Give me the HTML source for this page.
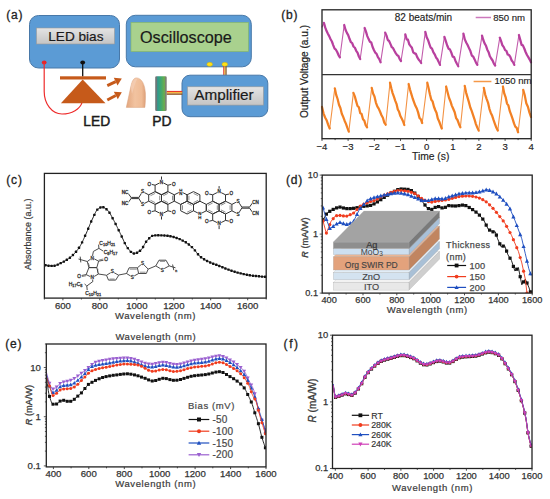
<!DOCTYPE html>
<html><head><meta charset="utf-8"><style>
html,body{margin:0;padding:0;background:#fff;}
svg{display:block;font-family:"Liberation Sans", sans-serif;}
</style></head><body>
<svg width="550" height="499" viewBox="0 0 550 499">
<defs>
<linearGradient id="gray" x1="0" y1="0" x2="0" y2="1"><stop offset="0" stop-color="#e4e4e4"/><stop offset="1" stop-color="#c4c4c4"/></linearGradient>
<linearGradient id="pdg" x1="0" y1="0" x2="1" y2="0"><stop offset="0" stop-color="#6c7676"/><stop offset="0.13" stop-color="#6c7878"/><stop offset="0.22" stop-color="#2f9a8e"/><stop offset="0.5" stop-color="#40a770"/><stop offset="0.8" stop-color="#6cae4c"/><stop offset="0.88" stop-color="#7a8474"/><stop offset="1" stop-color="#7a8070"/></linearGradient>
<linearGradient id="skin" x1="0" y1="0" x2="1" y2="0"><stop offset="0" stop-color="#e2a67e"/><stop offset="0.45" stop-color="#f2c3a0"/><stop offset="0.8" stop-color="#efbb95"/><stop offset="1" stop-color="#dc9f78"/></linearGradient>
</defs>
<rect width="550" height="499" fill="#fff"/>
<text x="6.3" y="19.2" font-size="12" fill="#222" font-weight="normal" text-anchor="start" letter-spacing="0.8" stroke="#222" stroke-width="0.3" >(a)</text>
<rect x="29.5" y="15.5" width="90" height="52.5" rx="9" fill="#5b9bd5" stroke="#4878a8" stroke-width="1"/>
<rect x="36.5" y="28" width="78" height="16" fill="url(#gray)" stroke="#9a9a9a" stroke-width="0.6"/>
<text x="48.3" y="40.8" font-size="13.6" fill="#1a1a1a" font-weight="normal" text-anchor="start" stroke="#1a1a1a" stroke-width="0.2" >LED bias</text>
<rect x="126.3" y="15.3" width="125" height="51.5" rx="9" fill="#5b9bd5" stroke="#4878a8" stroke-width="1"/>
<rect x="131" y="22.5" width="117.4" height="29" fill="#a9d18e" stroke="#86b86a" stroke-width="0.7"/>
<text x="140" y="42.8" font-size="16.2" fill="#1a1a1a" font-weight="normal" text-anchor="start" stroke="#1a1a1a" stroke-width="0.2" >Oscilloscope</text>
<ellipse cx="209.7" cy="64.3" rx="2.8" ry="2" fill="#ffe01a" stroke="#c8a800" stroke-width="0.4"/>
<ellipse cx="224.8" cy="64.3" rx="2.8" ry="2" fill="#ffe01a" stroke="#c8a800" stroke-width="0.4"/>
<rect x="223.3" y="66.3" width="1.1" height="9" fill="#e02a1a"/>
<rect x="224.4" y="66.3" width="1.1" height="9" fill="#f0b020"/>
<rect x="225.5" y="66.3" width="1.1" height="9" fill="#7a4a1a"/>
<rect x="182" y="75.2" width="85.8" height="41.5" rx="8" fill="#5b9bd5" stroke="#4878a8" stroke-width="1"/>
<rect x="187.5" y="86.8" width="75.9" height="18.3" fill="url(#gray)" stroke="#9a9a9a" stroke-width="0.6"/>
<text x="194.2" y="100" font-size="15.3" fill="#1a1a1a" font-weight="normal" text-anchor="start" stroke="#1a1a1a" stroke-width="0.2" >Amplifier</text>
<rect x="166.5" y="90.9" width="15.8" height="1.3" fill="#e83a2a"/>
<rect x="166.5" y="92.2" width="15.8" height="1.3" fill="#f5b020"/>
<rect x="166.5" y="93.5" width="15.8" height="1.3" fill="#8a5020"/>
<rect x="155.2" y="76.3" width="11.5" height="34.8" rx="1.3" fill="url(#pdg)"/>
<text x="152.2" y="126" font-size="13.8" fill="#1a1a1a" font-weight="normal" text-anchor="start" stroke="#1a1a1a" stroke-width="0.45" >PD</text>
<path d="M126.3,107.4 C128,100 130,90 131.4,84.2 C132.6,79.6 134.4,77.7 136.8,77.9 C141.6,78.4 144.8,84 145.4,93 C145.7,98 145.3,103 144.9,107.4 Z" fill="url(#skin)" stroke="#dba37e" stroke-width="0.5"/>
<path d="M130.9,86.3 C132.3,80.8 134.7,78.1 137.6,78.3 C136.6,80 135.5,82.6 134.6,85.6 C133.6,89 132.6,92 132.1,94 C131.4,91.5 130.9,88.8 130.9,86.3Z" fill="#f3cdb3" opacity="0.85"/>
<ellipse cx="44.2" cy="62.6" rx="2.4" ry="2" fill="#e8262a"/>
<ellipse cx="82.7" cy="62.6" rx="2.4" ry="2" fill="#111"/>
<line x1="82.7" y1="62.6" x2="82.7" y2="76.5" stroke="#111" stroke-width="1.3"/>
<path d="M44.2,63 L44.2,91.5 C44.2,104 52,114 62,114 C72,114 80,109 82,102.6" fill="none" stroke="#ee2c2c" stroke-width="1.2"/>
<rect x="60" y="76.3" width="46" height="3.2" fill="#c65a1a"/>
<path d="M82.7,79.5 L105.5,103.2 L60.9,103.2 Z" fill="#c65a1a"/>
<line x1="107.3" y1="85.6" x2="115.7" y2="81.6" stroke="#c65a1a" stroke-width="2.9"/>
<path d="M121.8,78.6 L117.5,85.4 L113.8,77.7Z" fill="#c65a1a"/>
<line x1="107.3" y1="100.0" x2="115.8" y2="95.5" stroke="#c65a1a" stroke-width="2.9"/>
<path d="M121.8,92.3 L117.8,99.3 L113.8,91.7Z" fill="#c65a1a"/>
<text x="83.3" y="126" font-size="13.8" fill="#1a1a1a" font-weight="normal" text-anchor="start" stroke="#1a1a1a" stroke-width="0.45" >LED</text>
<text x="281.2" y="19.2" font-size="12" fill="#222" font-weight="normal" text-anchor="start" letter-spacing="0.8" stroke="#222" stroke-width="0.3" >(b)</text>
<line x1="322.0" y1="27.0" x2="323.9" y2="22.9" stroke="#b8409e" stroke-width="1.1" stroke-linecap="round" opacity="0.85"/>
<path d="M323.9,22.9 L325.2,27.4 L326.6,31.1 L327.9,33.7 L329.2,36.1 L330.6,39.3 L331.9,41.5 L333.2,45.1 L334.6,48.7 L335.9,49.7 L337.2,52.0 L338.6,55.3 L339.9,57.3" fill="none" stroke="#b8409e" stroke-width="2.25" stroke-linejoin="round" stroke-linecap="round"/>
<line x1="339.9" y1="57.3" x2="344.2" y2="25.0" stroke="#b8409e" stroke-width="1.1" stroke-linecap="round" opacity="0.85"/>
<path d="M344.2,25.0 L345.5,29.7 L346.9,32.9 L348.2,35.1 L349.5,38.8 L350.9,42.2 L352.2,43.1 L353.5,46.5 L354.9,47.8 L356.2,50.8 L357.5,52.7 L358.9,56.5 L360.2,59.0" fill="none" stroke="#b8409e" stroke-width="2.25" stroke-linejoin="round" stroke-linecap="round"/>
<line x1="360.2" y1="59.0" x2="364.6" y2="28.0" stroke="#b8409e" stroke-width="1.1" stroke-linecap="round" opacity="0.85"/>
<path d="M364.6,28.0 L365.9,31.4 L367.3,36.1 L368.6,39.1 L369.9,41.8 L371.3,42.6 L372.6,47.0 L373.9,50.0 L375.3,52.7 L376.6,53.8 L377.9,57.1 L379.3,59.1 L380.6,62.3" fill="none" stroke="#b8409e" stroke-width="2.25" stroke-linejoin="round" stroke-linecap="round"/>
<line x1="380.6" y1="62.3" x2="385.2" y2="32.6" stroke="#b8409e" stroke-width="1.1" stroke-linecap="round" opacity="0.85"/>
<path d="M385.2,32.6 L386.5,35.6 L387.8,40.0 L389.1,41.0 L390.5,44.1 L391.8,47.2 L393.1,48.2 L394.4,50.8 L395.7,53.1 L397.1,55.1 L398.4,56.0 L399.7,59.1 L401.0,61.0" fill="none" stroke="#b8409e" stroke-width="2.25" stroke-linejoin="round" stroke-linecap="round"/>
<line x1="401.0" y1="61.0" x2="405.3" y2="34.4" stroke="#b8409e" stroke-width="1.1" stroke-linecap="round" opacity="0.85"/>
<path d="M405.3,34.4 L406.6,39.3 L407.9,39.7 L409.3,44.3 L410.6,46.1 L411.9,47.8 L413.2,52.3 L414.6,53.4 L415.9,53.9 L417.2,57.1 L418.6,59.5 L419.9,60.9 L421.2,63.0" fill="none" stroke="#b8409e" stroke-width="2.25" stroke-linejoin="round" stroke-linecap="round"/>
<line x1="421.2" y1="63.0" x2="425.3" y2="31.8" stroke="#b8409e" stroke-width="1.1" stroke-linecap="round" opacity="0.85"/>
<path d="M425.3,31.8 L426.6,37.0 L428.0,39.9 L429.3,43.8 L430.6,47.5 L432.0,48.6 L433.3,52.1 L434.7,54.3 L436.0,57.4 L437.3,58.9 L438.7,61.9 L440.0,64.9" fill="none" stroke="#b8409e" stroke-width="2.25" stroke-linejoin="round" stroke-linecap="round"/>
<line x1="440.0" y1="64.9" x2="444.4" y2="36.9" stroke="#b8409e" stroke-width="1.1" stroke-linecap="round" opacity="0.85"/>
<path d="M444.4,36.9 L445.8,41.2 L447.2,45.5 L448.6,48.8 L450.0,49.6 L451.4,52.8 L452.7,56.7 L454.1,57.1 L455.5,60.9 L456.9,63.7 L458.3,66.2" fill="none" stroke="#b8409e" stroke-width="2.25" stroke-linejoin="round" stroke-linecap="round"/>
<line x1="458.3" y1="66.2" x2="463.4" y2="33.6" stroke="#b8409e" stroke-width="1.1" stroke-linecap="round" opacity="0.85"/>
<path d="M463.4,33.6 L464.8,39.4 L466.2,42.5 L467.6,45.0 L469.0,48.1 L470.4,51.1 L471.8,55.5 L473.2,56.6 L474.6,59.4 L476.0,62.6 L477.4,64.9" fill="none" stroke="#b8409e" stroke-width="2.25" stroke-linejoin="round" stroke-linecap="round"/>
<line x1="477.4" y1="64.9" x2="482.0" y2="35.6" stroke="#b8409e" stroke-width="1.1" stroke-linecap="round" opacity="0.85"/>
<path d="M482.0,35.6 L483.3,40.0 L484.6,43.4 L486.0,45.8 L487.3,49.7 L488.6,52.2 L489.9,56.3 L491.2,58.5 L492.6,60.5 L493.9,63.6 L495.2,65.5" fill="none" stroke="#b8409e" stroke-width="2.25" stroke-linejoin="round" stroke-linecap="round"/>
<line x1="495.2" y1="65.5" x2="499.8" y2="37.7" stroke="#b8409e" stroke-width="1.1" stroke-linecap="round" opacity="0.85"/>
<path d="M499.8,37.7 L501.1,41.2 L502.4,45.3 L503.8,47.1 L505.1,50.1 L506.4,50.9 L507.7,54.5 L509.0,55.0 L510.3,56.9 L511.7,60.5 L513.0,62.1 L514.3,64.9" fill="none" stroke="#b8409e" stroke-width="2.25" stroke-linejoin="round" stroke-linecap="round"/>
<line x1="514.3" y1="64.9" x2="518.9" y2="35.0" stroke="#b8409e" stroke-width="1.1" stroke-linecap="round" opacity="0.85"/>
<path d="M518.9,35.0 L520.2,39.6 L521.6,44.9 L522.9,45.4 L524.3,48.5 L525.6,52.0 L527.0,55.0 L528.3,57.1 L529.7,59.6 L531.0,62.3" fill="none" stroke="#b8409e" stroke-width="2.25" stroke-linejoin="round" stroke-linecap="round"/>
<path d="M322.0,106.9 L323.5,113.3 L325.1,117.5 L326.6,120.2 L328.2,124.8 L329.7,128.5" fill="none" stroke="#f28024" stroke-width="2.25" stroke-linejoin="round" stroke-linecap="round"/>
<line x1="329.7" y1="128.5" x2="334.8" y2="88.3" stroke="#f28024" stroke-width="1.1" stroke-linecap="round" opacity="0.85"/>
<path d="M334.8,88.3 L336.2,94.9 L337.6,99.0 L339.0,104.7 L340.4,108.0 L341.8,113.7 L343.2,116.9 L344.6,120.7 L346.0,123.9 L347.4,127.9 L348.8,131.6" fill="none" stroke="#f28024" stroke-width="2.25" stroke-linejoin="round" stroke-linecap="round"/>
<line x1="348.8" y1="131.6" x2="353.4" y2="92.9" stroke="#f28024" stroke-width="1.1" stroke-linecap="round" opacity="0.85"/>
<path d="M353.4,92.9 L354.8,96.4 L356.1,101.1 L357.5,106.0 L358.9,107.3 L360.2,113.1 L361.6,114.0 L363.0,119.2 L364.4,120.8 L365.7,125.1 L367.1,127.3" fill="none" stroke="#f28024" stroke-width="2.25" stroke-linejoin="round" stroke-linecap="round"/>
<line x1="367.1" y1="127.3" x2="371.7" y2="87.8" stroke="#f28024" stroke-width="1.1" stroke-linecap="round" opacity="0.85"/>
<path d="M371.7,87.8 L373.1,93.5 L374.5,96.4 L375.9,102.6 L377.3,106.4 L378.7,108.6 L380.1,111.8 L381.5,115.2 L382.9,117.7 L384.3,122.6 L385.7,124.7" fill="none" stroke="#f28024" stroke-width="2.25" stroke-linejoin="round" stroke-linecap="round"/>
<line x1="385.7" y1="124.7" x2="390.0" y2="82.7" stroke="#f28024" stroke-width="1.1" stroke-linecap="round" opacity="0.85"/>
<path d="M390.0,82.7 L391.3,88.2 L392.6,93.1 L393.9,96.6 L395.2,100.6 L396.5,103.8 L397.8,109.5 L399.1,111.8 L400.4,116.1 L401.7,118.6 L403.0,121.2 L404.3,125.0" fill="none" stroke="#f28024" stroke-width="2.25" stroke-linejoin="round" stroke-linecap="round"/>
<line x1="404.3" y1="125.0" x2="408.6" y2="84.0" stroke="#f28024" stroke-width="1.1" stroke-linecap="round" opacity="0.85"/>
<path d="M408.6,84.0 L410.0,89.6 L411.3,93.9 L412.7,98.5 L414.0,102.1 L415.4,105.8 L416.8,108.5 L418.1,112.4 L419.5,117.9 L420.8,119.2 L422.2,123.0" fill="none" stroke="#f28024" stroke-width="2.25" stroke-linejoin="round" stroke-linecap="round"/>
<line x1="422.2" y1="123.0" x2="427.3" y2="82.7" stroke="#f28024" stroke-width="1.1" stroke-linecap="round" opacity="0.85"/>
<path d="M427.3,82.7 L428.6,88.2 L429.9,94.3 L431.3,99.7 L432.6,101.4 L433.9,106.5 L435.2,110.0 L436.5,112.8 L437.8,118.6 L439.2,121.5 L440.5,125.1 L441.8,128.5" fill="none" stroke="#f28024" stroke-width="2.25" stroke-linejoin="round" stroke-linecap="round"/>
<line x1="441.8" y1="128.5" x2="446.1" y2="86.5" stroke="#f28024" stroke-width="1.1" stroke-linecap="round" opacity="0.85"/>
<path d="M446.1,86.5 L447.5,92.0 L449.0,97.8 L450.4,101.2 L451.8,105.6 L453.2,108.7 L454.7,112.3 L456.1,118.1 L457.5,120.0 L459.0,124.2 L460.4,127.3" fill="none" stroke="#f28024" stroke-width="2.25" stroke-linejoin="round" stroke-linecap="round"/>
<line x1="460.4" y1="127.3" x2="464.7" y2="85.8" stroke="#f28024" stroke-width="1.1" stroke-linecap="round" opacity="0.85"/>
<path d="M464.7,85.8 L466.1,92.6 L467.5,97.4 L468.9,102.1 L470.3,107.5 L471.7,110.9 L473.1,115.1 L474.5,119.3 L475.9,124.1 L477.3,127.5 L478.7,130.6" fill="none" stroke="#f28024" stroke-width="2.25" stroke-linejoin="round" stroke-linecap="round"/>
<line x1="478.7" y1="130.6" x2="483.8" y2="87.8" stroke="#f28024" stroke-width="1.1" stroke-linecap="round" opacity="0.85"/>
<path d="M483.8,87.8 L485.2,94.6 L486.6,98.8 L488.0,102.6 L489.4,108.8 L490.8,112.9 L492.2,115.8 L493.6,120.2 L495.0,124.1 L496.4,127.8 L497.8,130.6" fill="none" stroke="#f28024" stroke-width="2.25" stroke-linejoin="round" stroke-linecap="round"/>
<line x1="497.8" y1="130.6" x2="502.9" y2="86.5" stroke="#f28024" stroke-width="1.1" stroke-linecap="round" opacity="0.85"/>
<path d="M502.9,86.5 L504.3,93.7 L505.7,97.4 L507.0,103.6 L508.4,105.4 L509.8,111.2 L511.2,114.8 L512.6,118.9 L514.0,123.4 L515.3,126.6 L516.7,127.9 L518.1,132.3" fill="none" stroke="#f28024" stroke-width="2.25" stroke-linejoin="round" stroke-linecap="round"/>
<line x1="518.1" y1="132.3" x2="523.2" y2="89.8" stroke="#f28024" stroke-width="1.1" stroke-linecap="round" opacity="0.85"/>
<path d="M523.2,89.8 L524.8,95.6 L526.3,103.3 L527.9,106.8 L529.4,112.4 L531.0,117.0" fill="none" stroke="#f28024" stroke-width="2.25" stroke-linejoin="round" stroke-linecap="round"/>
<rect x="322" y="9.8" width="209.2" height="128.9" fill="none" stroke="#222" stroke-width="1.3"/>
<line x1="322" y1="74.6" x2="531.2" y2="74.6" stroke="#333" stroke-width="1.2"/>
<line x1="322.0" y1="138.7" x2="322.0" y2="140.89999999999998" stroke="#333" stroke-width="0.9"/>
<line x1="335.1" y1="138.7" x2="335.1" y2="140.1" stroke="#333" stroke-width="0.9"/>
<line x1="348.1" y1="138.7" x2="348.1" y2="140.89999999999998" stroke="#333" stroke-width="0.9"/>
<line x1="361.2" y1="138.7" x2="361.2" y2="140.1" stroke="#333" stroke-width="0.9"/>
<line x1="374.3" y1="138.7" x2="374.3" y2="140.89999999999998" stroke="#333" stroke-width="0.9"/>
<line x1="387.4" y1="138.7" x2="387.4" y2="140.1" stroke="#333" stroke-width="0.9"/>
<line x1="400.5" y1="138.7" x2="400.5" y2="140.89999999999998" stroke="#333" stroke-width="0.9"/>
<line x1="413.5" y1="138.7" x2="413.5" y2="140.1" stroke="#333" stroke-width="0.9"/>
<line x1="426.6" y1="138.7" x2="426.6" y2="140.89999999999998" stroke="#333" stroke-width="0.9"/>
<line x1="439.7" y1="138.7" x2="439.7" y2="140.1" stroke="#333" stroke-width="0.9"/>
<line x1="452.8" y1="138.7" x2="452.8" y2="140.89999999999998" stroke="#333" stroke-width="0.9"/>
<line x1="465.8" y1="138.7" x2="465.8" y2="140.1" stroke="#333" stroke-width="0.9"/>
<line x1="478.9" y1="138.7" x2="478.9" y2="140.89999999999998" stroke="#333" stroke-width="0.9"/>
<line x1="492.0" y1="138.7" x2="492.0" y2="140.1" stroke="#333" stroke-width="0.9"/>
<line x1="505.1" y1="138.7" x2="505.1" y2="140.89999999999998" stroke="#333" stroke-width="0.9"/>
<line x1="518.1" y1="138.7" x2="518.1" y2="140.1" stroke="#333" stroke-width="0.9"/>
<line x1="531.2" y1="138.7" x2="531.2" y2="140.89999999999998" stroke="#333" stroke-width="0.9"/>
<text x="322" y="149.5" font-size="9.6" fill="#222" font-weight="normal" text-anchor="middle" stroke="#222" stroke-width="0.15" >−4</text>
<text x="348.1" y="149.5" font-size="9.6" fill="#222" font-weight="normal" text-anchor="middle" stroke="#222" stroke-width="0.15" >−3</text>
<text x="374.3" y="149.5" font-size="9.6" fill="#222" font-weight="normal" text-anchor="middle" stroke="#222" stroke-width="0.15" >−2</text>
<text x="400.5" y="149.5" font-size="9.6" fill="#222" font-weight="normal" text-anchor="middle" stroke="#222" stroke-width="0.15" >−1</text>
<text x="426.6" y="149.5" font-size="9.6" fill="#222" font-weight="normal" text-anchor="middle" stroke="#222" stroke-width="0.15" >0</text>
<text x="452.8" y="149.5" font-size="9.6" fill="#222" font-weight="normal" text-anchor="middle" stroke="#222" stroke-width="0.15" >1</text>
<text x="478.9" y="149.5" font-size="9.6" fill="#222" font-weight="normal" text-anchor="middle" stroke="#222" stroke-width="0.15" >2</text>
<text x="505.1" y="149.5" font-size="9.6" fill="#222" font-weight="normal" text-anchor="middle" stroke="#222" stroke-width="0.15" >3</text>
<text x="531.2" y="149.5" font-size="9.6" fill="#222" font-weight="normal" text-anchor="middle" stroke="#222" stroke-width="0.15" >4</text>
<text x="412" y="160.3" font-size="10.3" fill="#222" font-weight="normal" text-anchor="start" stroke="#222" stroke-width="0.15" >Time (s)</text>
<text x="394.8" y="21.2" font-size="10" fill="#222" font-weight="normal" text-anchor="start" stroke="#222" stroke-width="0.15" >82 beats/min</text>
<line x1="475.7" y1="17.5" x2="491" y2="17.5" stroke="#cc78bc" stroke-width="1.5"/>
<text x="493.3" y="20.6" font-size="9.6" fill="#222" font-weight="normal" text-anchor="start" letter-spacing="-0.05" stroke="#222" stroke-width="0.15" >850 nm</text>
<line x1="473.6" y1="81.5" x2="491.4" y2="81.5" stroke="#f59848" stroke-width="1.5"/>
<text x="494.5" y="84" font-size="9.6" fill="#222" font-weight="normal" text-anchor="start" letter-spacing="-0.05" stroke="#222" stroke-width="0.15" >1050 nm</text>
<text x="0" y="0" font-size="10.1" fill="#222" stroke="#222" stroke-width="0.2" text-anchor="middle" transform="translate(308,71.5) rotate(-90)">Output Voltage (a.u.)</text>
<text x="6.3" y="184.3" font-size="12" fill="#222" font-weight="normal" text-anchor="start" letter-spacing="0.8" stroke="#222" stroke-width="0.3" >(c)</text>
<path d="M44.4,264.8 L44.9,265.0 L45.4,265.1 L45.9,265.3 L46.4,265.4 L46.9,265.5 L47.4,265.6 L47.9,265.7 L48.4,265.7 L48.9,265.8 L49.4,265.8 L49.9,265.8 L50.4,265.9 L50.9,265.9 L51.4,265.9 L51.9,265.9 L52.4,265.9 L52.9,265.9 L53.4,265.9 L53.9,265.9 L54.4,265.8 L54.9,265.7 L55.4,265.5 L55.9,265.4 L56.4,265.2 L56.9,265.0 L57.4,264.8 L57.9,264.6 L58.4,264.3 L58.9,264.1 L59.4,263.8 L59.9,263.5 L60.4,263.3 L60.9,263.0 L61.4,262.8 L61.9,262.6 L62.4,262.3 L62.9,262.1 L63.4,261.8 L63.9,261.5 L64.4,261.3 L64.9,261.0 L65.4,260.7 L65.9,260.4 L66.4,260.1 L66.9,259.8 L67.4,259.5 L67.9,259.1 L68.4,258.8 L68.9,258.4 L69.4,258.0 L69.9,257.7 L70.4,257.3 L70.9,256.9 L71.4,256.5 L71.9,256.0 L72.4,255.6 L72.9,255.1 L73.4,254.6 L73.9,254.1 L74.4,253.6 L74.9,253.0 L75.4,252.5 L75.9,251.9 L76.4,251.3 L76.9,250.7 L77.4,250.0 L77.9,249.4 L78.4,248.7 L78.9,248.0 L79.4,247.3 L79.9,246.5 L80.4,245.6 L80.9,244.7 L81.4,243.8 L81.9,242.8 L82.4,241.7 L82.9,240.7 L83.4,239.6 L83.9,238.5 L84.4,237.4 L84.9,236.3 L85.4,235.2 L85.9,234.1 L86.4,233.0 L86.9,231.8 L87.4,230.7 L87.9,229.5 L88.4,228.2 L88.9,227.0 L89.4,225.8 L89.9,224.6 L90.4,223.4 L90.9,222.3 L91.4,221.1 L91.9,220.0 L92.4,219.0 L92.9,218.0 L93.4,216.9 L93.9,215.8 L94.4,214.7 L94.9,213.7 L95.4,212.7 L95.9,211.7 L96.4,210.9 L96.9,210.2 L97.4,209.6 L97.9,209.1 L98.4,208.7 L98.9,208.4 L99.4,208.0 L99.9,207.7 L100.4,207.5 L100.9,207.3 L101.4,207.1 L101.9,207.0 L102.4,207.0 L102.9,207.1 L103.4,207.2 L103.9,207.5 L104.4,207.7 L104.9,208.1 L105.4,208.4 L105.9,208.8 L106.4,209.2 L106.9,209.7 L107.4,210.1 L107.9,210.6 L108.4,211.1 L108.9,211.8 L109.4,212.5 L109.9,213.3 L110.4,214.1 L110.9,215.0 L111.4,215.9 L111.9,216.8 L112.4,217.8 L112.9,218.8 L113.4,219.7 L113.9,220.6 L114.4,221.6 L114.9,222.5 L115.4,223.5 L115.9,224.4 L116.4,225.4 L116.9,226.5 L117.4,227.5 L117.9,228.5 L118.4,229.6 L118.9,230.6 L119.4,231.7 L119.9,232.7 L120.4,233.7 L120.9,234.7 L121.4,235.7 L121.9,236.8 L122.4,237.9 L122.9,239.0 L123.4,240.1 L123.9,241.2 L124.4,242.3 L124.9,243.3 L125.4,244.3 L125.9,245.2 L126.4,246.1 L126.9,246.9 L127.4,247.5 L127.9,248.2 L128.4,248.8 L128.9,249.5 L129.4,250.1 L129.9,250.7 L130.4,251.3 L130.9,251.9 L131.4,252.3 L131.9,252.7 L132.4,253.1 L132.9,253.3 L133.4,253.5 L133.9,253.5 L134.4,253.5 L134.9,253.4 L135.4,253.3 L135.9,253.1 L136.4,252.9 L136.9,252.7 L137.4,252.5 L137.9,252.2 L138.4,251.9 L138.9,251.6 L139.4,251.3 L139.9,250.9 L140.4,250.6 L140.9,250.2 L141.4,249.6 L141.9,248.9 L142.4,248.2 L142.9,247.3 L143.4,246.5 L143.9,245.5 L144.4,244.6 L144.9,243.7 L145.4,242.9 L145.9,242.1 L146.4,241.4 L146.9,240.8 L147.4,240.3 L147.9,239.7 L148.4,239.2 L148.9,238.6 L149.4,238.1 L149.9,237.6 L150.4,237.2 L150.9,236.7 L151.4,236.4 L151.9,236.0 L152.4,235.8 L152.9,235.6 L153.4,235.5 L153.9,235.5 L154.4,235.4 L154.9,235.4 L155.4,235.4 L155.9,235.4 L156.4,235.3 L156.9,235.3 L157.4,235.3 L157.9,235.3 L158.4,235.3 L158.9,235.3 L159.4,235.3 L159.9,235.3 L160.4,235.3 L160.9,235.3 L161.4,235.4 L161.9,235.4 L162.4,235.4 L162.9,235.4 L163.4,235.5 L163.9,235.5 L164.4,235.5 L164.9,235.6 L165.4,235.6 L165.9,235.7 L166.4,235.7 L166.9,235.8 L167.4,235.8 L167.9,235.9 L168.4,235.9 L168.9,236.0 L169.4,236.1 L169.9,236.1 L170.4,236.2 L170.9,236.3 L171.4,236.4 L171.9,236.6 L172.4,236.7 L172.9,236.8 L173.4,237.0 L173.9,237.1 L174.4,237.3 L174.9,237.4 L175.4,237.6 L175.9,237.7 L176.4,237.9 L176.9,238.1 L177.4,238.2 L177.9,238.4 L178.4,238.6 L178.9,238.8 L179.4,239.0 L179.9,239.2 L180.4,239.4 L180.9,239.7 L181.4,239.9 L181.9,240.1 L182.4,240.4 L182.9,240.7 L183.4,240.9 L183.9,241.2 L184.4,241.5 L184.9,241.8 L185.4,242.1 L185.9,242.4 L186.4,242.7 L186.9,243.0 L187.4,243.4 L187.9,243.7 L188.4,244.1 L188.9,244.5 L189.4,244.9 L189.9,245.3 L190.4,245.8 L190.9,246.2 L191.4,246.7 L191.9,247.1 L192.4,247.6 L192.9,248.1 L193.4,248.6 L193.9,249.1 L194.4,249.7 L194.9,250.3 L195.4,251.0 L195.9,251.6 L196.4,252.3 L196.9,252.9 L197.4,253.6 L197.9,254.2 L198.4,254.8 L198.9,255.4 L199.4,255.9 L199.9,256.3 L200.4,256.7 L200.9,257.1 L201.4,257.5 L201.9,257.9 L202.4,258.2 L202.9,258.6 L203.4,258.9 L203.9,259.2 L204.4,259.5 L204.9,259.8 L205.4,260.1 L205.9,260.4 L206.4,260.6 L206.9,260.9 L207.4,261.2 L207.9,261.4 L208.4,261.7 L208.9,261.9 L209.4,262.1 L209.9,262.4 L210.4,262.6 L210.9,262.8 L211.4,263.0 L211.9,263.2 L212.4,263.4 L212.9,263.6 L213.4,263.8 L213.9,263.9 L214.4,264.1 L214.9,264.3 L215.4,264.5 L215.9,264.6 L216.4,264.8 L216.9,265.0 L217.4,265.2 L217.9,265.4 L218.4,265.6 L218.9,265.8 L219.4,266.0 L219.9,266.2 L220.4,266.4 L220.9,266.6 L221.4,266.8 L221.9,267.0 L222.4,267.2 L222.9,267.4 L223.4,267.6 L223.9,267.8 L224.4,268.0 L224.9,268.3 L225.4,268.5 L225.9,268.7 L226.4,268.9 L226.9,269.0 L227.4,269.2 L227.9,269.4 L228.4,269.6 L228.9,269.8 L229.4,270.0 L229.9,270.1 L230.4,270.3 L230.9,270.5 L231.4,270.6 L231.9,270.8 L232.4,271.0 L232.9,271.1 L233.4,271.3 L233.9,271.5 L234.4,271.6 L234.9,271.8 L235.4,271.9 L235.9,272.1 L236.4,272.2 L236.9,272.4 L237.4,272.5 L237.9,272.6 L238.4,272.8 L238.9,272.9 L239.4,273.0 L239.9,273.2 L240.4,273.3 L240.9,273.4 L241.4,273.5 L241.9,273.6 L242.4,273.7 L242.9,273.9 L243.4,274.0 L243.9,274.1 L244.4,274.2 L244.9,274.3 L245.4,274.4 L245.9,274.5 L246.4,274.6 L246.9,274.7 L247.4,274.8 L247.9,274.9 L248.4,275.0 L248.9,275.1 L249.4,275.2 L249.9,275.3 L250.4,275.3 L250.9,275.4 L251.4,275.5 L251.9,275.5 L252.4,275.6 L252.9,275.7 L253.4,275.7 L253.9,275.8 L254.4,275.9 L254.9,275.9 L255.4,276.0 L255.9,276.0 L256.4,276.1 L256.9,276.1 L257.4,276.2 L257.9,276.2 L258.4,276.3 L258.9,276.3 L259.4,276.4 L259.9,276.4 L260.4,276.5 L260.9,276.5 L261.4,276.5 L261.9,276.6 L262.4,276.6 L262.9,276.7 L263.4,276.7 L263.9,276.7 L264.4,276.7 L264.9,276.8 L265.4,276.8 L265.9,276.8 L266.0,276.8" fill="none" stroke="#222" stroke-width="1"/>
<rect x="44.3" y="264.0" width="2.4" height="2.4" rx="0.6" fill="#111"/>
<rect x="47.3" y="264.5" width="2.4" height="2.4" rx="0.6" fill="#111"/>
<rect x="50.4" y="264.7" width="2.4" height="2.4" rx="0.6" fill="#111"/>
<rect x="53.4" y="264.5" width="2.4" height="2.4" rx="0.6" fill="#111"/>
<rect x="56.5" y="263.4" width="2.4" height="2.4" rx="0.6" fill="#111"/>
<rect x="59.5" y="261.9" width="2.4" height="2.4" rx="0.6" fill="#111"/>
<rect x="62.6" y="260.4" width="2.4" height="2.4" rx="0.6" fill="#111"/>
<rect x="65.6" y="258.6" width="2.4" height="2.4" rx="0.6" fill="#111"/>
<rect x="68.7" y="256.5" width="2.4" height="2.4" rx="0.6" fill="#111"/>
<rect x="71.7" y="253.8" width="2.4" height="2.4" rx="0.6" fill="#111"/>
<rect x="74.8" y="250.6" width="2.4" height="2.4" rx="0.6" fill="#111"/>
<rect x="77.8" y="246.6" width="2.4" height="2.4" rx="0.6" fill="#111"/>
<rect x="80.9" y="241.2" width="2.4" height="2.4" rx="0.6" fill="#111"/>
<rect x="83.9" y="234.5" width="2.4" height="2.4" rx="0.6" fill="#111"/>
<rect x="87.0" y="227.5" width="2.4" height="2.4" rx="0.6" fill="#111"/>
<rect x="90.0" y="220.3" width="2.4" height="2.4" rx="0.6" fill="#111"/>
<rect x="93.1" y="213.7" width="2.4" height="2.4" rx="0.6" fill="#111"/>
<rect x="96.1" y="208.4" width="2.4" height="2.4" rx="0.6" fill="#111"/>
<rect x="99.2" y="206.3" width="2.4" height="2.4" rx="0.6" fill="#111"/>
<rect x="102.2" y="206.1" width="2.4" height="2.4" rx="0.6" fill="#111"/>
<rect x="105.3" y="208.1" width="2.4" height="2.4" rx="0.6" fill="#111"/>
<rect x="108.3" y="211.5" width="2.4" height="2.4" rx="0.6" fill="#111"/>
<rect x="111.4" y="217.0" width="2.4" height="2.4" rx="0.6" fill="#111"/>
<rect x="114.4" y="222.8" width="2.4" height="2.4" rx="0.6" fill="#111"/>
<rect x="117.5" y="229.0" width="2.4" height="2.4" rx="0.6" fill="#111"/>
<rect x="120.5" y="235.3" width="2.4" height="2.4" rx="0.6" fill="#111"/>
<rect x="123.6" y="241.9" width="2.4" height="2.4" rx="0.6" fill="#111"/>
<rect x="126.6" y="246.9" width="2.4" height="2.4" rx="0.6" fill="#111"/>
<rect x="129.7" y="250.7" width="2.4" height="2.4" rx="0.6" fill="#111"/>
<rect x="132.7" y="252.3" width="2.4" height="2.4" rx="0.6" fill="#111"/>
<rect x="135.8" y="251.5" width="2.4" height="2.4" rx="0.6" fill="#111"/>
<rect x="138.8" y="249.6" width="2.4" height="2.4" rx="0.6" fill="#111"/>
<rect x="141.9" y="245.8" width="2.4" height="2.4" rx="0.6" fill="#111"/>
<rect x="144.9" y="240.5" width="2.4" height="2.4" rx="0.6" fill="#111"/>
<rect x="148.0" y="237.1" width="2.4" height="2.4" rx="0.6" fill="#111"/>
<rect x="151.0" y="234.7" width="2.4" height="2.4" rx="0.6" fill="#111"/>
<rect x="154.1" y="234.2" width="2.4" height="2.4" rx="0.6" fill="#111"/>
<rect x="157.1" y="234.1" width="2.4" height="2.4" rx="0.6" fill="#111"/>
<rect x="160.2" y="234.2" width="2.4" height="2.4" rx="0.6" fill="#111"/>
<rect x="163.2" y="234.3" width="2.4" height="2.4" rx="0.6" fill="#111"/>
<rect x="166.3" y="234.6" width="2.4" height="2.4" rx="0.6" fill="#111"/>
<rect x="169.3" y="235.1" width="2.4" height="2.4" rx="0.6" fill="#111"/>
<rect x="172.4" y="235.8" width="2.4" height="2.4" rx="0.6" fill="#111"/>
<rect x="175.4" y="236.8" width="2.4" height="2.4" rx="0.6" fill="#111"/>
<rect x="178.5" y="237.9" width="2.4" height="2.4" rx="0.6" fill="#111"/>
<rect x="181.5" y="239.4" width="2.4" height="2.4" rx="0.6" fill="#111"/>
<rect x="184.6" y="241.1" width="2.4" height="2.4" rx="0.6" fill="#111"/>
<rect x="187.6" y="243.3" width="2.4" height="2.4" rx="0.6" fill="#111"/>
<rect x="190.7" y="245.9" width="2.4" height="2.4" rx="0.6" fill="#111"/>
<rect x="193.7" y="249.2" width="2.4" height="2.4" rx="0.6" fill="#111"/>
<rect x="196.8" y="253.1" width="2.4" height="2.4" rx="0.6" fill="#111"/>
<rect x="199.8" y="256.0" width="2.4" height="2.4" rx="0.6" fill="#111"/>
<rect x="202.9" y="258.1" width="2.4" height="2.4" rx="0.6" fill="#111"/>
<rect x="205.9" y="259.8" width="2.4" height="2.4" rx="0.6" fill="#111"/>
<rect x="209.0" y="261.3" width="2.4" height="2.4" rx="0.6" fill="#111"/>
<rect x="212.0" y="262.5" width="2.4" height="2.4" rx="0.6" fill="#111"/>
<rect x="215.1" y="263.6" width="2.4" height="2.4" rx="0.6" fill="#111"/>
<rect x="218.1" y="264.8" width="2.4" height="2.4" rx="0.6" fill="#111"/>
<rect x="221.2" y="266.0" width="2.4" height="2.4" rx="0.6" fill="#111"/>
<rect x="224.2" y="267.3" width="2.4" height="2.4" rx="0.6" fill="#111"/>
<rect x="227.3" y="268.4" width="2.4" height="2.4" rx="0.6" fill="#111"/>
<rect x="230.3" y="269.5" width="2.4" height="2.4" rx="0.6" fill="#111"/>
<rect x="233.4" y="270.5" width="2.4" height="2.4" rx="0.6" fill="#111"/>
<rect x="236.4" y="271.4" width="2.4" height="2.4" rx="0.6" fill="#111"/>
<rect x="239.5" y="272.2" width="2.4" height="2.4" rx="0.6" fill="#111"/>
<rect x="242.5" y="272.9" width="2.4" height="2.4" rx="0.6" fill="#111"/>
<rect x="245.6" y="273.5" width="2.4" height="2.4" rx="0.6" fill="#111"/>
<rect x="248.6" y="274.1" width="2.4" height="2.4" rx="0.6" fill="#111"/>
<rect x="251.7" y="274.5" width="2.4" height="2.4" rx="0.6" fill="#111"/>
<rect x="254.7" y="274.8" width="2.4" height="2.4" rx="0.6" fill="#111"/>
<rect x="257.8" y="275.1" width="2.4" height="2.4" rx="0.6" fill="#111"/>
<rect x="260.8" y="275.4" width="2.4" height="2.4" rx="0.6" fill="#111"/>
<rect x="263.9" y="275.6" width="2.4" height="2.4" rx="0.6" fill="#111"/>
<rect x="44.4" y="173.4" width="221.8" height="124.7" fill="none" stroke="#222" stroke-width="1.3"/>
<line x1="44.4" y1="298.1" x2="44.4" y2="299.5" stroke="#333" stroke-width="0.9"/>
<line x1="62.9" y1="298.1" x2="62.9" y2="300.3" stroke="#333" stroke-width="0.9"/>
<line x1="81.4" y1="298.1" x2="81.4" y2="299.5" stroke="#333" stroke-width="0.9"/>
<line x1="99.8" y1="298.1" x2="99.8" y2="300.3" stroke="#333" stroke-width="0.9"/>
<line x1="118.3" y1="298.1" x2="118.3" y2="299.5" stroke="#333" stroke-width="0.9"/>
<line x1="136.8" y1="298.1" x2="136.8" y2="300.3" stroke="#333" stroke-width="0.9"/>
<line x1="155.3" y1="298.1" x2="155.3" y2="299.5" stroke="#333" stroke-width="0.9"/>
<line x1="173.8" y1="298.1" x2="173.8" y2="300.3" stroke="#333" stroke-width="0.9"/>
<line x1="192.3" y1="298.1" x2="192.3" y2="299.5" stroke="#333" stroke-width="0.9"/>
<line x1="210.7" y1="298.1" x2="210.7" y2="300.3" stroke="#333" stroke-width="0.9"/>
<line x1="229.2" y1="298.1" x2="229.2" y2="299.5" stroke="#333" stroke-width="0.9"/>
<line x1="247.7" y1="298.1" x2="247.7" y2="300.3" stroke="#333" stroke-width="0.9"/>
<line x1="266.2" y1="298.1" x2="266.2" y2="299.5" stroke="#333" stroke-width="0.9"/>
<text x="62.9" y="309" font-size="9.6" fill="#333" font-weight="normal" text-anchor="middle" stroke="#333" stroke-width="0.25" >600</text>
<text x="99.8" y="309" font-size="9.6" fill="#333" font-weight="normal" text-anchor="middle" stroke="#333" stroke-width="0.25" >800</text>
<text x="136.8" y="309" font-size="9.6" fill="#333" font-weight="normal" text-anchor="middle" stroke="#333" stroke-width="0.25" >1000</text>
<text x="173.8" y="309" font-size="9.6" fill="#333" font-weight="normal" text-anchor="middle" stroke="#333" stroke-width="0.25" >1200</text>
<text x="210.7" y="309" font-size="9.6" fill="#333" font-weight="normal" text-anchor="middle" stroke="#333" stroke-width="0.25" >1400</text>
<text x="247.7" y="309" font-size="9.6" fill="#333" font-weight="normal" text-anchor="middle" stroke="#333" stroke-width="0.25" >1600</text>
<text x="155.5" y="319.3" font-size="9.5" fill="#3a3a3a" font-weight="normal" text-anchor="middle" letter-spacing="0.6" stroke="#3a3a3a" stroke-width="0.2" >Wavelength (nm)</text>
<text x="0" y="0" font-size="9" fill="#3a3a3a" stroke="#3a3a3a" stroke-width="0.2" text-anchor="middle" transform="translate(31.2,234.3) rotate(-90)">Absorbance (a.u.)</text>
<path d="M155.1,191.6 L161.5,194.8 L161.5,201.2 L155.1,204.4 L148.7,201.2 L148.7,194.8Z" fill="none" stroke="#333" stroke-width="1.0" stroke-linejoin="round"/>
<path d="M167.9,191.6 L174.3,194.8 L174.3,201.2 L167.9,204.4 L161.5,201.2 L161.5,194.8Z" fill="none" stroke="#333" stroke-width="1.0" stroke-linejoin="round"/>
<path d="M161.5,182.0 L167.9,185.2 L167.9,191.6 L161.5,194.8 L155.1,191.6 L155.1,185.2Z" fill="none" stroke="#333" stroke-width="1.0" stroke-linejoin="round"/>
<path d="M161.5,201.2 L167.9,204.4 L167.9,210.8 L161.5,214.0 L155.1,210.8 L155.1,204.4Z" fill="none" stroke="#333" stroke-width="1.0" stroke-linejoin="round"/>
<line x1="159.7" y1="195.7" x2="159.7" y2="200.3" stroke="#333" stroke-width="0.55"/>
<line x1="155.1" y1="202.6" x2="150.5" y2="200.3" stroke="#333" stroke-width="0.55"/>
<line x1="150.5" y1="195.7" x2="155.1" y2="193.4" stroke="#333" stroke-width="0.55"/>
<line x1="172.5" y1="195.7" x2="172.5" y2="200.3" stroke="#333" stroke-width="0.55"/>
<line x1="167.9" y1="202.6" x2="163.3" y2="200.3" stroke="#333" stroke-width="0.55"/>
<line x1="163.3" y1="195.7" x2="167.9" y2="193.4" stroke="#333" stroke-width="0.55"/>
<line x1="161.5" y1="182.0" x2="161.5" y2="176.5" stroke="#333" stroke-width="1.0"/>
<line x1="155.1" y1="185.2" x2="151.5" y2="184.4" stroke="#333" stroke-width="1.0"/>
<text x="149.3" y="185.7" font-size="4.6" fill="#fff" text-anchor="middle" stroke="#fff" stroke-width="1.2">O</text>
<text x="149.3" y="185.7" font-size="4.6" fill="#303030" text-anchor="middle" stroke="#303030" stroke-width="0.3">O</text>
<line x1="167.9" y1="185.2" x2="171.5" y2="184.4" stroke="#333" stroke-width="1.0"/>
<text x="173.7" y="185.7" font-size="4.6" fill="#fff" text-anchor="middle" stroke="#fff" stroke-width="1.2">O</text>
<text x="173.7" y="185.7" font-size="4.6" fill="#303030" text-anchor="middle" stroke="#303030" stroke-width="0.3">O</text>
<text x="161.5" y="183.7" font-size="4.6" fill="#fff" text-anchor="middle" stroke="#fff" stroke-width="1.2">N</text>
<text x="161.5" y="183.7" font-size="4.6" fill="#303030" text-anchor="middle" stroke="#303030" stroke-width="0.3">N</text>
<line x1="161.5" y1="214.0" x2="161.5" y2="219.5" stroke="#333" stroke-width="1.0"/>
<line x1="155.1" y1="210.8" x2="151.5" y2="211.6" stroke="#333" stroke-width="1.0"/>
<text x="149.3" y="213.7" font-size="4.6" fill="#fff" text-anchor="middle" stroke="#fff" stroke-width="1.2">O</text>
<text x="149.3" y="213.7" font-size="4.6" fill="#303030" text-anchor="middle" stroke="#303030" stroke-width="0.3">O</text>
<line x1="167.9" y1="210.8" x2="171.5" y2="211.6" stroke="#333" stroke-width="1.0"/>
<text x="173.7" y="213.7" font-size="4.6" fill="#fff" text-anchor="middle" stroke="#fff" stroke-width="1.2">O</text>
<text x="173.7" y="213.7" font-size="4.6" fill="#303030" text-anchor="middle" stroke="#303030" stroke-width="0.3">O</text>
<text x="161.5" y="215.7" font-size="4.6" fill="#fff" text-anchor="middle" stroke="#fff" stroke-width="1.2">N</text>
<text x="161.5" y="215.7" font-size="4.6" fill="#303030" text-anchor="middle" stroke="#303030" stroke-width="0.3">N</text>
<path d="M148.7,194.8 L142.5,191.6 L138.5,198.0 L142.5,204.4 L148.7,201.2" fill="none" stroke="#333" stroke-width="1.0" stroke-linejoin="round"/>
<text x="142.5" y="193.1" font-size="4.6" fill="#fff" text-anchor="middle" stroke="#fff" stroke-width="1.2">S</text>
<text x="142.5" y="193.1" font-size="4.6" fill="#303030" text-anchor="middle" stroke="#303030" stroke-width="0.3">S</text>
<text x="142.5" y="206.3" font-size="4.6" fill="#fff" text-anchor="middle" stroke="#fff" stroke-width="1.2">S</text>
<text x="142.5" y="206.3" font-size="4.6" fill="#303030" text-anchor="middle" stroke="#303030" stroke-width="0.3">S</text>
<line x1="138.5" y1="197.4" x2="131.5" y2="197.4" stroke="#333" stroke-width="1.0"/>
<line x1="138.5" y1="198.6" x2="131.5" y2="198.6" stroke="#333" stroke-width="1.0"/>
<line x1="131.5" y1="198.0" x2="128.0" y2="193.2" stroke="#333" stroke-width="1.0"/>
<line x1="131.5" y1="198.0" x2="128.0" y2="202.8" stroke="#333" stroke-width="1.0"/>
<text x="125.0" y="194.1" font-size="4.6" fill="#fff" text-anchor="middle" stroke="#fff" stroke-width="1.2">NC</text>
<text x="125.0" y="194.1" font-size="4.6" fill="#303030" text-anchor="middle" stroke="#303030" stroke-width="0.3">NC</text>
<text x="125.0" y="205.3" font-size="4.6" fill="#fff" text-anchor="middle" stroke="#fff" stroke-width="1.2">NC</text>
<text x="125.0" y="205.3" font-size="4.6" fill="#303030" text-anchor="middle" stroke="#303030" stroke-width="0.3">NC</text>
<path d="M212.7,201.2 L219.1,204.4 L219.1,210.8 L212.7,214.0 L206.3,210.8 L206.3,204.4Z" fill="none" stroke="#333" stroke-width="1.0" stroke-linejoin="round"/>
<path d="M225.5,201.2 L231.9,204.4 L231.9,210.8 L225.5,214.0 L219.1,210.8 L219.1,204.4Z" fill="none" stroke="#333" stroke-width="1.0" stroke-linejoin="round"/>
<path d="M219.1,191.6 L225.5,194.8 L225.5,201.2 L219.1,204.4 L212.7,201.2 L212.7,194.8Z" fill="none" stroke="#333" stroke-width="1.0" stroke-linejoin="round"/>
<path d="M219.1,210.8 L225.5,214.0 L225.5,220.4 L219.1,223.6 L212.7,220.4 L212.7,214.0Z" fill="none" stroke="#333" stroke-width="1.0" stroke-linejoin="round"/>
<line x1="217.3" y1="205.3" x2="217.3" y2="209.9" stroke="#333" stroke-width="0.55"/>
<line x1="212.7" y1="212.2" x2="208.1" y2="209.9" stroke="#333" stroke-width="0.55"/>
<line x1="208.1" y1="205.3" x2="212.7" y2="203.0" stroke="#333" stroke-width="0.55"/>
<line x1="230.1" y1="205.3" x2="230.1" y2="209.9" stroke="#333" stroke-width="0.55"/>
<line x1="225.5" y1="212.2" x2="220.9" y2="209.9" stroke="#333" stroke-width="0.55"/>
<line x1="220.9" y1="205.3" x2="225.5" y2="203.0" stroke="#333" stroke-width="0.55"/>
<line x1="219.1" y1="191.6" x2="219.1" y2="186.1" stroke="#333" stroke-width="1.0"/>
<line x1="212.7" y1="194.8" x2="209.1" y2="194.0" stroke="#333" stroke-width="1.0"/>
<text x="206.9" y="195.3" font-size="4.6" fill="#fff" text-anchor="middle" stroke="#fff" stroke-width="1.2">O</text>
<text x="206.9" y="195.3" font-size="4.6" fill="#303030" text-anchor="middle" stroke="#303030" stroke-width="0.3">O</text>
<line x1="225.5" y1="194.8" x2="229.1" y2="194.0" stroke="#333" stroke-width="1.0"/>
<text x="231.3" y="195.3" font-size="4.6" fill="#fff" text-anchor="middle" stroke="#fff" stroke-width="1.2">O</text>
<text x="231.3" y="195.3" font-size="4.6" fill="#303030" text-anchor="middle" stroke="#303030" stroke-width="0.3">O</text>
<text x="219.1" y="193.3" font-size="4.6" fill="#fff" text-anchor="middle" stroke="#fff" stroke-width="1.2">N</text>
<text x="219.1" y="193.3" font-size="4.6" fill="#303030" text-anchor="middle" stroke="#303030" stroke-width="0.3">N</text>
<line x1="219.1" y1="223.6" x2="219.1" y2="229.1" stroke="#333" stroke-width="1.0"/>
<line x1="212.7" y1="220.4" x2="209.1" y2="221.2" stroke="#333" stroke-width="1.0"/>
<text x="206.9" y="223.3" font-size="4.6" fill="#fff" text-anchor="middle" stroke="#fff" stroke-width="1.2">O</text>
<text x="206.9" y="223.3" font-size="4.6" fill="#303030" text-anchor="middle" stroke="#303030" stroke-width="0.3">O</text>
<line x1="225.5" y1="220.4" x2="229.1" y2="221.2" stroke="#333" stroke-width="1.0"/>
<text x="231.3" y="223.3" font-size="4.6" fill="#fff" text-anchor="middle" stroke="#fff" stroke-width="1.2">O</text>
<text x="231.3" y="223.3" font-size="4.6" fill="#303030" text-anchor="middle" stroke="#303030" stroke-width="0.3">O</text>
<text x="219.1" y="225.3" font-size="4.6" fill="#fff" text-anchor="middle" stroke="#fff" stroke-width="1.2">N</text>
<text x="219.1" y="225.3" font-size="4.6" fill="#303030" text-anchor="middle" stroke="#303030" stroke-width="0.3">N</text>
<path d="M231.9,204.4 L238.1,201.2 L242.1,207.6 L238.1,214.0 L231.9,210.8" fill="none" stroke="#333" stroke-width="1.0" stroke-linejoin="round"/>
<text x="238.1" y="202.7" font-size="4.6" fill="#fff" text-anchor="middle" stroke="#fff" stroke-width="1.2">S</text>
<text x="238.1" y="202.7" font-size="4.6" fill="#303030" text-anchor="middle" stroke="#303030" stroke-width="0.3">S</text>
<text x="238.1" y="215.9" font-size="4.6" fill="#fff" text-anchor="middle" stroke="#fff" stroke-width="1.2">S</text>
<text x="238.1" y="215.9" font-size="4.6" fill="#303030" text-anchor="middle" stroke="#303030" stroke-width="0.3">S</text>
<line x1="242.1" y1="207.0" x2="249.1" y2="207.0" stroke="#333" stroke-width="1.0"/>
<line x1="242.1" y1="208.2" x2="249.1" y2="208.2" stroke="#333" stroke-width="1.0"/>
<line x1="249.1" y1="207.6" x2="252.6" y2="202.8" stroke="#333" stroke-width="1.0"/>
<line x1="249.1" y1="207.6" x2="252.6" y2="212.4" stroke="#333" stroke-width="1.0"/>
<text x="255.6" y="203.7" font-size="4.6" fill="#fff" text-anchor="middle" stroke="#fff" stroke-width="1.2">CN</text>
<text x="255.6" y="203.7" font-size="4.6" fill="#303030" text-anchor="middle" stroke="#303030" stroke-width="0.3">CN</text>
<text x="255.6" y="214.9" font-size="4.6" fill="#fff" text-anchor="middle" stroke="#fff" stroke-width="1.2">CN</text>
<text x="255.6" y="214.9" font-size="4.6" fill="#303030" text-anchor="middle" stroke="#303030" stroke-width="0.3">CN</text>
<path d="M180.7,191.6 L187.1,194.8 L187.1,201.2 L180.7,204.4 L174.3,201.2 L174.3,194.8Z" fill="none" stroke="#333" stroke-width="1.0" stroke-linejoin="round"/>
<path d="M193.5,191.6 L199.9,194.8 L199.9,201.2 L193.5,204.4 L187.1,201.2 L187.1,194.8Z" fill="none" stroke="#333" stroke-width="1.0" stroke-linejoin="round"/>
<path d="M187.1,201.2 L193.5,204.4 L193.5,210.8 L187.1,214.0 L180.7,210.8 L180.7,204.4Z" fill="none" stroke="#333" stroke-width="1.0" stroke-linejoin="round"/>
<path d="M199.9,201.2 L206.3,204.4 L206.3,210.8 L199.9,214.0 L193.5,210.8 L193.5,204.4Z" fill="none" stroke="#333" stroke-width="1.0" stroke-linejoin="round"/>
<line x1="193.5" y1="193.4" x2="198.1" y2="195.7" stroke="#333" stroke-width="0.55"/>
<line x1="198.1" y1="200.3" x2="193.5" y2="202.6" stroke="#333" stroke-width="0.55"/>
<line x1="188.9" y1="200.3" x2="188.9" y2="195.7" stroke="#333" stroke-width="0.55"/>
<line x1="187.1" y1="203.0" x2="191.7" y2="205.3" stroke="#333" stroke-width="0.55"/>
<line x1="191.7" y1="209.9" x2="187.1" y2="212.2" stroke="#333" stroke-width="0.55"/>
<line x1="182.5" y1="209.9" x2="182.5" y2="205.3" stroke="#333" stroke-width="0.55"/>
<text x="180.7" y="191.7" font-size="4.3" fill="#fff" text-anchor="middle" stroke="#fff" stroke-width="1.2">H</text>
<text x="180.7" y="191.7" font-size="4.3" fill="#303030" text-anchor="middle" stroke="#303030" stroke-width="0.3">H</text>
<text x="180.7" y="194.5" font-size="4.3" fill="#fff" text-anchor="middle" stroke="#fff" stroke-width="1.2">N</text>
<text x="180.7" y="194.5" font-size="4.3" fill="#303030" text-anchor="middle" stroke="#303030" stroke-width="0.3">N</text>
<text x="199.9" y="215.1" font-size="4.3" fill="#fff" text-anchor="middle" stroke="#fff" stroke-width="1.2">N</text>
<text x="199.9" y="215.1" font-size="4.3" fill="#303030" text-anchor="middle" stroke="#303030" stroke-width="0.3">N</text>
<text x="199.9" y="219.1" font-size="4.3" fill="#fff" text-anchor="middle" stroke="#fff" stroke-width="1.2">H</text>
<text x="199.9" y="219.1" font-size="4.3" fill="#303030" text-anchor="middle" stroke="#303030" stroke-width="0.3">H</text>
<path d="M92.3,257.8 L98.6,261.2 L96.8,267.6 L88.9,267.6 L87.3,261.5Z" fill="none" stroke="#383838" stroke-width="0.9" stroke-linejoin="round"/>
<path d="M88.9,267.6 L86.2,274.6 L92.3,277.6 L98.4,274.0 L96.8,267.6" fill="none" stroke="#383838" stroke-width="0.9" stroke-linejoin="round"/>
<line x1="88.9" y1="267.6" x2="96.8" y2="267.6" stroke="#383838" stroke-width="0.9"/>
<line x1="88.2" y1="263.0" x2="89.6" y2="266.6" stroke="#383838" stroke-width="0.6"/>
<line x1="97.9" y1="268.8" x2="97.6" y2="272.7" stroke="#383838" stroke-width="0.6"/>
<line x1="98.6" y1="261.2" x2="103.5" y2="260.2" stroke="#383838" stroke-width="0.9"/>
<line x1="98.6" y1="260.1" x2="103.3" y2="259.0" stroke="#383838" stroke-width="0.6"/>
<text x="106.1" y="261.3" font-size="4.8" fill="#fff" text-anchor="middle" stroke="#fff" stroke-width="1.2">O</text>
<text x="106.1" y="261.3" font-size="4.8" fill="#383838" text-anchor="middle" stroke="#383838" stroke-width="0.3">O</text>
<line x1="86.2" y1="274.6" x2="81.5" y2="275.5" stroke="#383838" stroke-width="0.9"/>
<line x1="86.2" y1="275.7" x2="81.7" y2="276.7" stroke="#383838" stroke-width="0.6"/>
<text x="79.0" y="277.6" font-size="4.8" fill="#fff" text-anchor="middle" stroke="#fff" stroke-width="1.2">O</text>
<text x="79.0" y="277.6" font-size="4.8" fill="#383838" text-anchor="middle" stroke="#383838" stroke-width="0.3">O</text>
<text x="92.3" y="259.5" font-size="4.8" fill="#fff" text-anchor="middle" stroke="#fff" stroke-width="1.2">N</text>
<text x="92.3" y="259.5" font-size="4.8" fill="#383838" text-anchor="middle" stroke="#383838" stroke-width="0.3">N</text>
<text x="92.3" y="279.3" font-size="4.8" fill="#fff" text-anchor="middle" stroke="#fff" stroke-width="1.2">N</text>
<text x="92.3" y="279.3" font-size="4.8" fill="#383838" text-anchor="middle" stroke="#383838" stroke-width="0.3">N</text>
<line x1="87.3" y1="261.5" x2="78.5" y2="259.0" stroke="#383838" stroke-width="0.9"/>
<line x1="80.2" y1="256.6" x2="80.8" y2="262.4" stroke="#383838" stroke-width="0.9"/>
<path d="M92.5,255.8 L93.4,251.4 L98.9,248.4" fill="none" stroke="#383838" stroke-width="0.9" stroke-linejoin="round"/>
<line x1="98.9" y1="248.4" x2="98.6" y2="244.6" stroke="#383838" stroke-width="0.9"/>
<line x1="98.9" y1="248.4" x2="103.4" y2="251.2" stroke="#383838" stroke-width="0.9"/>
<text x="107.3" y="244.6" font-size="5.0" fill="#fff" text-anchor="middle" stroke="#fff" stroke-width="1.2">C<tspan font-size="3.9" dy="1">10</tspan><tspan dy="-1">H</tspan><tspan font-size="3.9" dy="1">21</tspan></text>
<text x="107.3" y="244.6" font-size="5.0" fill="#383838" text-anchor="middle" stroke="#383838" stroke-width="0.3">C<tspan font-size="3.9" dy="1">10</tspan><tspan dy="-1">H</tspan><tspan font-size="3.9" dy="1">21</tspan></text>
<text x="110.5" y="253.6" font-size="5.0" fill="#fff" text-anchor="middle" stroke="#fff" stroke-width="1.2">C<tspan font-size="3.9" dy="1">8</tspan><tspan dy="-1">H</tspan><tspan font-size="3.9" dy="1">17</tspan></text>
<text x="110.5" y="253.6" font-size="5.0" fill="#383838" text-anchor="middle" stroke="#383838" stroke-width="0.3">C<tspan font-size="3.9" dy="1">8</tspan><tspan dy="-1">H</tspan><tspan font-size="3.9" dy="1">17</tspan></text>
<path d="M92.5,279.6 L92.9,281.5 L86.8,286.0" fill="none" stroke="#383838" stroke-width="0.9" stroke-linejoin="round"/>
<line x1="86.8" y1="286.0" x2="84.6" y2="284.0" stroke="#383838" stroke-width="0.9"/>
<line x1="86.8" y1="286.0" x2="87.2" y2="290.0" stroke="#383838" stroke-width="0.9"/>
<text x="75.6" y="285.5" font-size="5.0" fill="#fff" text-anchor="middle" stroke="#fff" stroke-width="1.2">H<tspan font-size="3.9" dy="1">17</tspan><tspan dy="-1">C</tspan><tspan font-size="3.9" dy="1">8</tspan></text>
<text x="75.6" y="285.5" font-size="5.0" fill="#383838" text-anchor="middle" stroke="#383838" stroke-width="0.3">H<tspan font-size="3.9" dy="1">17</tspan><tspan dy="-1">C</tspan><tspan font-size="3.9" dy="1">8</tspan></text>
<text x="93.2" y="295.1" font-size="5.0" fill="#fff" text-anchor="middle" stroke="#fff" stroke-width="1.2">C<tspan font-size="3.9" dy="1">10</tspan><tspan dy="-1">H</tspan><tspan font-size="3.9" dy="1">21</tspan></text>
<text x="93.2" y="295.1" font-size="5.0" fill="#383838" text-anchor="middle" stroke="#383838" stroke-width="0.3">C<tspan font-size="3.9" dy="1">10</tspan><tspan dy="-1">H</tspan><tspan font-size="3.9" dy="1">21</tspan></text>
<line x1="98.4" y1="274.0" x2="106.3" y2="275.2" stroke="#383838" stroke-width="0.9"/>
<path d="M106.5,275.3 L108.5,280.1 L115.7,280.1 L118.7,275.3 L112.3,271.6Z" fill="none" stroke="#383838" stroke-width="0.9" stroke-linejoin="round"/>
<line x1="109.6" y1="279.0" x2="114.6" y2="279.0" stroke="#383838" stroke-width="0.55"/>
<text x="112.4" y="273.3" font-size="4.6" fill="#fff" text-anchor="middle" stroke="#fff" stroke-width="1.2">S</text>
<text x="112.4" y="273.3" font-size="4.6" fill="#383838" text-anchor="middle" stroke="#383838" stroke-width="0.3">S</text>
<line x1="118.7" y1="275.0" x2="126.5" y2="273.5" stroke="#383838" stroke-width="0.9"/>
<path d="M126.5,273.5 L129.1,267.8 L137.4,267.8 L138.6,273.5 L132.3,277.0Z" fill="none" stroke="#383838" stroke-width="0.9" stroke-linejoin="round"/>
<path d="M137.4,267.8 L142.5,263.4 L148.2,269.1 L146.3,273.5 L138.6,273.5" fill="none" stroke="#383838" stroke-width="0.9" stroke-linejoin="round"/>
<line x1="129.8" y1="269.2" x2="136.8" y2="269.2" stroke="#383838" stroke-width="0.55"/>
<line x1="139.8" y1="272.2" x2="145.6" y2="272.2" stroke="#383838" stroke-width="0.55"/>
<text x="132.3" y="279.1" font-size="4.6" fill="#fff" text-anchor="middle" stroke="#fff" stroke-width="1.2">S</text>
<text x="132.3" y="279.1" font-size="4.6" fill="#383838" text-anchor="middle" stroke="#383838" stroke-width="0.3">S</text>
<text x="142.5" y="265.1" font-size="4.6" fill="#fff" text-anchor="middle" stroke="#fff" stroke-width="1.2">S</text>
<text x="142.5" y="265.1" font-size="4.6" fill="#383838" text-anchor="middle" stroke="#383838" stroke-width="0.3">S</text>
<line x1="148.2" y1="269.1" x2="155.8" y2="265.9" stroke="#383838" stroke-width="0.9"/>
<path d="M155.8,265.9 L159.0,260.2 L166.0,260.2 L169.2,265.9 L162.2,269.7Z" fill="none" stroke="#383838" stroke-width="0.9" stroke-linejoin="round"/>
<line x1="159.9" y1="261.4" x2="165.1" y2="261.4" stroke="#383838" stroke-width="0.55"/>
<text x="162.2" y="271.6" font-size="4.6" fill="#fff" text-anchor="middle" stroke="#fff" stroke-width="1.2">S</text>
<text x="162.2" y="271.6" font-size="4.6" fill="#383838" text-anchor="middle" stroke="#383838" stroke-width="0.3">S</text>
<line x1="169.2" y1="265.9" x2="175.5" y2="267.8" stroke="#383838" stroke-width="0.9"/>
<line x1="172.6" y1="264.5" x2="173.8" y2="270.2" stroke="#383838" stroke-width="0.9"/>
<text x="176.3" y="271.8" font-size="3.4" fill="#fff" text-anchor="middle" stroke="#fff" stroke-width="1.2">n</text>
<text x="176.3" y="271.8" font-size="3.4" fill="#383838" text-anchor="middle" stroke="#383838" stroke-width="0.3">n</text>
<text x="286" y="184.1" font-size="12" fill="#222" font-weight="normal" text-anchor="start" letter-spacing="0.8" stroke="#222" stroke-width="0.3" >(d)</text>
<clipPath id="clipd"><rect x="322.2" y="175.1" width="210.00000000000006" height="118.00000000000003"/></clipPath>
<g clip-path="url(#clipd)">
<path d="M322.8,220.2 L326.7,213.6 L331.1,210.4 L335.5,208.2 L339.8,207.1 L344.2,208.2 L348.5,208.8 L355.1,208.2 L361.6,206.5 L370.4,205.5 L375.0,203.5 L382.6,198.5 L390.3,193.4 L399.2,188.9 L409.4,189.5 L413.2,191.5 L419.5,197.8 L423.4,202.9 L427.2,208.0 L431.0,209.9 L437.4,206.1 L443.8,208.6 L447.6,205.5 L454.0,206.1 L460.4,205.5 L464.2,204.8 L468.0,206.7 L473.1,209.9 L478.2,213.7 L483.8,220.3 L488.4,229.5 L493.0,231.8 L495.3,231.8 L497.6,238.8 L501.1,246.8 L504.6,245.7 L508.0,254.9 L511.5,260.6 L514.9,271.0 L518.4,267.6 L521.8,284.8 L525.3,279.1 L528.8,287.1 L531.1,294.0" fill="none" stroke="#111" stroke-width="0.9" stroke-linejoin="round"/>
<rect x="321.4" y="218.3" width="3.2" height="3.2" fill="#111"/>
<rect x="324.8" y="212.5" width="3.2" height="3.2" fill="#111"/>
<rect x="328.2" y="209.7" width="3.2" height="3.2" fill="#111"/>
<rect x="331.6" y="207.8" width="3.2" height="3.2" fill="#111"/>
<rect x="335.0" y="206.3" width="3.2" height="3.2" fill="#111"/>
<rect x="338.4" y="205.5" width="3.2" height="3.2" fill="#111"/>
<rect x="341.8" y="206.4" width="3.2" height="3.2" fill="#111"/>
<rect x="345.2" y="207.0" width="3.2" height="3.2" fill="#111"/>
<rect x="348.6" y="207.0" width="3.2" height="3.2" fill="#111"/>
<rect x="352.0" y="206.7" width="3.2" height="3.2" fill="#111"/>
<rect x="355.4" y="206.1" width="3.2" height="3.2" fill="#111"/>
<rect x="358.8" y="205.2" width="3.2" height="3.2" fill="#111"/>
<rect x="362.2" y="204.7" width="3.2" height="3.2" fill="#111"/>
<rect x="365.6" y="204.3" width="3.2" height="3.2" fill="#111"/>
<rect x="369.0" y="203.8" width="3.2" height="3.2" fill="#111"/>
<rect x="372.4" y="202.3" width="3.2" height="3.2" fill="#111"/>
<rect x="375.8" y="200.3" width="3.2" height="3.2" fill="#111"/>
<rect x="379.2" y="198.1" width="3.2" height="3.2" fill="#111"/>
<rect x="382.6" y="195.8" width="3.2" height="3.2" fill="#111"/>
<rect x="386.0" y="193.6" width="3.2" height="3.2" fill="#111"/>
<rect x="389.4" y="191.4" width="3.2" height="3.2" fill="#111"/>
<rect x="392.8" y="189.7" width="3.2" height="3.2" fill="#111"/>
<rect x="396.2" y="188.0" width="3.2" height="3.2" fill="#111"/>
<rect x="399.6" y="187.4" width="3.2" height="3.2" fill="#111"/>
<rect x="403.0" y="187.6" width="3.2" height="3.2" fill="#111"/>
<rect x="406.4" y="187.8" width="3.2" height="3.2" fill="#111"/>
<rect x="409.8" y="189.0" width="3.2" height="3.2" fill="#111"/>
<rect x="413.2" y="191.5" width="3.2" height="3.2" fill="#111"/>
<rect x="416.6" y="194.9" width="3.2" height="3.2" fill="#111"/>
<rect x="420.0" y="198.9" width="3.2" height="3.2" fill="#111"/>
<rect x="423.4" y="203.4" width="3.2" height="3.2" fill="#111"/>
<rect x="426.8" y="207.0" width="3.2" height="3.2" fill="#111"/>
<rect x="430.2" y="207.8" width="3.2" height="3.2" fill="#111"/>
<rect x="433.6" y="205.8" width="3.2" height="3.2" fill="#111"/>
<rect x="437.0" y="205.0" width="3.2" height="3.2" fill="#111"/>
<rect x="440.4" y="206.3" width="3.2" height="3.2" fill="#111"/>
<rect x="443.8" y="205.7" width="3.2" height="3.2" fill="#111"/>
<rect x="447.2" y="204.0" width="3.2" height="3.2" fill="#111"/>
<rect x="450.6" y="204.3" width="3.2" height="3.2" fill="#111"/>
<rect x="454.0" y="204.4" width="3.2" height="3.2" fill="#111"/>
<rect x="457.4" y="204.0" width="3.2" height="3.2" fill="#111"/>
<rect x="460.8" y="203.5" width="3.2" height="3.2" fill="#111"/>
<rect x="464.2" y="204.0" width="3.2" height="3.2" fill="#111"/>
<rect x="467.6" y="205.9" width="3.2" height="3.2" fill="#111"/>
<rect x="471.0" y="208.0" width="3.2" height="3.2" fill="#111"/>
<rect x="474.4" y="210.5" width="3.2" height="3.2" fill="#111"/>
<rect x="477.8" y="213.5" width="3.2" height="3.2" fill="#111"/>
<rect x="481.2" y="217.5" width="3.2" height="3.2" fill="#111"/>
<rect x="484.6" y="223.5" width="3.2" height="3.2" fill="#111"/>
<rect x="488.0" y="228.5" width="3.2" height="3.2" fill="#111"/>
<rect x="491.4" y="230.2" width="3.2" height="3.2" fill="#111"/>
<rect x="494.8" y="233.5" width="3.2" height="3.2" fill="#111"/>
<rect x="498.2" y="242.2" width="3.2" height="3.2" fill="#111"/>
<rect x="501.6" y="244.5" width="3.2" height="3.2" fill="#111"/>
<rect x="505.0" y="249.5" width="3.2" height="3.2" fill="#111"/>
<rect x="508.4" y="256.6" width="3.2" height="3.2" fill="#111"/>
<rect x="511.8" y="264.8" width="3.2" height="3.2" fill="#111"/>
<rect x="515.2" y="267.6" width="3.2" height="3.2" fill="#111"/>
<rect x="518.6" y="275.1" width="3.2" height="3.2" fill="#111"/>
<rect x="522.0" y="280.3" width="3.2" height="3.2" fill="#111"/>
<rect x="525.4" y="281.4" width="3.2" height="3.2" fill="#111"/>
<rect x="528.8" y="290.3" width="3.2" height="3.2" fill="#111"/>
<path d="M322.8,220.2 L326.3,233.3 L331.1,221.3 L335.5,215.8 L339.8,215.4 L346.4,216.3 L353.0,213.6 L361.6,204.9 L370.4,201.5 L375.0,200.4 L382.6,195.9 L391.5,192.1 L399.2,190.2 L409.4,191.5 L415.7,194.0 L420.8,197.8 L425.9,201.0 L431.0,202.3 L437.4,201.0 L447.6,199.7 L454.0,197.8 L460.4,196.3 L468.0,195.9 L474.4,196.5 L480.7,198.5 L487.1,202.3 L492.2,207.4 L496.0,211.8 L498.5,215.0 L504.6,222.6 L511.5,235.3 L518.4,251.4 L521.8,262.9 L525.3,279.1 L527.1,294.0" fill="none" stroke="#f03c1e" stroke-width="0.9" stroke-linejoin="round"/>
<circle cx="323.0" cy="220.9" r="1.6" fill="#f03c1e"/>
<circle cx="326.4" cy="233.1" r="1.6" fill="#f03c1e"/>
<circle cx="329.8" cy="224.6" r="1.6" fill="#f03c1e"/>
<circle cx="333.2" cy="218.7" r="1.6" fill="#f03c1e"/>
<circle cx="336.6" cy="215.7" r="1.6" fill="#f03c1e"/>
<circle cx="340.0" cy="215.4" r="1.6" fill="#f03c1e"/>
<circle cx="343.4" cy="215.9" r="1.6" fill="#f03c1e"/>
<circle cx="346.8" cy="216.1" r="1.6" fill="#f03c1e"/>
<circle cx="350.2" cy="214.7" r="1.6" fill="#f03c1e"/>
<circle cx="353.6" cy="213.0" r="1.6" fill="#f03c1e"/>
<circle cx="357.0" cy="209.6" r="1.6" fill="#f03c1e"/>
<circle cx="360.4" cy="206.1" r="1.6" fill="#f03c1e"/>
<circle cx="363.8" cy="204.1" r="1.6" fill="#f03c1e"/>
<circle cx="367.2" cy="202.7" r="1.6" fill="#f03c1e"/>
<circle cx="370.6" cy="201.5" r="1.6" fill="#f03c1e"/>
<circle cx="374.0" cy="200.6" r="1.6" fill="#f03c1e"/>
<circle cx="377.4" cy="199.0" r="1.6" fill="#f03c1e"/>
<circle cx="380.8" cy="197.0" r="1.6" fill="#f03c1e"/>
<circle cx="384.2" cy="195.2" r="1.6" fill="#f03c1e"/>
<circle cx="387.6" cy="193.8" r="1.6" fill="#f03c1e"/>
<circle cx="391.0" cy="192.3" r="1.6" fill="#f03c1e"/>
<circle cx="394.4" cy="191.4" r="1.6" fill="#f03c1e"/>
<circle cx="397.8" cy="190.5" r="1.6" fill="#f03c1e"/>
<circle cx="401.2" cy="190.5" r="1.6" fill="#f03c1e"/>
<circle cx="404.6" cy="190.9" r="1.6" fill="#f03c1e"/>
<circle cx="408.0" cy="191.3" r="1.6" fill="#f03c1e"/>
<circle cx="411.4" cy="192.3" r="1.6" fill="#f03c1e"/>
<circle cx="414.8" cy="193.6" r="1.6" fill="#f03c1e"/>
<circle cx="418.2" cy="195.9" r="1.6" fill="#f03c1e"/>
<circle cx="421.6" cy="198.3" r="1.6" fill="#f03c1e"/>
<circle cx="425.0" cy="200.4" r="1.6" fill="#f03c1e"/>
<circle cx="428.4" cy="201.6" r="1.6" fill="#f03c1e"/>
<circle cx="431.8" cy="202.1" r="1.6" fill="#f03c1e"/>
<circle cx="435.2" cy="201.4" r="1.6" fill="#f03c1e"/>
<circle cx="438.6" cy="200.8" r="1.6" fill="#f03c1e"/>
<circle cx="442.0" cy="200.4" r="1.6" fill="#f03c1e"/>
<circle cx="445.4" cy="200.0" r="1.6" fill="#f03c1e"/>
<circle cx="448.8" cy="199.3" r="1.6" fill="#f03c1e"/>
<circle cx="452.2" cy="198.3" r="1.6" fill="#f03c1e"/>
<circle cx="455.6" cy="197.4" r="1.6" fill="#f03c1e"/>
<circle cx="459.0" cy="196.6" r="1.6" fill="#f03c1e"/>
<circle cx="462.4" cy="196.2" r="1.6" fill="#f03c1e"/>
<circle cx="465.8" cy="196.0" r="1.6" fill="#f03c1e"/>
<circle cx="469.2" cy="196.0" r="1.6" fill="#f03c1e"/>
<circle cx="472.6" cy="196.3" r="1.6" fill="#f03c1e"/>
<circle cx="476.0" cy="197.0" r="1.6" fill="#f03c1e"/>
<circle cx="479.4" cy="198.1" r="1.6" fill="#f03c1e"/>
<circle cx="482.8" cy="199.7" r="1.6" fill="#f03c1e"/>
<circle cx="486.2" cy="201.8" r="1.6" fill="#f03c1e"/>
<circle cx="489.6" cy="204.8" r="1.6" fill="#f03c1e"/>
<circle cx="493.0" cy="208.3" r="1.6" fill="#f03c1e"/>
<circle cx="496.4" cy="212.3" r="1.6" fill="#f03c1e"/>
<circle cx="499.8" cy="216.6" r="1.6" fill="#f03c1e"/>
<circle cx="503.2" cy="220.9" r="1.6" fill="#f03c1e"/>
<circle cx="506.6" cy="226.3" r="1.6" fill="#f03c1e"/>
<circle cx="510.0" cy="232.5" r="1.6" fill="#f03c1e"/>
<circle cx="513.4" cy="239.7" r="1.6" fill="#f03c1e"/>
<circle cx="516.8" cy="247.7" r="1.6" fill="#f03c1e"/>
<circle cx="520.2" cy="257.5" r="1.6" fill="#f03c1e"/>
<circle cx="523.6" cy="271.2" r="1.6" fill="#f03c1e"/>
<circle cx="527.0" cy="293.2" r="1.6" fill="#f03c1e"/>
<circle cx="530.4" cy="294.0" r="1.6" fill="#f03c1e"/>
<path d="M322.8,207.1 L326.3,219.1 L330.0,228.9 L335.5,224.5 L339.8,222.4 L346.4,224.5 L353.0,222.4 L359.5,209.3 L368.2,199.5 L375.0,197.2 L382.6,195.3 L391.5,193.4 L399.2,192.7 L408.1,194.6 L415.7,197.8 L422.1,200.4 L428.5,200.4 L434.8,198.5 L440.0,198.5 L443.8,199.1 L447.6,197.2 L454.0,195.3 L460.4,193.4 L468.0,192.7 L474.4,192.7 L480.7,191.5 L487.1,189.5 L490.9,190.8 L496.0,193.4 L501.1,197.8 L506.2,203.5 L509.4,207.4 L514.9,220.3 L521.8,238.8 L525.3,253.7 L528.8,268.7 L531.1,275.6" fill="none" stroke="#1f4fc0" stroke-width="0.9" stroke-linejoin="round"/>
<path d="M323.0,205.5 L325.1,209.5 L320.9,209.5Z" fill="#1f4fc0"/>
<path d="M326.4,217.1 L328.5,221.0 L324.3,221.0Z" fill="#1f4fc0"/>
<path d="M329.8,226.1 L331.9,230.1 L327.7,230.1Z" fill="#1f4fc0"/>
<path d="M333.2,224.1 L335.3,228.0 L331.1,228.0Z" fill="#1f4fc0"/>
<path d="M336.6,221.7 L338.7,225.6 L334.5,225.6Z" fill="#1f4fc0"/>
<path d="M340.0,220.2 L342.1,224.1 L337.9,224.1Z" fill="#1f4fc0"/>
<path d="M343.4,221.3 L345.5,225.2 L341.3,225.2Z" fill="#1f4fc0"/>
<path d="M346.8,222.1 L348.9,226.1 L344.7,226.1Z" fill="#1f4fc0"/>
<path d="M350.2,221.0 L352.3,225.0 L348.1,225.0Z" fill="#1f4fc0"/>
<path d="M353.6,218.9 L355.7,222.9 L351.5,222.9Z" fill="#1f4fc0"/>
<path d="M357.0,212.1 L359.1,216.0 L354.9,216.0Z" fill="#1f4fc0"/>
<path d="M360.4,206.0 L362.5,210.0 L358.3,210.0Z" fill="#1f4fc0"/>
<path d="M363.8,202.2 L365.9,206.1 L361.7,206.1Z" fill="#1f4fc0"/>
<path d="M367.2,198.4 L369.3,202.3 L365.1,202.3Z" fill="#1f4fc0"/>
<path d="M370.6,196.4 L372.7,200.4 L368.5,200.4Z" fill="#1f4fc0"/>
<path d="M374.0,195.3 L376.1,199.2 L371.9,199.2Z" fill="#1f4fc0"/>
<path d="M377.4,194.4 L379.5,198.3 L375.3,198.3Z" fill="#1f4fc0"/>
<path d="M380.8,193.5 L382.9,197.4 L378.7,197.4Z" fill="#1f4fc0"/>
<path d="M384.2,192.7 L386.3,196.6 L382.1,196.6Z" fill="#1f4fc0"/>
<path d="M387.6,192.0 L389.7,195.9 L385.5,195.9Z" fill="#1f4fc0"/>
<path d="M391.0,191.3 L393.1,195.2 L388.9,195.2Z" fill="#1f4fc0"/>
<path d="M394.4,190.9 L396.5,194.8 L392.3,194.8Z" fill="#1f4fc0"/>
<path d="M397.8,190.6 L399.9,194.5 L395.7,194.5Z" fill="#1f4fc0"/>
<path d="M401.2,190.9 L403.3,194.8 L399.1,194.8Z" fill="#1f4fc0"/>
<path d="M404.6,191.6 L406.7,195.5 L402.5,195.5Z" fill="#1f4fc0"/>
<path d="M408.0,192.3 L410.1,196.3 L405.9,196.3Z" fill="#1f4fc0"/>
<path d="M411.4,193.7 L413.5,197.7 L409.3,197.7Z" fill="#1f4fc0"/>
<path d="M414.8,195.2 L416.9,199.1 L412.7,199.1Z" fill="#1f4fc0"/>
<path d="M418.2,196.6 L420.3,200.5 L416.1,200.5Z" fill="#1f4fc0"/>
<path d="M421.6,198.0 L423.7,201.9 L419.5,201.9Z" fill="#1f4fc0"/>
<path d="M425.0,198.2 L427.1,202.1 L422.9,202.1Z" fill="#1f4fc0"/>
<path d="M428.4,198.2 L430.5,202.1 L426.3,202.1Z" fill="#1f4fc0"/>
<path d="M431.8,197.2 L433.9,201.1 L429.7,201.1Z" fill="#1f4fc0"/>
<path d="M435.2,196.3 L437.3,200.2 L433.1,200.2Z" fill="#1f4fc0"/>
<path d="M438.6,196.3 L440.7,200.2 L436.5,200.2Z" fill="#1f4fc0"/>
<path d="M442.0,196.6 L444.1,200.5 L439.9,200.5Z" fill="#1f4fc0"/>
<path d="M445.4,196.1 L447.5,200.0 L443.3,200.0Z" fill="#1f4fc0"/>
<path d="M448.8,194.6 L450.9,198.5 L446.7,198.5Z" fill="#1f4fc0"/>
<path d="M452.2,193.6 L454.3,197.5 L450.1,197.5Z" fill="#1f4fc0"/>
<path d="M455.6,192.6 L457.7,196.5 L453.5,196.5Z" fill="#1f4fc0"/>
<path d="M459.0,191.6 L461.1,195.5 L456.9,195.5Z" fill="#1f4fc0"/>
<path d="M462.4,191.0 L464.5,194.9 L460.3,194.9Z" fill="#1f4fc0"/>
<path d="M465.8,190.7 L467.9,194.6 L463.7,194.6Z" fill="#1f4fc0"/>
<path d="M469.2,190.5 L471.3,194.4 L467.1,194.4Z" fill="#1f4fc0"/>
<path d="M472.6,190.5 L474.7,194.4 L470.5,194.4Z" fill="#1f4fc0"/>
<path d="M476.0,190.2 L478.1,194.1 L473.9,194.1Z" fill="#1f4fc0"/>
<path d="M479.4,189.5 L481.5,193.4 L477.3,193.4Z" fill="#1f4fc0"/>
<path d="M482.8,188.6 L484.9,192.5 L480.7,192.5Z" fill="#1f4fc0"/>
<path d="M486.2,187.5 L488.3,191.5 L484.1,191.5Z" fill="#1f4fc0"/>
<path d="M489.6,188.1 L491.7,192.0 L487.5,192.0Z" fill="#1f4fc0"/>
<path d="M493.0,189.6 L495.1,193.6 L490.9,193.6Z" fill="#1f4fc0"/>
<path d="M496.4,191.5 L498.5,195.4 L494.3,195.4Z" fill="#1f4fc0"/>
<path d="M499.8,194.4 L501.9,198.4 L497.7,198.4Z" fill="#1f4fc0"/>
<path d="M503.2,197.9 L505.3,201.8 L501.1,201.8Z" fill="#1f4fc0"/>
<path d="M506.6,201.7 L508.7,205.7 L504.5,205.7Z" fill="#1f4fc0"/>
<path d="M510.0,206.6 L512.1,210.5 L507.9,210.5Z" fill="#1f4fc0"/>
<path d="M513.4,214.5 L515.5,218.5 L511.3,218.5Z" fill="#1f4fc0"/>
<path d="M516.8,223.2 L518.9,227.1 L514.7,227.1Z" fill="#1f4fc0"/>
<path d="M520.2,232.3 L522.3,236.2 L518.1,236.2Z" fill="#1f4fc0"/>
<path d="M523.6,244.2 L525.7,248.1 L521.5,248.1Z" fill="#1f4fc0"/>
<path d="M527.0,258.7 L529.1,262.7 L524.9,262.7Z" fill="#1f4fc0"/>
<path d="M530.4,271.3 L532.5,275.2 L528.3,275.2Z" fill="#1f4fc0"/>
</g>
<path d="M333.3,282.5 L363.8,251.5 L439.5,251.5 L409.0,282.5Z" fill="#f2f2f2" stroke="#b8b8b8" stroke-width="0.3"/>
<path d="M409.0,282.5 L439.5,251.5 L439.5,259.1 L409.0,290.1Z" fill="#cfcfcf" stroke="#999" stroke-width="0.3"/>
<rect x="333.3" y="282.5" width="75.69999999999999" height="7.600000000000023" fill="#e8e8e8" stroke="#aaa" stroke-width="0.3"/>
<path d="M333.3,272.6 L363.8,241.60000000000002 L439.5,241.60000000000002 L409.0,272.6Z" fill="#e2edf6" stroke="#b8b8b8" stroke-width="0.3"/>
<path d="M409.0,272.6 L439.5,241.60000000000002 L439.5,248.8 L409.0,279.8Z" fill="#a9c0d6" stroke="#999" stroke-width="0.3"/>
<rect x="333.3" y="272.6" width="75.69999999999999" height="7.199999999999989" fill="#d4e3f0" stroke="#aaa" stroke-width="0.3"/>
<path d="M333.3,256.9 L363.8,225.89999999999998 L439.5,225.89999999999998 L409.0,256.9Z" fill="#ebb594" stroke="#b8b8b8" stroke-width="0.3"/>
<path d="M409.0,256.9 L439.5,225.89999999999998 L439.5,239.0 L409.0,270.0Z" fill="#c18560" stroke="#999" stroke-width="0.3"/>
<rect x="333.3" y="256.9" width="75.69999999999999" height="13.100000000000023" fill="#e3a27c" stroke="#aaa" stroke-width="0.3"/>
<path d="M333.3,248.6 L363.8,217.6 L439.5,217.6 L409.0,248.6Z" fill="#dde9f5" stroke="#b8b8b8" stroke-width="0.3"/>
<path d="M409.0,248.6 L439.5,217.6 L439.5,223.7 L409.0,254.7Z" fill="#a8c0d8" stroke="#999" stroke-width="0.3"/>
<rect x="333.3" y="248.6" width="75.69999999999999" height="6.099999999999994" fill="#cddff0" stroke="#aaa" stroke-width="0.3"/>
<path d="M333.3,242.1 L363.8,211.1 L439.5,211.1 L409.0,242.1Z" fill="#a3a3a3" stroke="#b8b8b8" stroke-width="0.3"/>
<path d="M409.0,242.1 L439.5,211.1 L439.5,217.4 L409.0,248.4Z" fill="#7a7a7a" stroke="#999" stroke-width="0.3"/>
<rect x="333.3" y="242.1" width="75.69999999999999" height="6.300000000000011" fill="#8e8e8e" stroke="#aaa" stroke-width="0.3"/>
<text x="371.5" y="289.8" font-size="9.2" fill="#444" font-weight="normal" text-anchor="middle" stroke="#444" stroke-width="0.15" >ITO</text>
<text x="371.2" y="279.8" font-size="9.2" fill="#444" font-weight="normal" text-anchor="middle" stroke="#444" stroke-width="0.15" >ZnO</text>
<text x="371.3" y="268.3" font-size="8.5" fill="#444" font-weight="normal" text-anchor="middle" stroke="#444" stroke-width="0.15" >Org SWIR PD</text>
<text x="371.8" y="254.6" font-size="8.5" fill="#444" text-anchor="middle">MoO<tspan font-size="6.5" dy="1">3</tspan></text>
<text x="371.8" y="248.2" font-size="9.2" fill="#333" font-weight="normal" text-anchor="middle" stroke="#333" stroke-width="0.15" >Ag</text>
<rect x="322.2" y="175.1" width="210" height="118" fill="none" stroke="#222" stroke-width="1.3"/>
<line x1="322.2" y1="293.1" x2="319.7" y2="293.1" stroke="#333" stroke-width="0.8"/>
<line x1="322.2" y1="275.3" x2="320.8" y2="275.3" stroke="#333" stroke-width="0.8"/>
<line x1="322.2" y1="264.9" x2="320.8" y2="264.9" stroke="#333" stroke-width="0.8"/>
<line x1="322.2" y1="257.6" x2="320.8" y2="257.6" stroke="#333" stroke-width="0.8"/>
<line x1="322.2" y1="251.9" x2="320.8" y2="251.9" stroke="#333" stroke-width="0.8"/>
<line x1="322.2" y1="247.2" x2="320.8" y2="247.2" stroke="#333" stroke-width="0.8"/>
<line x1="322.2" y1="243.2" x2="320.8" y2="243.2" stroke="#333" stroke-width="0.8"/>
<line x1="322.2" y1="239.8" x2="320.8" y2="239.8" stroke="#333" stroke-width="0.8"/>
<line x1="322.2" y1="236.8" x2="320.8" y2="236.8" stroke="#333" stroke-width="0.8"/>
<line x1="322.2" y1="234.1" x2="319.7" y2="234.1" stroke="#333" stroke-width="0.8"/>
<line x1="322.2" y1="216.3" x2="320.8" y2="216.3" stroke="#333" stroke-width="0.8"/>
<line x1="322.2" y1="205.9" x2="320.8" y2="205.9" stroke="#333" stroke-width="0.8"/>
<line x1="322.2" y1="198.6" x2="320.8" y2="198.6" stroke="#333" stroke-width="0.8"/>
<line x1="322.2" y1="192.9" x2="320.8" y2="192.9" stroke="#333" stroke-width="0.8"/>
<line x1="322.2" y1="188.2" x2="320.8" y2="188.2" stroke="#333" stroke-width="0.8"/>
<line x1="322.2" y1="184.2" x2="320.8" y2="184.2" stroke="#333" stroke-width="0.8"/>
<line x1="322.2" y1="180.8" x2="320.8" y2="180.8" stroke="#333" stroke-width="0.8"/>
<line x1="322.2" y1="177.8" x2="320.8" y2="177.8" stroke="#333" stroke-width="0.8"/>
<line x1="322.2" y1="175.1" x2="319.7" y2="175.1" stroke="#333" stroke-width="0.8"/>
<text x="318" y="178" font-size="9.2" fill="#333" font-weight="normal" text-anchor="end" stroke="#333" stroke-width="0.25" >10</text>
<text x="318" y="237" font-size="9.2" fill="#333" font-weight="normal" text-anchor="end" stroke="#333" stroke-width="0.25" >1</text>
<text x="318" y="296" font-size="9.2" fill="#333" font-weight="normal" text-anchor="end" stroke="#333" stroke-width="0.25" >0.1</text>
<line x1="329.1" y1="293.1" x2="329.1" y2="295.3" stroke="#333" stroke-width="0.9"/>
<line x1="346.1" y1="293.1" x2="346.1" y2="294.5" stroke="#333" stroke-width="0.9"/>
<line x1="363.0" y1="293.1" x2="363.0" y2="295.3" stroke="#333" stroke-width="0.9"/>
<line x1="379.9" y1="293.1" x2="379.9" y2="294.5" stroke="#333" stroke-width="0.9"/>
<line x1="396.8" y1="293.1" x2="396.8" y2="295.3" stroke="#333" stroke-width="0.9"/>
<line x1="413.7" y1="293.1" x2="413.7" y2="294.5" stroke="#333" stroke-width="0.9"/>
<line x1="430.7" y1="293.1" x2="430.7" y2="295.3" stroke="#333" stroke-width="0.9"/>
<line x1="447.6" y1="293.1" x2="447.6" y2="294.5" stroke="#333" stroke-width="0.9"/>
<line x1="464.5" y1="293.1" x2="464.5" y2="295.3" stroke="#333" stroke-width="0.9"/>
<line x1="481.4" y1="293.1" x2="481.4" y2="294.5" stroke="#333" stroke-width="0.9"/>
<line x1="498.4" y1="293.1" x2="498.4" y2="295.3" stroke="#333" stroke-width="0.9"/>
<line x1="515.3" y1="293.1" x2="515.3" y2="294.5" stroke="#333" stroke-width="0.9"/>
<line x1="532.2" y1="293.1" x2="532.2" y2="295.3" stroke="#333" stroke-width="0.9"/>
<text x="329.1" y="303.3" font-size="9.2" fill="#333" font-weight="normal" text-anchor="middle" stroke="#333" stroke-width="0.25" >400</text>
<text x="363" y="303.3" font-size="9.2" fill="#333" font-weight="normal" text-anchor="middle" stroke="#333" stroke-width="0.25" >600</text>
<text x="396.8" y="303.3" font-size="9.2" fill="#333" font-weight="normal" text-anchor="middle" stroke="#333" stroke-width="0.25" >800</text>
<text x="430.7" y="303.3" font-size="9.2" fill="#333" font-weight="normal" text-anchor="middle" stroke="#333" stroke-width="0.25" >1000</text>
<text x="464.5" y="303.3" font-size="9.2" fill="#333" font-weight="normal" text-anchor="middle" stroke="#333" stroke-width="0.25" >1200</text>
<text x="498.4" y="303.3" font-size="9.2" fill="#333" font-weight="normal" text-anchor="middle" stroke="#333" stroke-width="0.25" >1400</text>
<text x="532.2" y="303.3" font-size="9.2" fill="#333" font-weight="normal" text-anchor="middle" stroke="#333" stroke-width="0.25" >1600</text>
<text x="427.2" y="313.3" font-size="9.5" fill="#3a3a3a" font-weight="normal" text-anchor="middle" letter-spacing="0.6" stroke="#3a3a3a" stroke-width="0.2" >Wavelength (nm)</text>
<text x="0" y="0" font-size="9.2" fill="#3a3a3a" stroke="#3a3a3a" stroke-width="0.3" text-anchor="middle" transform="translate(308.4,237.6) rotate(-90)"><tspan font-style="italic">R</tspan> (mA/W)</text>
<text x="446" y="247.8" font-size="9" fill="#4a4a4a" font-weight="normal" text-anchor="start" letter-spacing="0.45" stroke="#4a4a4a" stroke-width="0.25" >Thickness</text>
<text x="446" y="259.6" font-size="9" fill="#4a4a4a" font-weight="normal" text-anchor="start" letter-spacing="0.45" stroke="#4a4a4a" stroke-width="0.25" >(nm)</text>
<line x1="447.2" y1="265.5" x2="466.1" y2="265.5" stroke="#111" stroke-width="1.2"/>
<rect x="454.7" y="263.6" width="3.8" height="3.8" fill="#111"/>
<text x="469.4" y="268.9" font-size="9.2" fill="#4a4a4a" font-weight="normal" text-anchor="start" letter-spacing="0.2" stroke="#4a4a4a" stroke-width="0.25" >100</text>
<line x1="447.2" y1="276.6" x2="466.1" y2="276.6" stroke="#f03c1e" stroke-width="1.2"/>
<circle cx="456.6" cy="276.6" r="1.9" fill="#f03c1e"/>
<text x="469.4" y="280" font-size="9.2" fill="#4a4a4a" font-weight="normal" text-anchor="start" letter-spacing="0.2" stroke="#4a4a4a" stroke-width="0.25" >150</text>
<line x1="447.2" y1="287.4" x2="466.1" y2="287.4" stroke="#1f4fc0" stroke-width="1.2"/>
<path d="M456.6,285.2 L458.7,289.0 L454.5,289.0Z" fill="#1f4fc0"/>
<text x="469.4" y="290.8" font-size="9.2" fill="#4a4a4a" font-weight="normal" text-anchor="start" letter-spacing="0.2" stroke="#4a4a4a" stroke-width="0.25" >200</text>
<text x="5.2" y="348.4" font-size="12" fill="#222" font-weight="normal" text-anchor="start" letter-spacing="0.8" stroke="#222" stroke-width="0.3" >(e)</text>
<text x="155.9" y="339.5" font-size="9.5" fill="#3a3a3a" font-weight="normal" text-anchor="middle" letter-spacing="0.6" stroke="#3a3a3a" stroke-width="0.2" >Wavelength (nm)</text>
<clipPath id="clipe"><rect x="46.3" y="344" width="219.7" height="122.89999999999998"/></clipPath>
<g clip-path="url(#clipe)">
<path d="M46.3,371.6 L46.8,373.6 L47.3,375.6 L47.8,377.5 L48.3,379.3 L48.8,381.0 L49.3,382.6 L49.8,384.1 L50.3,385.4 L50.8,386.5 L51.3,387.5 L51.8,388.2 L52.3,388.8 L52.8,389.1 L53.3,389.1 L53.8,389.0 L54.3,388.8 L54.8,388.5 L55.3,388.2 L55.8,387.8 L56.3,387.4 L56.8,386.9 L57.3,386.4 L57.8,385.8 L58.3,385.3 L58.8,384.8 L59.3,384.3 L59.8,383.8 L60.3,383.4 L60.8,383.0 L61.3,382.7 L61.8,382.5 L62.3,382.3 L62.8,382.2 L63.3,382.0 L63.8,381.9 L64.3,381.8 L64.8,381.7 L65.3,381.6 L65.8,381.5 L66.3,381.4 L66.8,381.3 L67.3,381.2 L67.8,381.1 L68.3,381.0 L68.8,380.9 L69.3,380.8 L69.8,380.6 L70.3,380.5 L70.8,380.3 L71.3,380.1 L71.8,379.9 L72.3,379.6 L72.8,379.4 L73.3,379.1 L73.8,378.8 L74.3,378.5 L74.8,378.2 L75.3,377.8 L75.8,377.5 L76.3,377.1 L76.8,376.8 L77.3,376.4 L77.8,376.0 L78.3,375.6 L78.8,375.3 L79.3,374.9 L79.8,374.5 L80.3,374.1 L80.8,373.7 L81.3,373.3 L81.8,372.9 L82.3,372.5 L82.8,372.2 L83.3,371.8 L83.8,371.5 L84.3,371.1 L84.8,370.7 L85.3,370.3 L85.8,369.9 L86.3,369.4 L86.8,369.0 L87.3,368.5 L87.8,368.1 L88.3,367.6 L88.8,367.1 L89.3,366.7 L89.8,366.2 L90.3,365.8 L90.8,365.4 L91.3,364.9 L91.8,364.5 L92.3,364.1 L92.8,363.8 L93.3,363.4 L93.8,363.1 L94.3,362.8 L94.8,362.5 L95.3,362.3 L95.8,362.1 L96.3,361.9 L96.8,361.8 L97.3,361.7 L97.8,361.5 L98.3,361.4 L98.8,361.3 L99.3,361.2 L99.8,361.1 L100.3,361.0 L100.8,360.9 L101.3,360.8 L101.8,360.7 L102.3,360.6 L102.8,360.5 L103.3,360.4 L103.8,360.3 L104.3,360.2 L104.8,360.1 L105.3,360.0 L105.8,359.9 L106.3,359.8 L106.8,359.8 L107.3,359.7 L107.8,359.6 L108.3,359.5 L108.8,359.4 L109.3,359.4 L109.8,359.3 L110.3,359.2 L110.8,359.2 L111.3,359.1 L111.8,359.0 L112.3,359.0 L112.8,358.9 L113.3,358.8 L113.8,358.8 L114.3,358.7 L114.8,358.7 L115.3,358.6 L115.8,358.6 L116.3,358.5 L116.8,358.5 L117.3,358.4 L117.8,358.4 L118.3,358.4 L118.8,358.3 L119.3,358.3 L119.8,358.2 L120.3,358.2 L120.8,358.2 L121.3,358.2 L121.8,358.1 L122.3,358.1 L122.8,358.1 L123.3,358.1 L123.8,358.1 L124.3,358.0 L124.8,358.0 L125.3,358.0 L125.8,358.0 L126.3,358.0 L126.8,358.0 L127.3,358.0 L127.8,358.0 L128.3,358.0 L128.8,358.1 L129.3,358.1 L129.8,358.2 L130.3,358.3 L130.8,358.4 L131.3,358.5 L131.8,358.6 L132.3,358.7 L132.8,358.8 L133.3,359.0 L133.8,359.1 L134.3,359.3 L134.8,359.4 L135.3,359.6 L135.8,359.8 L136.3,360.0 L136.8,360.1 L137.3,360.3 L137.8,360.5 L138.3,360.7 L138.8,360.9 L139.3,361.1 L139.8,361.3 L140.3,361.5 L140.8,361.7 L141.3,361.9 L141.8,362.1 L142.3,362.2 L142.8,362.4 L143.3,362.6 L143.8,362.8 L144.3,362.9 L144.8,363.1 L145.3,363.2 L145.8,363.4 L146.3,363.5 L146.8,363.6 L147.3,363.7 L147.8,363.8 L148.3,363.9 L148.8,364.0 L149.3,364.1 L149.8,364.1 L150.3,364.2 L150.8,364.2 L151.3,364.2 L151.8,364.2 L152.3,364.2 L152.8,364.1 L153.3,364.0 L153.8,364.0 L154.3,363.9 L154.8,363.8 L155.3,363.7 L155.8,363.5 L156.3,363.4 L156.8,363.3 L157.3,363.2 L157.8,363.0 L158.3,362.9 L158.8,362.8 L159.3,362.7 L159.8,362.6 L160.3,362.5 L160.8,362.4 L161.3,362.3 L161.8,362.3 L162.3,362.2 L162.8,362.2 L163.3,362.2 L163.8,362.2 L164.3,362.3 L164.8,362.3 L165.3,362.4 L165.8,362.5 L166.3,362.6 L166.8,362.7 L167.3,362.8 L167.8,362.9 L168.3,363.1 L168.8,363.2 L169.3,363.3 L169.8,363.5 L170.3,363.6 L170.8,363.7 L171.3,363.9 L171.8,364.0 L172.3,364.1 L172.8,364.2 L173.3,364.3 L173.8,364.4 L174.3,364.4 L174.8,364.5 L175.3,364.5 L175.8,364.5 L176.3,364.5 L176.8,364.5 L177.3,364.4 L177.8,364.4 L178.3,364.3 L178.8,364.3 L179.3,364.2 L179.8,364.1 L180.3,364.0 L180.8,363.9 L181.3,363.8 L181.8,363.7 L182.3,363.5 L182.8,363.4 L183.3,363.3 L183.8,363.1 L184.3,363.0 L184.8,362.8 L185.3,362.7 L185.8,362.6 L186.3,362.4 L186.8,362.3 L187.3,362.1 L187.8,362.0 L188.3,361.8 L188.8,361.7 L189.3,361.5 L189.8,361.4 L190.3,361.2 L190.8,361.1 L191.3,361.0 L191.8,360.9 L192.3,360.7 L192.8,360.6 L193.3,360.5 L193.8,360.4 L194.3,360.4 L194.8,360.3 L195.3,360.2 L195.8,360.1 L196.3,360.0 L196.8,359.9 L197.3,359.9 L197.8,359.8 L198.3,359.7 L198.8,359.6 L199.3,359.6 L199.8,359.5 L200.3,359.4 L200.8,359.3 L201.3,359.3 L201.8,359.2 L202.3,359.1 L202.8,359.1 L203.3,359.0 L203.8,358.9 L204.3,358.8 L204.8,358.7 L205.3,358.7 L205.8,358.6 L206.3,358.5 L206.8,358.4 L207.3,358.3 L207.8,358.2 L208.3,358.1 L208.8,357.9 L209.3,357.8 L209.8,357.7 L210.3,357.6 L210.8,357.4 L211.3,357.3 L211.8,357.2 L212.3,357.0 L212.8,356.9 L213.3,356.8 L213.8,356.6 L214.3,356.5 L214.8,356.4 L215.3,356.3 L215.8,356.2 L216.3,356.1 L216.8,356.0 L217.3,356.0 L217.8,355.9 L218.3,355.9 L218.8,355.8 L219.3,355.8 L219.8,355.8 L220.3,355.8 L220.8,355.9 L221.3,356.0 L221.8,356.1 L222.3,356.2 L222.8,356.4 L223.3,356.6 L223.8,356.8 L224.3,357.0 L224.8,357.2 L225.3,357.5 L225.8,357.7 L226.3,358.0 L226.8,358.2 L227.3,358.5 L227.8,358.8 L228.3,359.1 L228.8,359.4 L229.3,359.7 L229.8,359.9 L230.3,360.2 L230.8,360.5 L231.3,360.7 L231.8,361.0 L232.3,361.3 L232.8,361.6 L233.3,361.9 L233.8,362.2 L234.3,362.5 L234.8,362.9 L235.3,363.2 L235.8,363.6 L236.3,363.9 L236.8,364.3 L237.3,364.7 L237.8,365.1 L238.3,365.5 L238.8,365.9 L239.3,366.3 L239.8,366.7 L240.3,367.2 L240.8,367.6 L241.3,368.1 L241.8,368.6 L242.3,369.1 L242.8,369.6 L243.3,370.2 L243.8,370.8 L244.3,371.4 L244.8,372.1 L245.3,372.9 L245.8,373.8 L246.3,374.8 L246.8,375.9 L247.3,376.9 L247.8,378.1 L248.3,379.2 L248.8,380.2 L249.3,381.3 L249.8,382.3 L250.3,383.2 L250.8,384.1 L251.3,385.0 L251.8,385.9 L252.3,386.8 L252.8,387.8 L253.3,389.0 L253.8,390.3 L254.3,391.9 L254.8,393.7 L255.3,395.7 L255.8,397.7 L256.3,399.8 L256.8,402.2 L257.3,404.7 L257.8,407.2 L258.3,409.3 L258.8,411.1 L259.3,412.8 L259.8,414.4 L260.3,415.9 L260.8,417.3 L261.3,418.7 L261.8,420.1 L262.3,421.4 L262.8,422.8 L263.3,424.2 L263.8,425.5 L264.3,426.9 L264.8,428.2 L265.3,429.5 L265.5,430.0" fill="none" stroke="#9a5fd0" stroke-width="0.9" stroke-linejoin="round"/>
<path d="M49.5,385.2 L51.4,381.7 L47.6,381.7Z" fill="#9a5fd0"/>
<path d="M53.0,391.1 L55.0,387.6 L51.1,387.6Z" fill="#9a5fd0"/>
<path d="M56.6,389.1 L58.5,385.6 L54.7,385.6Z" fill="#9a5fd0"/>
<path d="M60.1,385.6 L62.0,382.0 L58.2,382.0Z" fill="#9a5fd0"/>
<path d="M63.7,384.0 L65.6,380.4 L61.7,380.4Z" fill="#9a5fd0"/>
<path d="M67.2,383.2 L69.1,379.7 L65.3,379.7Z" fill="#9a5fd0"/>
<path d="M70.7,382.3 L72.7,378.8 L68.8,378.8Z" fill="#9a5fd0"/>
<path d="M74.3,380.5 L76.2,377.0 L72.4,377.0Z" fill="#9a5fd0"/>
<path d="M77.8,378.0 L79.7,374.5 L75.9,374.5Z" fill="#9a5fd0"/>
<path d="M81.4,375.3 L83.3,371.8 L79.4,371.8Z" fill="#9a5fd0"/>
<path d="M84.9,372.6 L86.8,369.1 L83.0,369.1Z" fill="#9a5fd0"/>
<path d="M88.4,369.5 L90.4,366.0 L86.5,366.0Z" fill="#9a5fd0"/>
<path d="M92.0,366.4 L93.9,362.9 L90.1,362.9Z" fill="#9a5fd0"/>
<path d="M95.5,364.2 L97.4,360.7 L93.6,360.7Z" fill="#9a5fd0"/>
<path d="M99.1,363.3 L101.0,359.8 L97.1,359.8Z" fill="#9a5fd0"/>
<path d="M102.6,362.5 L104.5,359.0 L100.7,359.0Z" fill="#9a5fd0"/>
<path d="M106.1,361.9 L108.1,358.4 L104.2,358.4Z" fill="#9a5fd0"/>
<path d="M109.7,361.3 L111.6,357.8 L107.8,357.8Z" fill="#9a5fd0"/>
<path d="M113.2,360.9 L115.1,357.3 L111.3,357.3Z" fill="#9a5fd0"/>
<path d="M116.8,360.5 L118.7,357.0 L114.8,357.0Z" fill="#9a5fd0"/>
<path d="M120.3,360.2 L122.2,356.7 L118.4,356.7Z" fill="#9a5fd0"/>
<path d="M123.8,360.1 L125.8,356.5 L121.9,356.5Z" fill="#9a5fd0"/>
<path d="M127.4,360.0 L129.3,356.5 L125.5,356.5Z" fill="#9a5fd0"/>
<path d="M130.9,360.4 L132.8,356.9 L129.0,356.9Z" fill="#9a5fd0"/>
<path d="M134.5,361.3 L136.4,357.8 L132.5,357.8Z" fill="#9a5fd0"/>
<path d="M138.0,362.6 L139.9,359.1 L136.1,359.1Z" fill="#9a5fd0"/>
<path d="M141.5,364.0 L143.5,360.4 L139.6,360.4Z" fill="#9a5fd0"/>
<path d="M145.1,365.2 L147.0,361.7 L143.2,361.7Z" fill="#9a5fd0"/>
<path d="M148.6,366.0 L150.5,362.5 L146.7,362.5Z" fill="#9a5fd0"/>
<path d="M152.2,366.2 L154.1,362.7 L150.2,362.7Z" fill="#9a5fd0"/>
<path d="M155.7,365.6 L157.6,362.1 L153.8,362.1Z" fill="#9a5fd0"/>
<path d="M159.2,364.7 L161.2,361.2 L157.3,361.2Z" fill="#9a5fd0"/>
<path d="M162.8,364.2 L164.7,360.7 L160.9,360.7Z" fill="#9a5fd0"/>
<path d="M166.3,364.6 L168.2,361.1 L164.4,361.1Z" fill="#9a5fd0"/>
<path d="M169.9,365.5 L171.8,362.0 L167.9,362.0Z" fill="#9a5fd0"/>
<path d="M173.4,366.3 L175.3,362.8 L171.5,362.8Z" fill="#9a5fd0"/>
<path d="M176.9,366.5 L178.9,362.9 L175.0,362.9Z" fill="#9a5fd0"/>
<path d="M180.5,366.0 L182.4,362.5 L178.6,362.5Z" fill="#9a5fd0"/>
<path d="M184.0,365.1 L185.9,361.6 L182.1,361.6Z" fill="#9a5fd0"/>
<path d="M187.6,364.0 L189.5,360.5 L185.6,360.5Z" fill="#9a5fd0"/>
<path d="M191.1,363.0 L193.0,359.5 L189.2,359.5Z" fill="#9a5fd0"/>
<path d="M194.6,362.3 L196.6,358.8 L192.7,358.8Z" fill="#9a5fd0"/>
<path d="M198.2,361.7 L200.1,358.2 L196.3,358.2Z" fill="#9a5fd0"/>
<path d="M201.7,361.2 L203.6,357.7 L199.8,357.7Z" fill="#9a5fd0"/>
<path d="M205.3,360.7 L207.2,357.2 L203.3,357.2Z" fill="#9a5fd0"/>
<path d="M208.8,360.0 L210.7,356.4 L206.9,356.4Z" fill="#9a5fd0"/>
<path d="M212.3,359.0 L214.3,355.5 L210.4,355.5Z" fill="#9a5fd0"/>
<path d="M215.9,358.2 L217.8,354.7 L214.0,354.7Z" fill="#9a5fd0"/>
<path d="M219.4,357.8 L221.3,354.3 L217.5,354.3Z" fill="#9a5fd0"/>
<path d="M223.0,358.4 L224.9,354.9 L221.0,354.9Z" fill="#9a5fd0"/>
<path d="M226.5,360.1 L228.4,356.6 L224.6,356.6Z" fill="#9a5fd0"/>
<path d="M230.0,362.1 L232.0,358.5 L228.1,358.5Z" fill="#9a5fd0"/>
<path d="M233.6,364.1 L235.5,360.6 L231.7,360.6Z" fill="#9a5fd0"/>
<path d="M237.1,366.6 L239.0,363.0 L235.2,363.0Z" fill="#9a5fd0"/>
<path d="M240.7,369.5 L242.6,366.0 L238.7,366.0Z" fill="#9a5fd0"/>
<path d="M244.2,373.3 L246.1,369.8 L242.3,369.8Z" fill="#9a5fd0"/>
<path d="M247.7,379.9 L249.7,376.4 L245.8,376.4Z" fill="#9a5fd0"/>
<path d="M251.3,386.9 L253.2,383.4 L249.4,383.4Z" fill="#9a5fd0"/>
<path d="M254.8,395.8 L256.7,392.3 L252.9,392.3Z" fill="#9a5fd0"/>
<path d="M258.4,411.6 L260.3,408.0 L256.4,408.0Z" fill="#9a5fd0"/>
<path d="M261.9,422.3 L263.8,418.8 L260.0,418.8Z" fill="#9a5fd0"/>
<path d="M265.4,431.9 L267.4,428.3 L263.5,428.3Z" fill="#9a5fd0"/>
<path d="M46.3,373.8 L46.8,375.9 L47.3,378.0 L47.8,380.0 L48.3,381.9 L48.8,383.8 L49.3,385.5 L49.8,387.0 L50.3,388.4 L50.8,389.7 L51.3,390.7 L51.8,391.5 L52.3,392.0 L52.8,392.3 L53.3,392.4 L53.8,392.3 L54.3,392.1 L54.8,391.8 L55.3,391.4 L55.8,391.0 L56.3,390.5 L56.8,390.0 L57.3,389.5 L57.8,389.0 L58.3,388.4 L58.8,387.9 L59.3,387.4 L59.8,386.9 L60.3,386.5 L60.8,386.2 L61.3,386.0 L61.8,385.8 L62.3,385.7 L62.8,385.6 L63.3,385.5 L63.8,385.5 L64.3,385.4 L64.8,385.4 L65.3,385.3 L65.8,385.3 L66.3,385.2 L66.8,385.2 L67.3,385.1 L67.8,385.1 L68.3,385.0 L68.8,385.0 L69.3,384.9 L69.8,384.8 L70.3,384.7 L70.8,384.6 L71.3,384.5 L71.8,384.3 L72.3,384.1 L72.8,383.9 L73.3,383.6 L73.8,383.3 L74.3,383.0 L74.8,382.6 L75.3,382.3 L75.8,381.9 L76.3,381.5 L76.8,381.1 L77.3,380.7 L77.8,380.2 L78.3,379.8 L78.8,379.3 L79.3,378.8 L79.8,378.4 L80.3,377.9 L80.8,377.4 L81.3,377.0 L81.8,376.5 L82.3,376.1 L82.8,375.6 L83.3,375.2 L83.8,374.7 L84.3,374.3 L84.8,373.7 L85.3,373.2 L85.8,372.6 L86.3,372.0 L86.8,371.4 L87.3,370.8 L87.8,370.2 L88.3,369.6 L88.8,369.1 L89.3,368.5 L89.8,368.0 L90.3,367.5 L90.8,367.1 L91.3,366.8 L91.8,366.5 L92.3,366.2 L92.8,366.1 L93.3,365.9 L93.8,365.8 L94.3,365.6 L94.8,365.5 L95.3,365.3 L95.8,365.2 L96.3,365.1 L96.8,365.0 L97.3,364.9 L97.8,364.8 L98.3,364.7 L98.8,364.6 L99.3,364.5 L99.8,364.5 L100.3,364.4 L100.8,364.3 L101.3,364.2 L101.8,364.2 L102.3,364.1 L102.8,364.0 L103.3,363.9 L103.8,363.9 L104.3,363.8 L104.8,363.7 L105.3,363.6 L105.8,363.6 L106.3,363.5 L106.8,363.4 L107.3,363.3 L107.8,363.2 L108.3,363.1 L108.8,363.0 L109.3,362.9 L109.8,362.8 L110.3,362.7 L110.8,362.7 L111.3,362.6 L111.8,362.5 L112.3,362.4 L112.8,362.3 L113.3,362.2 L113.8,362.1 L114.3,362.0 L114.8,361.9 L115.3,361.8 L115.8,361.8 L116.3,361.7 L116.8,361.6 L117.3,361.5 L117.8,361.4 L118.3,361.4 L118.8,361.3 L119.3,361.2 L119.8,361.1 L120.3,361.1 L120.8,361.0 L121.3,361.0 L121.8,360.9 L122.3,360.9 L122.8,360.8 L123.3,360.8 L123.8,360.7 L124.3,360.7 L124.8,360.7 L125.3,360.6 L125.8,360.6 L126.3,360.6 L126.8,360.6 L127.3,360.6 L127.8,360.6 L128.3,360.6 L128.8,360.7 L129.3,360.7 L129.8,360.8 L130.3,360.9 L130.8,361.0 L131.3,361.1 L131.8,361.2 L132.3,361.3 L132.8,361.5 L133.3,361.6 L133.8,361.8 L134.3,361.9 L134.8,362.1 L135.3,362.3 L135.8,362.4 L136.3,362.6 L136.8,362.8 L137.3,363.0 L137.8,363.2 L138.3,363.4 L138.8,363.6 L139.3,363.8 L139.8,364.0 L140.3,364.2 L140.8,364.4 L141.3,364.6 L141.8,364.8 L142.3,365.0 L142.8,365.2 L143.3,365.3 L143.8,365.5 L144.3,365.7 L144.8,365.8 L145.3,366.0 L145.8,366.1 L146.3,366.3 L146.8,366.4 L147.3,366.5 L147.8,366.6 L148.3,366.7 L148.8,366.8 L149.3,366.9 L149.8,366.9 L150.3,367.0 L150.8,367.0 L151.3,367.0 L151.8,367.0 L152.3,367.0 L152.8,366.9 L153.3,366.8 L153.8,366.8 L154.3,366.7 L154.8,366.6 L155.3,366.5 L155.8,366.3 L156.3,366.2 L156.8,366.1 L157.3,366.0 L157.8,365.8 L158.3,365.7 L158.8,365.6 L159.3,365.5 L159.8,365.4 L160.3,365.3 L160.8,365.2 L161.3,365.1 L161.8,365.1 L162.3,365.0 L162.8,365.0 L163.3,365.0 L163.8,365.0 L164.3,365.1 L164.8,365.1 L165.3,365.2 L165.8,365.3 L166.3,365.4 L166.8,365.5 L167.3,365.6 L167.8,365.7 L168.3,365.9 L168.8,366.0 L169.3,366.1 L169.8,366.3 L170.3,366.4 L170.8,366.5 L171.3,366.7 L171.8,366.8 L172.3,366.9 L172.8,367.0 L173.3,367.1 L173.8,367.2 L174.3,367.2 L174.8,367.3 L175.3,367.3 L175.8,367.3 L176.3,367.3 L176.8,367.3 L177.3,367.2 L177.8,367.2 L178.3,367.1 L178.8,367.0 L179.3,367.0 L179.8,366.9 L180.3,366.8 L180.8,366.7 L181.3,366.5 L181.8,366.4 L182.3,366.3 L182.8,366.2 L183.3,366.0 L183.8,365.9 L184.3,365.7 L184.8,365.6 L185.3,365.4 L185.8,365.3 L186.3,365.1 L186.8,365.0 L187.3,364.8 L187.8,364.7 L188.3,364.5 L188.8,364.4 L189.3,364.2 L189.8,364.1 L190.3,364.0 L190.8,363.8 L191.3,363.7 L191.8,363.6 L192.3,363.5 L192.8,363.4 L193.3,363.3 L193.8,363.3 L194.3,363.2 L194.8,363.1 L195.3,363.1 L195.8,363.0 L196.3,362.9 L196.8,362.9 L197.3,362.8 L197.8,362.8 L198.3,362.7 L198.8,362.7 L199.3,362.6 L199.8,362.6 L200.3,362.5 L200.8,362.5 L201.3,362.4 L201.8,362.4 L202.3,362.3 L202.8,362.3 L203.3,362.2 L203.8,362.1 L204.3,362.1 L204.8,362.0 L205.3,361.9 L205.8,361.9 L206.3,361.8 L206.8,361.7 L207.3,361.6 L207.8,361.5 L208.3,361.3 L208.8,361.2 L209.3,361.0 L209.8,360.9 L210.3,360.7 L210.8,360.6 L211.3,360.4 L211.8,360.2 L212.3,360.1 L212.8,359.9 L213.3,359.7 L213.8,359.5 L214.3,359.4 L214.8,359.2 L215.3,359.1 L215.8,359.0 L216.3,358.8 L216.8,358.7 L217.3,358.6 L217.8,358.5 L218.3,358.5 L218.8,358.4 L219.3,358.4 L219.8,358.4 L220.3,358.4 L220.8,358.5 L221.3,358.6 L221.8,358.7 L222.3,358.8 L222.8,358.9 L223.3,359.1 L223.8,359.3 L224.3,359.5 L224.8,359.7 L225.3,360.0 L225.8,360.2 L226.3,360.5 L226.8,360.8 L227.3,361.0 L227.8,361.3 L228.3,361.6 L228.8,361.9 L229.3,362.1 L229.8,362.4 L230.3,362.7 L230.8,363.0 L231.3,363.3 L231.8,363.6 L232.3,363.9 L232.8,364.2 L233.3,364.6 L233.8,364.9 L234.3,365.3 L234.8,365.7 L235.3,366.1 L235.8,366.5 L236.3,366.9 L236.8,367.3 L237.3,367.7 L237.8,368.2 L238.3,368.6 L238.8,369.0 L239.3,369.5 L239.8,369.9 L240.3,370.3 L240.8,370.8 L241.3,371.3 L241.8,371.8 L242.3,372.3 L242.8,372.8 L243.3,373.4 L243.8,374.0 L244.3,374.6 L244.8,375.3 L245.3,376.1 L245.8,376.9 L246.3,377.8 L246.8,378.7 L247.3,379.7 L247.8,380.7 L248.3,381.8 L248.8,382.8 L249.3,383.9 L249.8,384.9 L250.3,386.0 L250.8,387.0 L251.3,388.2 L251.8,389.3 L252.3,390.5 L252.8,391.7 L253.3,392.9 L253.8,394.2 L254.3,395.5 L254.8,396.9 L255.3,398.4 L255.8,399.9 L256.3,401.4 L256.8,402.9 L257.3,404.6 L257.8,406.3 L258.3,408.0 L258.8,409.7 L259.3,411.3 L259.8,413.0 L260.3,414.5 L260.8,416.1 L261.3,417.6 L261.8,419.1 L262.3,420.7 L262.8,422.3 L263.3,424.0 L263.8,425.8 L264.3,427.5 L264.8,429.4 L265.3,431.2 L265.5,432.0" fill="none" stroke="#2050c0" stroke-width="0.9" stroke-linejoin="round"/>
<path d="M49.5,384.1 L51.4,387.6 L47.6,387.6Z" fill="#2050c0"/>
<path d="M53.0,390.4 L55.0,393.9 L51.1,393.9Z" fill="#2050c0"/>
<path d="M56.6,388.2 L58.5,391.8 L54.7,391.8Z" fill="#2050c0"/>
<path d="M60.1,384.7 L62.0,388.2 L58.2,388.2Z" fill="#2050c0"/>
<path d="M63.7,383.5 L65.6,387.0 L61.7,387.0Z" fill="#2050c0"/>
<path d="M67.2,383.1 L69.1,386.7 L65.3,386.7Z" fill="#2050c0"/>
<path d="M70.7,382.6 L72.7,386.2 L68.8,386.2Z" fill="#2050c0"/>
<path d="M74.3,381.0 L76.2,384.5 L72.4,384.5Z" fill="#2050c0"/>
<path d="M77.8,378.2 L79.7,381.7 L75.9,381.7Z" fill="#2050c0"/>
<path d="M81.4,374.9 L83.3,378.4 L79.4,378.4Z" fill="#2050c0"/>
<path d="M84.9,371.6 L86.8,375.1 L83.0,375.1Z" fill="#2050c0"/>
<path d="M88.4,367.5 L90.4,371.0 L86.5,371.0Z" fill="#2050c0"/>
<path d="M92.0,364.4 L93.9,367.9 L90.1,367.9Z" fill="#2050c0"/>
<path d="M95.5,363.3 L97.4,366.8 L93.6,366.8Z" fill="#2050c0"/>
<path d="M99.1,362.6 L101.0,366.1 L97.1,366.1Z" fill="#2050c0"/>
<path d="M102.6,362.0 L104.5,365.6 L100.7,365.6Z" fill="#2050c0"/>
<path d="M106.1,361.5 L108.1,365.0 L104.2,365.0Z" fill="#2050c0"/>
<path d="M109.7,360.8 L111.6,364.4 L107.8,364.4Z" fill="#2050c0"/>
<path d="M113.2,360.2 L115.1,363.7 L111.3,363.7Z" fill="#2050c0"/>
<path d="M116.8,359.6 L118.7,363.1 L114.8,363.1Z" fill="#2050c0"/>
<path d="M120.3,359.1 L122.2,362.6 L118.4,362.6Z" fill="#2050c0"/>
<path d="M123.8,358.7 L125.8,362.2 L121.9,362.2Z" fill="#2050c0"/>
<path d="M127.4,358.6 L129.3,362.1 L125.5,362.1Z" fill="#2050c0"/>
<path d="M130.9,359.0 L132.8,362.5 L129.0,362.5Z" fill="#2050c0"/>
<path d="M134.5,360.0 L136.4,363.5 L132.5,363.5Z" fill="#2050c0"/>
<path d="M138.0,361.3 L139.9,364.8 L136.1,364.8Z" fill="#2050c0"/>
<path d="M141.5,362.7 L143.5,366.2 L139.6,366.2Z" fill="#2050c0"/>
<path d="M145.1,363.9 L147.0,367.4 L143.2,367.4Z" fill="#2050c0"/>
<path d="M148.6,364.8 L150.5,368.3 L146.7,368.3Z" fill="#2050c0"/>
<path d="M152.2,365.0 L154.1,368.5 L150.2,368.5Z" fill="#2050c0"/>
<path d="M155.7,364.4 L157.6,367.9 L153.8,367.9Z" fill="#2050c0"/>
<path d="M159.2,363.5 L161.2,367.0 L157.3,367.0Z" fill="#2050c0"/>
<path d="M162.8,363.0 L164.7,366.5 L160.9,366.5Z" fill="#2050c0"/>
<path d="M166.3,363.4 L168.2,366.9 L164.4,366.9Z" fill="#2050c0"/>
<path d="M169.9,364.3 L171.8,367.8 L167.9,367.8Z" fill="#2050c0"/>
<path d="M173.4,365.1 L175.3,368.6 L171.5,368.6Z" fill="#2050c0"/>
<path d="M176.9,365.2 L178.9,368.8 L175.0,368.8Z" fill="#2050c0"/>
<path d="M180.5,364.7 L182.4,368.2 L178.6,368.2Z" fill="#2050c0"/>
<path d="M184.0,363.8 L185.9,367.3 L182.1,367.3Z" fill="#2050c0"/>
<path d="M187.6,362.7 L189.5,366.2 L185.6,366.2Z" fill="#2050c0"/>
<path d="M191.1,361.8 L193.0,365.3 L189.2,365.3Z" fill="#2050c0"/>
<path d="M194.6,361.1 L196.6,364.6 L192.7,364.6Z" fill="#2050c0"/>
<path d="M198.2,360.7 L200.1,364.2 L196.3,364.2Z" fill="#2050c0"/>
<path d="M201.7,360.4 L203.6,363.9 L199.8,363.9Z" fill="#2050c0"/>
<path d="M205.3,359.9 L207.2,363.5 L203.3,363.5Z" fill="#2050c0"/>
<path d="M208.8,359.2 L210.7,362.7 L206.9,362.7Z" fill="#2050c0"/>
<path d="M212.3,358.0 L214.3,361.5 L210.4,361.5Z" fill="#2050c0"/>
<path d="M215.9,356.9 L217.8,360.4 L214.0,360.4Z" fill="#2050c0"/>
<path d="M219.4,356.4 L221.3,359.9 L217.5,359.9Z" fill="#2050c0"/>
<path d="M223.0,357.0 L224.9,360.5 L221.0,360.5Z" fill="#2050c0"/>
<path d="M226.5,358.6 L228.4,362.1 L224.6,362.1Z" fill="#2050c0"/>
<path d="M230.0,360.5 L232.0,364.1 L228.1,364.1Z" fill="#2050c0"/>
<path d="M233.6,362.7 L235.5,366.3 L231.7,366.3Z" fill="#2050c0"/>
<path d="M237.1,365.6 L239.0,369.1 L235.2,369.1Z" fill="#2050c0"/>
<path d="M240.7,368.7 L242.6,372.2 L238.7,372.2Z" fill="#2050c0"/>
<path d="M244.2,372.5 L246.1,376.0 L242.3,376.0Z" fill="#2050c0"/>
<path d="M247.7,378.6 L249.7,382.1 L245.8,382.1Z" fill="#2050c0"/>
<path d="M251.3,386.1 L253.2,389.6 L249.4,389.6Z" fill="#2050c0"/>
<path d="M254.8,395.0 L256.7,398.5 L252.9,398.5Z" fill="#2050c0"/>
<path d="M258.4,406.2 L260.3,409.7 L256.4,409.7Z" fill="#2050c0"/>
<path d="M261.9,417.4 L263.8,421.0 L260.0,421.0Z" fill="#2050c0"/>
<path d="M265.4,429.8 L267.4,433.3 L263.5,433.3Z" fill="#2050c0"/>
<path d="M46.3,376.0 L46.8,377.7 L47.3,379.3 L47.8,380.9 L48.3,382.4 L48.8,384.0 L49.3,385.5 L49.8,386.9 L50.3,388.5 L50.8,390.2 L51.3,391.9 L51.8,393.5 L52.3,394.7 L52.8,395.5 L53.3,395.6 L53.8,395.5 L54.3,395.2 L54.8,394.8 L55.3,394.4 L55.8,393.9 L56.3,393.5 L56.8,393.0 L57.3,392.6 L57.8,392.2 L58.3,391.7 L58.8,391.2 L59.3,390.8 L59.8,390.3 L60.3,389.9 L60.8,389.5 L61.3,389.2 L61.8,389.1 L62.3,389.0 L62.8,389.0 L63.3,388.9 L63.8,388.9 L64.3,388.8 L64.8,388.8 L65.3,388.8 L65.8,388.7 L66.3,388.7 L66.8,388.7 L67.3,388.7 L67.8,388.7 L68.3,388.6 L68.8,388.6 L69.3,388.5 L69.8,388.5 L70.3,388.4 L70.8,388.3 L71.3,388.2 L71.8,388.1 L72.3,387.9 L72.8,387.7 L73.3,387.4 L73.8,387.1 L74.3,386.9 L74.8,386.5 L75.3,386.2 L75.8,385.9 L76.3,385.6 L76.8,385.2 L77.3,384.8 L77.8,384.4 L78.3,383.9 L78.8,383.4 L79.3,382.8 L79.8,382.3 L80.3,381.7 L80.8,381.2 L81.3,380.6 L81.8,380.1 L82.3,379.5 L82.8,379.0 L83.3,378.5 L83.8,378.0 L84.3,377.5 L84.8,377.0 L85.3,376.5 L85.8,376.0 L86.3,375.5 L86.8,375.0 L87.3,374.5 L87.8,374.0 L88.3,373.5 L88.8,373.0 L89.3,372.5 L89.8,372.1 L90.3,371.7 L90.8,371.4 L91.3,371.1 L91.8,370.8 L92.3,370.5 L92.8,370.3 L93.3,370.2 L93.8,370.0 L94.3,369.8 L94.8,369.7 L95.3,369.5 L95.8,369.4 L96.3,369.2 L96.8,369.1 L97.3,368.9 L97.8,368.8 L98.3,368.7 L98.8,368.6 L99.3,368.5 L99.8,368.4 L100.3,368.3 L100.8,368.2 L101.3,368.1 L101.8,368.0 L102.3,367.9 L102.8,367.8 L103.3,367.7 L103.8,367.6 L104.3,367.5 L104.8,367.4 L105.3,367.3 L105.8,367.2 L106.3,367.1 L106.8,367.0 L107.3,366.9 L107.8,366.8 L108.3,366.7 L108.8,366.6 L109.3,366.5 L109.8,366.4 L110.3,366.3 L110.8,366.2 L111.3,366.1 L111.8,366.0 L112.3,365.9 L112.8,365.8 L113.3,365.7 L113.8,365.6 L114.3,365.5 L114.8,365.4 L115.3,365.3 L115.8,365.2 L116.3,365.1 L116.8,365.1 L117.3,365.0 L117.8,364.9 L118.3,364.8 L118.8,364.7 L119.3,364.7 L119.8,364.6 L120.3,364.5 L120.8,364.4 L121.3,364.4 L121.8,364.3 L122.3,364.3 L122.8,364.2 L123.3,364.2 L123.8,364.1 L124.3,364.1 L124.8,364.1 L125.3,364.0 L125.8,364.0 L126.3,364.0 L126.8,364.0 L127.3,364.0 L127.8,364.0 L128.3,364.0 L128.8,364.0 L129.3,364.1 L129.8,364.1 L130.3,364.1 L130.8,364.1 L131.3,364.2 L131.8,364.2 L132.3,364.3 L132.8,364.3 L133.3,364.4 L133.8,364.5 L134.3,364.5 L134.8,364.6 L135.3,364.7 L135.8,364.7 L136.3,364.8 L136.8,364.9 L137.3,365.0 L137.8,365.0 L138.3,365.1 L138.8,365.2 L139.3,365.3 L139.8,365.5 L140.3,365.7 L140.8,365.9 L141.3,366.1 L141.8,366.4 L142.3,366.6 L142.8,366.9 L143.3,367.2 L143.8,367.5 L144.3,367.8 L144.8,368.1 L145.3,368.3 L145.8,368.6 L146.3,368.9 L146.8,369.2 L147.3,369.5 L147.8,369.8 L148.3,370.0 L148.8,370.2 L149.3,370.4 L149.8,370.6 L150.3,370.8 L150.8,370.9 L151.3,371.1 L151.8,371.1 L152.3,371.2 L152.8,371.2 L153.3,371.2 L153.8,371.2 L154.3,371.1 L154.8,371.0 L155.3,371.0 L155.8,370.9 L156.3,370.8 L156.8,370.7 L157.3,370.5 L157.8,370.4 L158.3,370.3 L158.8,370.2 L159.3,370.1 L159.8,370.0 L160.3,369.9 L160.8,369.8 L161.3,369.7 L161.8,369.6 L162.3,369.6 L162.8,369.5 L163.3,369.5 L163.8,369.5 L164.3,369.5 L164.8,369.6 L165.3,369.6 L165.8,369.7 L166.3,369.8 L166.8,369.9 L167.3,370.0 L167.8,370.2 L168.3,370.3 L168.8,370.4 L169.3,370.6 L169.8,370.7 L170.3,370.8 L170.8,371.0 L171.3,371.1 L171.8,371.2 L172.3,371.3 L172.8,371.4 L173.3,371.4 L173.8,371.5 L174.3,371.5 L174.8,371.5 L175.3,371.5 L175.8,371.5 L176.3,371.4 L176.8,371.4 L177.3,371.3 L177.8,371.2 L178.3,371.1 L178.8,371.0 L179.3,370.9 L179.8,370.8 L180.3,370.7 L180.8,370.6 L181.3,370.5 L181.8,370.3 L182.3,370.2 L182.8,370.1 L183.3,369.9 L183.8,369.8 L184.3,369.6 L184.8,369.4 L185.3,369.3 L185.8,369.1 L186.3,369.0 L186.8,368.8 L187.3,368.7 L187.8,368.5 L188.3,368.4 L188.8,368.2 L189.3,368.1 L189.8,368.0 L190.3,367.8 L190.8,367.7 L191.3,367.6 L191.8,367.5 L192.3,367.4 L192.8,367.3 L193.3,367.2 L193.8,367.2 L194.3,367.1 L194.8,367.0 L195.3,367.0 L195.8,366.9 L196.3,366.9 L196.8,366.8 L197.3,366.8 L197.8,366.7 L198.3,366.7 L198.8,366.6 L199.3,366.6 L199.8,366.5 L200.3,366.5 L200.8,366.4 L201.3,366.4 L201.8,366.3 L202.3,366.3 L202.8,366.2 L203.3,366.2 L203.8,366.1 L204.3,366.1 L204.8,366.0 L205.3,365.9 L205.8,365.9 L206.3,365.8 L206.8,365.7 L207.3,365.6 L207.8,365.5 L208.3,365.3 L208.8,365.2 L209.3,365.0 L209.8,364.9 L210.3,364.7 L210.8,364.5 L211.3,364.3 L211.8,364.2 L212.3,364.0 L212.8,363.8 L213.3,363.6 L213.8,363.4 L214.3,363.3 L214.8,363.1 L215.3,362.9 L215.8,362.8 L216.3,362.7 L216.8,362.6 L217.3,362.4 L217.8,362.4 L218.3,362.3 L218.8,362.2 L219.3,362.2 L219.8,362.2 L220.3,362.2 L220.8,362.3 L221.3,362.4 L221.8,362.5 L222.3,362.6 L222.8,362.8 L223.3,362.9 L223.8,363.1 L224.3,363.3 L224.8,363.6 L225.3,363.8 L225.8,364.1 L226.3,364.3 L226.8,364.6 L227.3,364.9 L227.8,365.1 L228.3,365.4 L228.8,365.7 L229.3,366.0 L229.8,366.2 L230.3,366.5 L230.8,366.8 L231.3,367.0 L231.8,367.3 L232.3,367.6 L232.8,367.9 L233.3,368.2 L233.8,368.5 L234.3,368.8 L234.8,369.2 L235.3,369.5 L235.8,369.9 L236.3,370.2 L236.8,370.6 L237.3,371.0 L237.8,371.4 L238.3,371.8 L238.8,372.2 L239.3,372.6 L239.8,373.1 L240.3,373.5 L240.8,374.0 L241.3,374.5 L241.8,375.0 L242.3,375.5 L242.8,376.0 L243.3,376.6 L243.8,377.2 L244.3,377.8 L244.8,378.5 L245.3,379.2 L245.8,379.9 L246.3,380.7 L246.8,381.6 L247.3,382.4 L247.8,383.3 L248.3,384.3 L248.8,385.3 L249.3,386.4 L249.8,387.5 L250.3,388.8 L250.8,390.2 L251.3,391.7 L251.8,393.2 L252.3,394.5 L252.8,395.6 L253.3,396.6 L253.8,397.5 L254.3,398.3 L254.8,399.1 L255.3,400.0 L255.8,401.0 L256.3,402.3 L256.8,403.9 L257.3,405.8 L257.8,407.9 L258.3,410.0 L258.8,412.0 L259.3,413.8 L259.8,415.6 L260.3,417.3 L260.8,419.0 L261.3,420.7 L261.8,422.3 L262.3,424.0 L262.8,425.6 L263.3,427.2 L263.8,428.8 L264.3,430.3 L264.8,431.9 L265.3,433.4 L265.5,434.0" fill="none" stroke="#f03c1e" stroke-width="0.9" stroke-linejoin="round"/>
<circle cx="49.5" cy="386.0" r="1.5" fill="#f03c1e"/>
<circle cx="53.0" cy="395.6" r="1.5" fill="#f03c1e"/>
<circle cx="56.6" cy="393.2" r="1.5" fill="#f03c1e"/>
<circle cx="60.1" cy="390.0" r="1.5" fill="#f03c1e"/>
<circle cx="63.7" cy="388.9" r="1.5" fill="#f03c1e"/>
<circle cx="67.2" cy="388.7" r="1.5" fill="#f03c1e"/>
<circle cx="70.7" cy="388.4" r="1.5" fill="#f03c1e"/>
<circle cx="74.3" cy="386.9" r="1.5" fill="#f03c1e"/>
<circle cx="77.8" cy="384.3" r="1.5" fill="#f03c1e"/>
<circle cx="81.4" cy="380.5" r="1.5" fill="#f03c1e"/>
<circle cx="84.9" cy="376.9" r="1.5" fill="#f03c1e"/>
<circle cx="88.4" cy="373.3" r="1.5" fill="#f03c1e"/>
<circle cx="92.0" cy="370.7" r="1.5" fill="#f03c1e"/>
<circle cx="95.5" cy="369.4" r="1.5" fill="#f03c1e"/>
<circle cx="99.1" cy="368.5" r="1.5" fill="#f03c1e"/>
<circle cx="102.6" cy="367.8" r="1.5" fill="#f03c1e"/>
<circle cx="106.1" cy="367.2" r="1.5" fill="#f03c1e"/>
<circle cx="109.7" cy="366.5" r="1.5" fill="#f03c1e"/>
<circle cx="113.2" cy="365.7" r="1.5" fill="#f03c1e"/>
<circle cx="116.8" cy="365.1" r="1.5" fill="#f03c1e"/>
<circle cx="120.3" cy="364.5" r="1.5" fill="#f03c1e"/>
<circle cx="123.8" cy="364.1" r="1.5" fill="#f03c1e"/>
<circle cx="127.4" cy="364.0" r="1.5" fill="#f03c1e"/>
<circle cx="130.9" cy="364.2" r="1.5" fill="#f03c1e"/>
<circle cx="134.5" cy="364.5" r="1.5" fill="#f03c1e"/>
<circle cx="138.0" cy="365.1" r="1.5" fill="#f03c1e"/>
<circle cx="141.5" cy="366.2" r="1.5" fill="#f03c1e"/>
<circle cx="145.1" cy="368.2" r="1.5" fill="#f03c1e"/>
<circle cx="148.6" cy="370.2" r="1.5" fill="#f03c1e"/>
<circle cx="152.2" cy="371.2" r="1.5" fill="#f03c1e"/>
<circle cx="155.7" cy="370.9" r="1.5" fill="#f03c1e"/>
<circle cx="159.2" cy="370.1" r="1.5" fill="#f03c1e"/>
<circle cx="162.8" cy="369.5" r="1.5" fill="#f03c1e"/>
<circle cx="166.3" cy="369.8" r="1.5" fill="#f03c1e"/>
<circle cx="169.9" cy="370.7" r="1.5" fill="#f03c1e"/>
<circle cx="173.4" cy="371.4" r="1.5" fill="#f03c1e"/>
<circle cx="176.9" cy="371.3" r="1.5" fill="#f03c1e"/>
<circle cx="180.5" cy="370.7" r="1.5" fill="#f03c1e"/>
<circle cx="184.0" cy="369.7" r="1.5" fill="#f03c1e"/>
<circle cx="187.6" cy="368.6" r="1.5" fill="#f03c1e"/>
<circle cx="191.1" cy="367.7" r="1.5" fill="#f03c1e"/>
<circle cx="194.6" cy="367.0" r="1.5" fill="#f03c1e"/>
<circle cx="198.2" cy="366.7" r="1.5" fill="#f03c1e"/>
<circle cx="201.7" cy="366.3" r="1.5" fill="#f03c1e"/>
<circle cx="205.3" cy="365.9" r="1.5" fill="#f03c1e"/>
<circle cx="208.8" cy="365.2" r="1.5" fill="#f03c1e"/>
<circle cx="212.3" cy="364.0" r="1.5" fill="#f03c1e"/>
<circle cx="215.9" cy="362.8" r="1.5" fill="#f03c1e"/>
<circle cx="219.4" cy="362.2" r="1.5" fill="#f03c1e"/>
<circle cx="223.0" cy="362.8" r="1.5" fill="#f03c1e"/>
<circle cx="226.5" cy="364.4" r="1.5" fill="#f03c1e"/>
<circle cx="230.0" cy="366.4" r="1.5" fill="#f03c1e"/>
<circle cx="233.6" cy="368.4" r="1.5" fill="#f03c1e"/>
<circle cx="237.1" cy="370.8" r="1.5" fill="#f03c1e"/>
<circle cx="240.7" cy="373.8" r="1.5" fill="#f03c1e"/>
<circle cx="244.2" cy="377.7" r="1.5" fill="#f03c1e"/>
<circle cx="247.7" cy="383.2" r="1.5" fill="#f03c1e"/>
<circle cx="251.3" cy="391.7" r="1.5" fill="#f03c1e"/>
<circle cx="254.8" cy="399.1" r="1.5" fill="#f03c1e"/>
<circle cx="258.4" cy="410.3" r="1.5" fill="#f03c1e"/>
<circle cx="261.9" cy="422.7" r="1.5" fill="#f03c1e"/>
<circle cx="265.4" cy="433.8" r="1.5" fill="#f03c1e"/>
<path d="M46.3,375.5 L46.8,379.7 L47.3,383.7 L47.8,387.4 L48.3,390.7 L48.8,393.5 L49.3,395.7 L49.8,397.4 L50.3,399.0 L50.8,400.5 L51.3,401.8 L51.8,402.9 L52.3,403.7 L52.8,404.1 L53.3,404.2 L53.8,404.2 L54.3,404.2 L54.8,404.2 L55.3,404.1 L55.8,404.1 L56.3,404.0 L56.8,404.0 L57.3,403.8 L57.8,403.4 L58.3,402.8 L58.8,402.3 L59.3,401.7 L59.8,401.3 L60.3,401.0 L60.8,400.8 L61.3,400.7 L61.8,400.6 L62.3,400.5 L62.8,400.4 L63.3,400.3 L63.8,400.3 L64.3,400.4 L64.8,400.5 L65.3,400.7 L65.8,400.9 L66.3,401.1 L66.8,401.2 L67.3,401.3 L67.8,401.3 L68.3,401.3 L68.8,401.3 L69.3,401.3 L69.8,401.3 L70.3,401.3 L70.8,401.3 L71.3,401.3 L71.8,401.1 L72.3,400.8 L72.8,400.5 L73.3,400.1 L73.8,399.7 L74.3,399.2 L74.8,398.8 L75.3,398.4 L75.8,398.0 L76.3,397.5 L76.8,397.0 L77.3,396.6 L77.8,396.1 L78.3,395.6 L78.8,395.2 L79.3,394.7 L79.8,394.3 L80.3,393.9 L80.8,393.4 L81.3,392.9 L81.8,392.4 L82.3,391.8 L82.8,391.2 L83.3,390.6 L83.8,389.9 L84.3,389.3 L84.8,388.6 L85.3,388.0 L85.8,387.4 L86.3,386.8 L86.8,386.2 L87.3,385.6 L87.8,385.0 L88.3,384.5 L88.8,384.1 L89.3,383.7 L89.8,383.4 L90.3,383.1 L90.8,382.9 L91.3,382.6 L91.8,382.4 L92.3,382.2 L92.8,381.9 L93.3,381.6 L93.8,381.3 L94.3,381.1 L94.8,380.8 L95.3,380.5 L95.8,380.3 L96.3,380.1 L96.8,379.8 L97.3,379.6 L97.8,379.4 L98.3,379.1 L98.8,378.9 L99.3,378.7 L99.8,378.5 L100.3,378.3 L100.8,378.2 L101.3,378.0 L101.8,377.8 L102.3,377.6 L102.8,377.5 L103.3,377.3 L103.8,377.1 L104.3,377.0 L104.8,376.9 L105.3,376.7 L105.8,376.6 L106.3,376.5 L106.8,376.4 L107.3,376.3 L107.8,376.2 L108.3,376.1 L108.8,376.0 L109.3,375.9 L109.8,375.9 L110.3,375.8 L110.8,375.7 L111.3,375.6 L111.8,375.5 L112.3,375.5 L112.8,375.4 L113.3,375.3 L113.8,375.2 L114.3,375.2 L114.8,375.1 L115.3,375.0 L115.8,375.0 L116.3,374.9 L116.8,374.8 L117.3,374.8 L117.8,374.7 L118.3,374.6 L118.8,374.6 L119.3,374.5 L119.8,374.4 L120.3,374.4 L120.8,374.3 L121.3,374.2 L121.8,374.2 L122.3,374.1 L122.8,374.1 L123.3,374.0 L123.8,374.0 L124.3,373.9 L124.8,373.9 L125.3,373.9 L125.8,373.8 L126.3,373.8 L126.8,373.8 L127.3,373.8 L127.8,373.8 L128.3,373.8 L128.8,373.9 L129.3,373.9 L129.8,374.0 L130.3,374.1 L130.8,374.1 L131.3,374.2 L131.8,374.3 L132.3,374.4 L132.8,374.5 L133.3,374.7 L133.8,374.8 L134.3,374.9 L134.8,375.0 L135.3,375.1 L135.8,375.3 L136.3,375.4 L136.8,375.5 L137.3,375.6 L137.8,375.8 L138.3,375.9 L138.8,376.1 L139.3,376.3 L139.8,376.4 L140.3,376.6 L140.8,376.8 L141.3,377.0 L141.8,377.2 L142.3,377.3 L142.8,377.5 L143.3,377.7 L143.8,377.9 L144.3,378.1 L144.8,378.2 L145.3,378.4 L145.8,378.6 L146.3,378.8 L146.8,379.1 L147.3,379.3 L147.8,379.5 L148.3,379.8 L148.8,380.0 L149.3,380.2 L149.8,380.4 L150.3,380.6 L150.8,380.7 L151.3,380.8 L151.8,380.9 L152.3,381.0 L152.8,381.0 L153.3,381.0 L153.8,380.9 L154.3,380.8 L154.8,380.7 L155.3,380.6 L155.8,380.5 L156.3,380.3 L156.8,380.1 L157.3,380.0 L157.8,379.8 L158.3,379.6 L158.8,379.4 L159.3,379.2 L159.8,379.1 L160.3,378.9 L160.8,378.7 L161.3,378.6 L161.8,378.5 L162.3,378.4 L162.8,378.3 L163.3,378.3 L163.8,378.3 L164.3,378.3 L164.8,378.4 L165.3,378.4 L165.8,378.5 L166.3,378.6 L166.8,378.7 L167.3,378.9 L167.8,379.0 L168.3,379.1 L168.8,379.3 L169.3,379.4 L169.8,379.6 L170.3,379.7 L170.8,379.8 L171.3,380.0 L171.8,380.1 L172.3,380.2 L172.8,380.3 L173.3,380.3 L173.8,380.4 L174.3,380.4 L174.8,380.4 L175.3,380.4 L175.8,380.3 L176.3,380.3 L176.8,380.2 L177.3,380.2 L177.8,380.1 L178.3,380.0 L178.8,379.9 L179.3,379.8 L179.8,379.7 L180.3,379.5 L180.8,379.4 L181.3,379.3 L181.8,379.1 L182.3,379.0 L182.8,378.8 L183.3,378.7 L183.8,378.5 L184.3,378.3 L184.8,378.2 L185.3,378.0 L185.8,377.8 L186.3,377.7 L186.8,377.5 L187.3,377.3 L187.8,377.2 L188.3,377.0 L188.8,376.9 L189.3,376.7 L189.8,376.6 L190.3,376.5 L190.8,376.3 L191.3,376.2 L191.8,376.1 L192.3,376.0 L192.8,375.9 L193.3,375.8 L193.8,375.8 L194.3,375.7 L194.8,375.6 L195.3,375.6 L195.8,375.5 L196.3,375.5 L196.8,375.4 L197.3,375.4 L197.8,375.3 L198.3,375.3 L198.8,375.2 L199.3,375.2 L199.8,375.1 L200.3,375.1 L200.8,375.1 L201.3,375.0 L201.8,375.0 L202.3,374.9 L202.8,374.9 L203.3,374.8 L203.8,374.8 L204.3,374.7 L204.8,374.7 L205.3,374.6 L205.8,374.6 L206.3,374.5 L206.8,374.4 L207.3,374.3 L207.8,374.2 L208.3,374.1 L208.8,374.0 L209.3,373.9 L209.8,373.7 L210.3,373.6 L210.8,373.5 L211.3,373.3 L211.8,373.2 L212.3,373.1 L212.8,372.9 L213.3,372.8 L213.8,372.6 L214.3,372.5 L214.8,372.4 L215.3,372.3 L215.8,372.2 L216.3,372.1 L216.8,372.0 L217.3,371.9 L217.8,371.8 L218.3,371.8 L218.8,371.7 L219.3,371.7 L219.8,371.7 L220.3,371.7 L220.8,371.8 L221.3,371.9 L221.8,372.1 L222.3,372.2 L222.8,372.4 L223.3,372.7 L223.8,372.9 L224.3,373.2 L224.8,373.5 L225.3,373.8 L225.8,374.1 L226.3,374.4 L226.8,374.7 L227.3,375.0 L227.8,375.3 L228.3,375.6 L228.8,375.9 L229.3,376.2 L229.8,376.5 L230.3,376.7 L230.8,377.0 L231.3,377.3 L231.8,377.6 L232.3,377.9 L232.8,378.2 L233.3,378.5 L233.8,378.8 L234.3,379.1 L234.8,379.4 L235.3,379.8 L235.8,380.1 L236.3,380.5 L236.8,380.8 L237.3,381.2 L237.8,381.6 L238.3,382.0 L238.8,382.4 L239.3,382.8 L239.8,383.2 L240.3,383.7 L240.8,384.1 L241.3,384.6 L241.8,385.1 L242.3,385.6 L242.8,386.2 L243.3,386.8 L243.8,387.4 L244.3,388.0 L244.8,388.7 L245.3,389.6 L245.8,390.5 L246.3,391.5 L246.8,392.5 L247.3,393.6 L247.8,394.6 L248.3,395.7 L248.8,396.7 L249.3,397.7 L249.8,398.7 L250.3,399.8 L250.8,400.9 L251.3,402.0 L251.8,403.2 L252.3,404.6 L252.8,406.1 L253.3,407.7 L253.8,409.4 L254.3,411.1 L254.8,412.7 L255.3,414.3 L255.8,415.8 L256.3,417.3 L256.8,418.8 L257.3,420.3 L257.8,421.8 L258.3,423.5 L258.8,425.2 L259.3,427.1 L259.8,429.1 L260.3,431.1 L260.8,433.2 L261.3,435.1 L261.8,437.0 L262.3,438.7 L262.8,440.3 L263.3,441.8 L263.8,443.3 L264.3,444.7 L264.8,446.1 L265.3,447.4 L265.5,447.9" fill="none" stroke="#111" stroke-width="0.9" stroke-linejoin="round"/>
<rect x="48.0" y="394.9" width="3.0" height="3.0" fill="#111"/>
<rect x="51.5" y="402.7" width="3.0" height="3.0" fill="#111"/>
<rect x="55.1" y="402.5" width="3.0" height="3.0" fill="#111"/>
<rect x="58.6" y="399.6" width="3.0" height="3.0" fill="#111"/>
<rect x="62.2" y="398.8" width="3.0" height="3.0" fill="#111"/>
<rect x="65.7" y="399.8" width="3.0" height="3.0" fill="#111"/>
<rect x="69.2" y="399.8" width="3.0" height="3.0" fill="#111"/>
<rect x="72.8" y="397.8" width="3.0" height="3.0" fill="#111"/>
<rect x="76.3" y="394.6" width="3.0" height="3.0" fill="#111"/>
<rect x="79.9" y="391.4" width="3.0" height="3.0" fill="#111"/>
<rect x="83.4" y="387.0" width="3.0" height="3.0" fill="#111"/>
<rect x="86.9" y="382.9" width="3.0" height="3.0" fill="#111"/>
<rect x="90.5" y="380.8" width="3.0" height="3.0" fill="#111"/>
<rect x="94.0" y="378.9" width="3.0" height="3.0" fill="#111"/>
<rect x="97.6" y="377.3" width="3.0" height="3.0" fill="#111"/>
<rect x="101.1" y="376.0" width="3.0" height="3.0" fill="#111"/>
<rect x="104.6" y="375.1" width="3.0" height="3.0" fill="#111"/>
<rect x="108.2" y="374.4" width="3.0" height="3.0" fill="#111"/>
<rect x="111.7" y="373.8" width="3.0" height="3.0" fill="#111"/>
<rect x="115.3" y="373.4" width="3.0" height="3.0" fill="#111"/>
<rect x="118.8" y="372.9" width="3.0" height="3.0" fill="#111"/>
<rect x="122.3" y="372.5" width="3.0" height="3.0" fill="#111"/>
<rect x="125.9" y="372.3" width="3.0" height="3.0" fill="#111"/>
<rect x="129.4" y="372.7" width="3.0" height="3.0" fill="#111"/>
<rect x="133.0" y="373.4" width="3.0" height="3.0" fill="#111"/>
<rect x="136.5" y="374.3" width="3.0" height="3.0" fill="#111"/>
<rect x="140.0" y="375.6" width="3.0" height="3.0" fill="#111"/>
<rect x="143.6" y="376.8" width="3.0" height="3.0" fill="#111"/>
<rect x="147.1" y="378.4" width="3.0" height="3.0" fill="#111"/>
<rect x="150.7" y="379.5" width="3.0" height="3.0" fill="#111"/>
<rect x="154.2" y="379.0" width="3.0" height="3.0" fill="#111"/>
<rect x="157.7" y="377.8" width="3.0" height="3.0" fill="#111"/>
<rect x="161.3" y="376.8" width="3.0" height="3.0" fill="#111"/>
<rect x="164.8" y="377.1" width="3.0" height="3.0" fill="#111"/>
<rect x="168.4" y="378.1" width="3.0" height="3.0" fill="#111"/>
<rect x="171.9" y="378.8" width="3.0" height="3.0" fill="#111"/>
<rect x="175.4" y="378.7" width="3.0" height="3.0" fill="#111"/>
<rect x="179.0" y="378.0" width="3.0" height="3.0" fill="#111"/>
<rect x="182.5" y="376.9" width="3.0" height="3.0" fill="#111"/>
<rect x="186.1" y="375.8" width="3.0" height="3.0" fill="#111"/>
<rect x="189.6" y="374.8" width="3.0" height="3.0" fill="#111"/>
<rect x="193.1" y="374.2" width="3.0" height="3.0" fill="#111"/>
<rect x="196.7" y="373.8" width="3.0" height="3.0" fill="#111"/>
<rect x="200.2" y="373.5" width="3.0" height="3.0" fill="#111"/>
<rect x="203.8" y="373.1" width="3.0" height="3.0" fill="#111"/>
<rect x="207.3" y="372.5" width="3.0" height="3.0" fill="#111"/>
<rect x="210.8" y="371.5" width="3.0" height="3.0" fill="#111"/>
<rect x="214.4" y="370.6" width="3.0" height="3.0" fill="#111"/>
<rect x="217.9" y="370.2" width="3.0" height="3.0" fill="#111"/>
<rect x="221.5" y="371.0" width="3.0" height="3.0" fill="#111"/>
<rect x="225.0" y="373.0" width="3.0" height="3.0" fill="#111"/>
<rect x="228.5" y="375.1" width="3.0" height="3.0" fill="#111"/>
<rect x="232.1" y="377.2" width="3.0" height="3.0" fill="#111"/>
<rect x="235.6" y="379.6" width="3.0" height="3.0" fill="#111"/>
<rect x="239.2" y="382.5" width="3.0" height="3.0" fill="#111"/>
<rect x="242.7" y="386.4" width="3.0" height="3.0" fill="#111"/>
<rect x="246.2" y="393.0" width="3.0" height="3.0" fill="#111"/>
<rect x="249.8" y="400.5" width="3.0" height="3.0" fill="#111"/>
<rect x="253.3" y="411.3" width="3.0" height="3.0" fill="#111"/>
<rect x="256.9" y="422.2" width="3.0" height="3.0" fill="#111"/>
<rect x="260.4" y="435.8" width="3.0" height="3.0" fill="#111"/>
<rect x="263.9" y="446.3" width="3.0" height="3.0" fill="#111"/>
</g>
<rect x="46.3" y="344" width="219.7" height="122.9" fill="none" stroke="#222" stroke-width="1.3"/>
<line x1="46.3" y1="465.9" x2="43.8" y2="465.9" stroke="#333" stroke-width="0.8"/>
<line x1="46.3" y1="451.1" x2="44.9" y2="451.1" stroke="#333" stroke-width="0.8"/>
<line x1="46.3" y1="442.4" x2="44.9" y2="442.4" stroke="#333" stroke-width="0.8"/>
<line x1="46.3" y1="436.3" x2="44.9" y2="436.3" stroke="#333" stroke-width="0.8"/>
<line x1="46.3" y1="431.5" x2="44.9" y2="431.5" stroke="#333" stroke-width="0.8"/>
<line x1="46.3" y1="427.6" x2="44.9" y2="427.6" stroke="#333" stroke-width="0.8"/>
<line x1="46.3" y1="424.3" x2="44.9" y2="424.3" stroke="#333" stroke-width="0.8"/>
<line x1="46.3" y1="421.5" x2="44.9" y2="421.5" stroke="#333" stroke-width="0.8"/>
<line x1="46.3" y1="419.0" x2="44.9" y2="419.0" stroke="#333" stroke-width="0.8"/>
<line x1="46.3" y1="416.7" x2="43.8" y2="416.7" stroke="#333" stroke-width="0.8"/>
<line x1="46.3" y1="401.9" x2="44.9" y2="401.9" stroke="#333" stroke-width="0.8"/>
<line x1="46.3" y1="393.2" x2="44.9" y2="393.2" stroke="#333" stroke-width="0.8"/>
<line x1="46.3" y1="387.1" x2="44.9" y2="387.1" stroke="#333" stroke-width="0.8"/>
<line x1="46.3" y1="382.3" x2="44.9" y2="382.3" stroke="#333" stroke-width="0.8"/>
<line x1="46.3" y1="378.4" x2="44.9" y2="378.4" stroke="#333" stroke-width="0.8"/>
<line x1="46.3" y1="375.1" x2="44.9" y2="375.1" stroke="#333" stroke-width="0.8"/>
<line x1="46.3" y1="372.3" x2="44.9" y2="372.3" stroke="#333" stroke-width="0.8"/>
<line x1="46.3" y1="369.8" x2="44.9" y2="369.8" stroke="#333" stroke-width="0.8"/>
<line x1="46.3" y1="367.5" x2="43.8" y2="367.5" stroke="#333" stroke-width="0.8"/>
<line x1="46.3" y1="352.7" x2="44.9" y2="352.7" stroke="#333" stroke-width="0.8"/>
<line x1="46.3" y1="344.0" x2="44.9" y2="344.0" stroke="#333" stroke-width="0.8"/>
<text x="40.9" y="370.9" font-size="9.6" fill="#333" font-weight="normal" text-anchor="end" stroke="#333" stroke-width="0.25" >10</text>
<text x="40.9" y="420.1" font-size="9.6" fill="#333" font-weight="normal" text-anchor="end" stroke="#333" stroke-width="0.25" >1</text>
<text x="40.9" y="469.3" font-size="9.6" fill="#333" font-weight="normal" text-anchor="end" stroke="#333" stroke-width="0.25" >0.1</text>
<line x1="53.4" y1="466.9" x2="53.4" y2="469.09999999999997" stroke="#333" stroke-width="0.9"/>
<line x1="71.1" y1="466.9" x2="71.1" y2="468.29999999999995" stroke="#333" stroke-width="0.9"/>
<line x1="88.8" y1="466.9" x2="88.8" y2="469.09999999999997" stroke="#333" stroke-width="0.9"/>
<line x1="106.5" y1="466.9" x2="106.5" y2="468.29999999999995" stroke="#333" stroke-width="0.9"/>
<line x1="124.3" y1="466.9" x2="124.3" y2="469.09999999999997" stroke="#333" stroke-width="0.9"/>
<line x1="142.0" y1="466.9" x2="142.0" y2="468.29999999999995" stroke="#333" stroke-width="0.9"/>
<line x1="159.7" y1="466.9" x2="159.7" y2="469.09999999999997" stroke="#333" stroke-width="0.9"/>
<line x1="177.4" y1="466.9" x2="177.4" y2="468.29999999999995" stroke="#333" stroke-width="0.9"/>
<line x1="195.1" y1="466.9" x2="195.1" y2="469.09999999999997" stroke="#333" stroke-width="0.9"/>
<line x1="212.8" y1="466.9" x2="212.8" y2="468.29999999999995" stroke="#333" stroke-width="0.9"/>
<line x1="230.6" y1="466.9" x2="230.6" y2="469.09999999999997" stroke="#333" stroke-width="0.9"/>
<line x1="248.3" y1="466.9" x2="248.3" y2="468.29999999999995" stroke="#333" stroke-width="0.9"/>
<line x1="266.0" y1="466.9" x2="266.0" y2="469.09999999999997" stroke="#333" stroke-width="0.9"/>
<text x="53.4" y="477.2" font-size="9.6" fill="#333" font-weight="normal" text-anchor="middle" stroke="#333" stroke-width="0.25" >400</text>
<text x="88.8" y="477.2" font-size="9.6" fill="#333" font-weight="normal" text-anchor="middle" stroke="#333" stroke-width="0.25" >600</text>
<text x="124.3" y="477.2" font-size="9.6" fill="#333" font-weight="normal" text-anchor="middle" stroke="#333" stroke-width="0.25" >800</text>
<text x="159.7" y="477.2" font-size="9.6" fill="#333" font-weight="normal" text-anchor="middle" stroke="#333" stroke-width="0.25" >1000</text>
<text x="195.1" y="477.2" font-size="9.6" fill="#333" font-weight="normal" text-anchor="middle" stroke="#333" stroke-width="0.25" >1200</text>
<text x="230.6" y="477.2" font-size="9.6" fill="#333" font-weight="normal" text-anchor="middle" stroke="#333" stroke-width="0.25" >1400</text>
<text x="266" y="477.2" font-size="9.6" fill="#333" font-weight="normal" text-anchor="middle" stroke="#333" stroke-width="0.25" >1600</text>
<text x="155.7" y="486.9" font-size="9.5" fill="#3a3a3a" font-weight="normal" text-anchor="middle" letter-spacing="0.6" stroke="#3a3a3a" stroke-width="0.2" >Wavelength (nm)</text>
<text x="0" y="0" font-size="9.2" fill="#3a3a3a" stroke="#3a3a3a" stroke-width="0.3" text-anchor="middle" transform="translate(32.3,405) rotate(-90)"><tspan font-style="italic">R</tspan> (mA/W)</text>
<text x="187.9" y="409.2" font-size="9.5" fill="#4a4a4a" font-weight="normal" text-anchor="start" letter-spacing="0.59" stroke="#4a4a4a" stroke-width="0.22" >Bias (mV)</text>
<line x1="188.6" y1="419.5" x2="209.3" y2="419.5" stroke="#111" stroke-width="1.2"/>
<rect x="197.0" y="417.5" width="4.0" height="4.0" fill="#111"/>
<text x="212.4" y="423.1" font-size="10" fill="#4a4a4a" font-weight="normal" text-anchor="start" letter-spacing="0.2" stroke="#4a4a4a" stroke-width="0.22" >-50</text>
<line x1="188.6" y1="431.2" x2="209.3" y2="431.2" stroke="#f03c1e" stroke-width="1.2"/>
<circle cx="199.0" cy="431.2" r="2.0" fill="#f03c1e"/>
<text x="212.4" y="434.8" font-size="10" fill="#4a4a4a" font-weight="normal" text-anchor="start" letter-spacing="0.2" stroke="#4a4a4a" stroke-width="0.22" >-100</text>
<line x1="188.6" y1="443" x2="209.3" y2="443" stroke="#2050c0" stroke-width="1.2"/>
<path d="M199.0,440.7 L201.2,444.7 L196.8,444.7Z" fill="#2050c0"/>
<text x="212.4" y="446.6" font-size="10" fill="#4a4a4a" font-weight="normal" text-anchor="start" letter-spacing="0.2" stroke="#4a4a4a" stroke-width="0.22" >-150</text>
<line x1="188.6" y1="454.8" x2="209.3" y2="454.8" stroke="#9a5fd0" stroke-width="1.2"/>
<path d="M199.0,457.1 L201.2,453.1 L196.8,453.1Z" fill="#9a5fd0"/>
<text x="212.4" y="458.4" font-size="10" fill="#4a4a4a" font-weight="normal" text-anchor="start" letter-spacing="0.2" stroke="#4a4a4a" stroke-width="0.22" >-200</text>
<text x="283.6" y="347.6" font-size="12" fill="#222" font-weight="normal" text-anchor="start" letter-spacing="1.6" stroke="#222" stroke-width="0.3" >(f)</text>
<clipPath id="clipf"><rect x="332.5" y="335.2" width="199.5" height="133.3"/></clipPath>
<g clip-path="url(#clipf)">
<path d="M333.2,385.3 L333.7,388.7 L334.2,392.1 L334.7,394.9 L335.2,396.8 L335.7,397.3 L336.2,397.3 L336.7,397.2 L337.2,397.1 L337.7,396.9 L338.2,396.7 L338.7,396.5 L339.2,396.3 L339.7,396.1 L340.2,395.9 L340.7,395.7 L341.2,395.5 L341.7,395.3 L342.2,395.1 L342.7,394.9 L343.2,394.6 L343.7,394.4 L344.2,394.2 L344.7,394.0 L345.2,393.8 L345.7,393.7 L346.2,393.7 L346.7,393.7 L347.2,393.9 L347.7,394.1 L348.2,394.3 L348.7,394.6 L349.2,394.8 L349.7,395.1 L350.2,395.3 L350.7,395.4 L351.2,395.5 L351.7,395.5 L352.2,395.3 L352.7,395.0 L353.2,394.7 L353.7,394.3 L354.2,394.0 L354.7,393.6 L355.2,393.1 L355.7,392.6 L356.2,392.0 L356.7,391.3 L357.2,390.7 L357.7,390.0 L358.2,389.2 L358.7,388.5 L359.2,387.7 L359.7,386.9 L360.2,386.1 L360.7,385.3 L361.2,384.5 L361.7,383.7 L362.2,382.8 L362.7,381.8 L363.2,380.9 L363.7,379.8 L364.2,378.8 L364.7,377.8 L365.2,376.9 L365.7,376.1 L366.2,375.3 L366.7,374.6 L367.2,373.9 L367.7,373.3 L368.2,372.6 L368.7,372.0 L369.2,371.4 L369.7,370.9 L370.2,370.3 L370.7,369.8 L371.2,369.3 L371.7,368.8 L372.2,368.3 L372.7,367.9 L373.2,367.4 L373.7,366.9 L374.2,366.5 L374.7,366.0 L375.2,365.6 L375.7,365.2 L376.2,364.8 L376.7,364.4 L377.2,364.0 L377.7,363.6 L378.2,363.2 L378.7,362.9 L379.2,362.6 L379.7,362.2 L380.2,362.0 L380.7,361.7 L381.2,361.4 L381.7,361.2 L382.2,361.0 L382.7,360.8 L383.2,360.6 L383.7,360.4 L384.2,360.2 L384.7,360.1 L385.2,359.9 L385.7,359.8 L386.2,359.6 L386.7,359.5 L387.2,359.3 L387.7,359.2 L388.2,359.1 L388.7,359.0 L389.2,358.8 L389.7,358.7 L390.2,358.6 L390.7,358.4 L391.2,358.3 L391.7,358.2 L392.2,358.0 L392.7,357.9 L393.2,357.7 L393.7,357.6 L394.2,357.4 L394.7,357.2 L395.2,357.1 L395.7,356.9 L396.2,356.7 L396.7,356.6 L397.2,356.4 L397.7,356.3 L398.2,356.1 L398.7,356.0 L399.2,355.9 L399.7,355.8 L400.2,355.7 L400.7,355.6 L401.2,355.5 L401.7,355.5 L402.2,355.5 L402.7,355.5 L403.2,355.5 L403.7,355.6 L404.2,355.7 L404.7,355.7 L405.2,355.8 L405.7,355.9 L406.2,356.1 L406.7,356.2 L407.2,356.3 L407.7,356.5 L408.2,356.6 L408.7,356.8 L409.2,357.0 L409.7,357.2 L410.2,357.3 L410.7,357.5 L411.2,357.7 L411.7,357.9 L412.2,358.0 L412.7,358.2 L413.2,358.4 L413.7,358.7 L414.2,358.9 L414.7,359.2 L415.2,359.5 L415.7,359.8 L416.2,360.2 L416.7,360.5 L417.2,360.9 L417.7,361.3 L418.2,361.6 L418.7,362.0 L419.2,362.3 L419.7,362.7 L420.2,363.0 L420.7,363.4 L421.2,363.7 L421.7,363.9 L422.2,364.2 L422.7,364.4 L423.2,364.6 L423.7,364.8 L424.2,364.9 L424.7,365.0 L425.2,365.0 L425.7,365.0 L426.2,365.0 L426.7,364.9 L427.2,364.8 L427.7,364.7 L428.2,364.6 L428.7,364.4 L429.2,364.3 L429.7,364.1 L430.2,363.9 L430.7,363.7 L431.2,363.5 L431.7,363.3 L432.2,363.1 L432.7,362.9 L433.2,362.7 L433.7,362.5 L434.2,362.3 L434.7,362.1 L435.2,361.9 L435.7,361.7 L436.2,361.6 L436.7,361.5 L437.2,361.3 L437.7,361.2 L438.2,361.2 L438.7,361.1 L439.2,361.1 L439.7,361.1 L440.2,361.2 L440.7,361.2 L441.2,361.3 L441.7,361.5 L442.2,361.6 L442.7,361.8 L443.2,362.0 L443.7,362.1 L444.2,362.3 L444.7,362.5 L445.2,362.6 L445.7,362.8 L446.2,362.9 L446.7,363.0 L447.2,363.1 L447.7,363.2 L448.2,363.2 L448.7,363.2 L449.2,363.1 L449.7,363.0 L450.2,362.8 L450.7,362.7 L451.2,362.4 L451.7,362.2 L452.2,361.9 L452.7,361.7 L453.2,361.4 L453.7,361.0 L454.2,360.7 L454.7,360.4 L455.2,360.1 L455.7,359.7 L456.2,359.4 L456.7,359.1 L457.2,358.8 L457.7,358.5 L458.2,358.2 L458.7,358.0 L459.2,357.8 L459.7,357.6 L460.2,357.4 L460.7,357.3 L461.2,357.3 L461.7,357.2 L462.2,357.1 L462.7,357.1 L463.2,357.0 L463.7,357.0 L464.2,356.9 L464.7,356.9 L465.2,356.8 L465.7,356.8 L466.2,356.8 L466.7,356.7 L467.2,356.7 L467.7,356.7 L468.2,356.6 L468.7,356.6 L469.2,356.6 L469.7,356.6 L470.2,356.5 L470.7,356.5 L471.2,356.5 L471.7,356.4 L472.2,356.4 L472.7,356.4 L473.2,356.3 L473.7,356.3 L474.2,356.2 L474.7,356.2 L475.2,356.1 L475.7,356.1 L476.2,356.0 L476.7,355.9 L477.2,355.8 L477.7,355.7 L478.2,355.6 L478.7,355.4 L479.2,355.2 L479.7,355.0 L480.2,354.9 L480.7,354.7 L481.2,354.4 L481.7,354.2 L482.2,354.0 L482.7,353.8 L483.2,353.6 L483.7,353.4 L484.2,353.2 L484.7,353.0 L485.2,352.9 L485.7,352.7 L486.2,352.6 L486.7,352.5 L487.2,352.4 L487.7,352.3 L488.2,352.2 L488.7,352.2 L489.2,352.2 L489.7,352.2 L490.2,352.3 L490.7,352.3 L491.2,352.4 L491.7,352.5 L492.2,352.6 L492.7,352.8 L493.2,352.9 L493.7,353.1 L494.2,353.3 L494.7,353.4 L495.2,353.6 L495.7,353.9 L496.2,354.1 L496.7,354.3 L497.2,354.5 L497.7,354.8 L498.2,355.0 L498.7,355.3 L499.2,355.7 L499.7,356.2 L500.2,356.7 L500.7,357.3 L501.2,357.9 L501.7,358.6 L502.2,359.3 L502.7,360.0 L503.2,360.7 L503.7,361.5 L504.2,362.3 L504.7,363.1 L505.2,363.9 L505.7,364.7 L506.2,365.4 L506.7,366.2 L507.2,367.0 L507.7,367.8 L508.2,368.6 L508.7,369.4 L509.2,370.2 L509.7,371.1 L510.2,372.0 L510.7,372.9 L511.2,373.8 L511.7,374.8 L512.2,375.8 L512.7,376.8 L513.2,377.8 L513.7,378.9 L514.2,380.0 L514.7,381.1 L515.2,382.3 L515.7,383.5 L516.2,384.8 L516.7,386.2 L517.2,387.6 L517.7,389.0 L518.2,390.5 L518.7,392.0 L519.2,393.6 L519.7,395.1 L520.2,396.7 L520.7,398.3 L521.2,400.0 L521.7,401.7 L522.2,403.4 L522.7,405.2 L523.2,407.1 L523.7,409.0 L524.2,411.1 L524.7,413.2 L525.2,415.5 L525.7,417.9 L526.2,420.7 L526.7,424.1 L527.2,427.8 L527.7,431.3 L528.2,434.3 L528.7,436.7 L529.2,438.9 L529.7,441.1 L530.2,443.0 L530.7,444.7 L531.2,446.2 L531.7,447.4 L531.8,447.6" fill="none" stroke="#111" stroke-width="1"/>
<rect x="334.0" y="395.7" width="3.2" height="3.2" fill="#111"/>
<rect x="337.3" y="394.8" width="3.2" height="3.2" fill="#111"/>
<rect x="340.5" y="393.5" width="3.2" height="3.2" fill="#111"/>
<rect x="343.8" y="392.2" width="3.2" height="3.2" fill="#111"/>
<rect x="347.0" y="392.9" width="3.2" height="3.2" fill="#111"/>
<rect x="350.3" y="393.8" width="3.2" height="3.2" fill="#111"/>
<rect x="353.6" y="391.5" width="3.2" height="3.2" fill="#111"/>
<rect x="356.8" y="387.3" width="3.2" height="3.2" fill="#111"/>
<rect x="360.1" y="382.1" width="3.2" height="3.2" fill="#111"/>
<rect x="363.3" y="375.8" width="3.2" height="3.2" fill="#111"/>
<rect x="366.6" y="371.0" width="3.2" height="3.2" fill="#111"/>
<rect x="369.9" y="367.4" width="3.2" height="3.2" fill="#111"/>
<rect x="373.1" y="364.4" width="3.2" height="3.2" fill="#111"/>
<rect x="376.4" y="361.8" width="3.2" height="3.2" fill="#111"/>
<rect x="379.6" y="359.8" width="3.2" height="3.2" fill="#111"/>
<rect x="382.9" y="358.5" width="3.2" height="3.2" fill="#111"/>
<rect x="386.2" y="357.6" width="3.2" height="3.2" fill="#111"/>
<rect x="389.4" y="356.8" width="3.2" height="3.2" fill="#111"/>
<rect x="392.7" y="355.8" width="3.2" height="3.2" fill="#111"/>
<rect x="395.9" y="354.7" width="3.2" height="3.2" fill="#111"/>
<rect x="399.2" y="354.0" width="3.2" height="3.2" fill="#111"/>
<rect x="402.5" y="354.0" width="3.2" height="3.2" fill="#111"/>
<rect x="405.7" y="354.8" width="3.2" height="3.2" fill="#111"/>
<rect x="409.0" y="355.9" width="3.2" height="3.2" fill="#111"/>
<rect x="412.2" y="357.1" width="3.2" height="3.2" fill="#111"/>
<rect x="415.5" y="359.2" width="3.2" height="3.2" fill="#111"/>
<rect x="418.8" y="361.5" width="3.2" height="3.2" fill="#111"/>
<rect x="422.0" y="363.1" width="3.2" height="3.2" fill="#111"/>
<rect x="425.3" y="363.3" width="3.2" height="3.2" fill="#111"/>
<rect x="428.5" y="362.3" width="3.2" height="3.2" fill="#111"/>
<rect x="431.8" y="361.0" width="3.2" height="3.2" fill="#111"/>
<rect x="435.1" y="359.9" width="3.2" height="3.2" fill="#111"/>
<rect x="438.3" y="359.5" width="3.2" height="3.2" fill="#111"/>
<rect x="441.6" y="360.3" width="3.2" height="3.2" fill="#111"/>
<rect x="444.8" y="361.4" width="3.2" height="3.2" fill="#111"/>
<rect x="448.1" y="361.4" width="3.2" height="3.2" fill="#111"/>
<rect x="451.4" y="359.9" width="3.2" height="3.2" fill="#111"/>
<rect x="454.6" y="357.8" width="3.2" height="3.2" fill="#111"/>
<rect x="457.9" y="356.1" width="3.2" height="3.2" fill="#111"/>
<rect x="461.1" y="355.5" width="3.2" height="3.2" fill="#111"/>
<rect x="464.4" y="355.2" width="3.2" height="3.2" fill="#111"/>
<rect x="467.7" y="355.0" width="3.2" height="3.2" fill="#111"/>
<rect x="470.9" y="354.8" width="3.2" height="3.2" fill="#111"/>
<rect x="474.2" y="354.5" width="3.2" height="3.2" fill="#111"/>
<rect x="477.4" y="353.7" width="3.2" height="3.2" fill="#111"/>
<rect x="480.7" y="352.4" width="3.2" height="3.2" fill="#111"/>
<rect x="484.0" y="351.2" width="3.2" height="3.2" fill="#111"/>
<rect x="487.2" y="350.6" width="3.2" height="3.2" fill="#111"/>
<rect x="490.5" y="351.0" width="3.2" height="3.2" fill="#111"/>
<rect x="493.7" y="352.1" width="3.2" height="3.2" fill="#111"/>
<rect x="497.0" y="353.7" width="3.2" height="3.2" fill="#111"/>
<rect x="500.3" y="357.2" width="3.2" height="3.2" fill="#111"/>
<rect x="503.5" y="362.1" width="3.2" height="3.2" fill="#111"/>
<rect x="506.8" y="367.3" width="3.2" height="3.2" fill="#111"/>
<rect x="510.0" y="373.1" width="3.2" height="3.2" fill="#111"/>
<rect x="513.3" y="380.0" width="3.2" height="3.2" fill="#111"/>
<rect x="516.6" y="388.8" width="3.2" height="3.2" fill="#111"/>
<rect x="519.8" y="399.1" width="3.2" height="3.2" fill="#111"/>
<rect x="523.1" y="411.5" width="3.2" height="3.2" fill="#111"/>
<rect x="526.3" y="431.2" width="3.2" height="3.2" fill="#111"/>
<rect x="529.6" y="444.6" width="3.2" height="3.2" fill="#111"/>
<path d="M333.2,384.8 L333.7,388.2 L334.2,391.6 L334.7,394.4 L335.2,396.3 L335.7,396.8 L336.2,396.8 L336.7,396.7 L337.2,396.6 L337.7,396.4 L338.2,396.2 L338.7,396.0 L339.2,395.8 L339.7,395.6 L340.2,395.4 L340.7,395.2 L341.2,395.0 L341.7,394.8 L342.2,394.6 L342.7,394.4 L343.2,394.1 L343.7,393.9 L344.2,393.7 L344.7,393.5 L345.2,393.3 L345.7,393.2 L346.2,393.2 L346.7,393.2 L347.2,393.4 L347.7,393.6 L348.2,393.8 L348.7,394.1 L349.2,394.3 L349.7,394.6 L350.2,394.8 L350.7,394.9 L351.2,395.0 L351.7,395.0 L352.2,394.8 L352.7,394.5 L353.2,394.2 L353.7,393.8 L354.2,393.5 L354.7,393.1 L355.2,392.6 L355.7,392.1 L356.2,391.5 L356.7,390.8 L357.2,390.2 L357.7,389.5 L358.2,388.7 L358.7,388.0 L359.2,387.2 L359.7,386.4 L360.2,385.6 L360.7,384.8 L361.2,384.0 L361.7,383.2 L362.2,382.3 L362.7,381.3 L363.2,380.4 L363.7,379.3 L364.2,378.3 L364.7,377.3 L365.2,376.4 L365.7,375.6 L366.2,374.8 L366.7,374.1 L367.2,373.4 L367.7,372.8 L368.2,372.1 L368.7,371.5 L369.2,370.9 L369.7,370.4 L370.2,369.8 L370.7,369.3 L371.2,368.8 L371.7,368.3 L372.2,367.8 L372.7,367.4 L373.2,366.9 L373.7,366.4 L374.2,366.0 L374.7,365.5 L375.2,365.1 L375.7,364.7 L376.2,364.3 L376.7,363.9 L377.2,363.5 L377.7,363.1 L378.2,362.7 L378.7,362.4 L379.2,362.1 L379.7,361.7 L380.2,361.5 L380.7,361.2 L381.2,360.9 L381.7,360.7 L382.2,360.5 L382.7,360.3 L383.2,360.1 L383.7,359.9 L384.2,359.7 L384.7,359.6 L385.2,359.4 L385.7,359.3 L386.2,359.1 L386.7,359.0 L387.2,358.8 L387.7,358.7 L388.2,358.6 L388.7,358.5 L389.2,358.3 L389.7,358.2 L390.2,358.1 L390.7,357.9 L391.2,357.8 L391.7,357.7 L392.2,357.5 L392.7,357.4 L393.2,357.2 L393.7,357.1 L394.2,356.9 L394.7,356.7 L395.2,356.6 L395.7,356.4 L396.2,356.2 L396.7,356.1 L397.2,355.9 L397.7,355.8 L398.2,355.6 L398.7,355.5 L399.2,355.4 L399.7,355.3 L400.2,355.2 L400.7,355.1 L401.2,355.0 L401.7,355.0 L402.2,355.0 L402.7,355.0 L403.2,355.0 L403.7,355.1 L404.2,355.2 L404.7,355.2 L405.2,355.3 L405.7,355.4 L406.2,355.6 L406.7,355.7 L407.2,355.8 L407.7,356.0 L408.2,356.1 L408.7,356.3 L409.2,356.5 L409.7,356.7 L410.2,356.8 L410.7,357.0 L411.2,357.2 L411.7,357.4 L412.2,357.5 L412.7,357.7 L413.2,357.9 L413.7,358.2 L414.2,358.4 L414.7,358.7 L415.2,359.0 L415.7,359.3 L416.2,359.7 L416.7,360.0 L417.2,360.4 L417.7,360.8 L418.2,361.1 L418.7,361.5 L419.2,361.8 L419.7,362.2 L420.2,362.5 L420.7,362.9 L421.2,363.2 L421.7,363.4 L422.2,363.7 L422.7,363.9 L423.2,364.1 L423.7,364.3 L424.2,364.4 L424.7,364.5 L425.2,364.5 L425.7,364.5 L426.2,364.5 L426.7,364.4 L427.2,364.3 L427.7,364.2 L428.2,364.1 L428.7,363.9 L429.2,363.8 L429.7,363.6 L430.2,363.4 L430.7,363.2 L431.2,363.0 L431.7,362.8 L432.2,362.6 L432.7,362.4 L433.2,362.2 L433.7,362.0 L434.2,361.8 L434.7,361.6 L435.2,361.4 L435.7,361.2 L436.2,361.1 L436.7,361.0 L437.2,360.8 L437.7,360.7 L438.2,360.7 L438.7,360.6 L439.2,360.6 L439.7,360.6 L440.2,360.7 L440.7,360.7 L441.2,360.8 L441.7,361.0 L442.2,361.1 L442.7,361.3 L443.2,361.5 L443.7,361.6 L444.2,361.8 L444.7,362.0 L445.2,362.1 L445.7,362.3 L446.2,362.4 L446.7,362.5 L447.2,362.6 L447.7,362.7 L448.2,362.7 L448.7,362.7 L449.2,362.6 L449.7,362.5 L450.2,362.3 L450.7,362.2 L451.2,361.9 L451.7,361.7 L452.2,361.4 L452.7,361.2 L453.2,360.9 L453.7,360.5 L454.2,360.2 L454.7,359.9 L455.2,359.6 L455.7,359.2 L456.2,358.9 L456.7,358.6 L457.2,358.3 L457.7,358.0 L458.2,357.7 L458.7,357.5 L459.2,357.3 L459.7,357.1 L460.2,356.9 L460.7,356.8 L461.2,356.8 L461.7,356.7 L462.2,356.6 L462.7,356.6 L463.2,356.5 L463.7,356.5 L464.2,356.4 L464.7,356.4 L465.2,356.3 L465.7,356.3 L466.2,356.3 L466.7,356.2 L467.2,356.2 L467.7,356.2 L468.2,356.1 L468.7,356.1 L469.2,356.1 L469.7,356.1 L470.2,356.0 L470.7,356.0 L471.2,356.0 L471.7,355.9 L472.2,355.9 L472.7,355.9 L473.2,355.8 L473.7,355.8 L474.2,355.7 L474.7,355.7 L475.2,355.6 L475.7,355.6 L476.2,355.5 L476.7,355.4 L477.2,355.3 L477.7,355.2 L478.2,355.1 L478.7,354.9 L479.2,354.7 L479.7,354.5 L480.2,354.4 L480.7,354.2 L481.2,353.9 L481.7,353.7 L482.2,353.5 L482.7,353.3 L483.2,353.1 L483.7,352.9 L484.2,352.7 L484.7,352.5 L485.2,352.4 L485.7,352.2 L486.2,352.1 L486.7,352.0 L487.2,351.9 L487.7,351.8 L488.2,351.7 L488.7,351.7 L489.2,351.7 L489.7,351.7 L490.2,351.8 L490.7,351.8 L491.2,351.9 L491.7,352.0 L492.2,352.1 L492.7,352.3 L493.2,352.4 L493.7,352.6 L494.2,352.8 L494.7,352.9 L495.2,353.1 L495.7,353.4 L496.2,353.6 L496.7,353.8 L497.2,354.0 L497.7,354.3 L498.2,354.5 L498.7,354.8 L499.2,355.2 L499.7,355.7 L500.2,356.2 L500.7,356.8 L501.2,357.4 L501.7,358.1 L502.2,358.8 L502.7,359.5 L503.2,360.2 L503.7,361.0 L504.2,361.8 L504.7,362.6 L505.2,363.4 L505.7,364.2 L506.2,364.9 L506.7,365.7 L507.2,366.5 L507.7,367.3 L508.2,368.1 L508.7,368.9 L509.2,369.7 L509.7,370.6 L510.2,371.5 L510.7,372.4 L511.2,373.3 L511.7,374.3 L512.2,375.3 L512.7,376.3 L513.2,377.3 L513.7,378.4 L514.2,379.5 L514.7,380.6 L515.2,381.8 L515.7,383.0 L516.2,384.3 L516.7,385.7 L517.2,387.1 L517.7,388.5 L518.2,390.0 L518.7,391.5 L519.2,393.1 L519.7,394.6 L520.2,396.2 L520.7,397.8 L521.2,399.5 L521.7,401.2 L522.2,402.9 L522.7,404.7 L523.2,406.6 L523.7,408.5 L524.2,410.6 L524.7,412.7 L525.2,415.0 L525.7,417.4 L526.2,420.2 L526.7,423.6 L527.2,427.3 L527.7,430.8 L528.2,433.8 L528.7,436.2 L529.2,438.4 L529.7,440.6 L530.2,442.5 L530.7,444.2 L531.2,445.7 L531.7,446.9 L531.8,447.1" fill="none" stroke="#f03c1e" stroke-width="1"/>
<circle cx="335.6" cy="396.8" r="1.6" fill="#f03c1e"/>
<circle cx="338.9" cy="395.9" r="1.6" fill="#f03c1e"/>
<circle cx="342.1" cy="394.6" r="1.6" fill="#f03c1e"/>
<circle cx="345.4" cy="393.3" r="1.6" fill="#f03c1e"/>
<circle cx="348.6" cy="394.0" r="1.6" fill="#f03c1e"/>
<circle cx="351.9" cy="394.9" r="1.6" fill="#f03c1e"/>
<circle cx="355.2" cy="392.6" r="1.6" fill="#f03c1e"/>
<circle cx="358.4" cy="388.4" r="1.6" fill="#f03c1e"/>
<circle cx="361.7" cy="383.2" r="1.6" fill="#f03c1e"/>
<circle cx="364.9" cy="376.9" r="1.6" fill="#f03c1e"/>
<circle cx="368.2" cy="372.1" r="1.6" fill="#f03c1e"/>
<circle cx="371.5" cy="368.5" r="1.6" fill="#f03c1e"/>
<circle cx="374.7" cy="365.5" r="1.6" fill="#f03c1e"/>
<circle cx="378.0" cy="362.9" r="1.6" fill="#f03c1e"/>
<circle cx="381.2" cy="360.9" r="1.6" fill="#f03c1e"/>
<circle cx="384.5" cy="359.6" r="1.6" fill="#f03c1e"/>
<circle cx="387.8" cy="358.7" r="1.6" fill="#f03c1e"/>
<circle cx="391.0" cy="357.9" r="1.6" fill="#f03c1e"/>
<circle cx="394.3" cy="356.9" r="1.6" fill="#f03c1e"/>
<circle cx="397.5" cy="355.8" r="1.6" fill="#f03c1e"/>
<circle cx="400.8" cy="355.1" r="1.6" fill="#f03c1e"/>
<circle cx="404.1" cy="355.1" r="1.6" fill="#f03c1e"/>
<circle cx="407.3" cy="355.9" r="1.6" fill="#f03c1e"/>
<circle cx="410.6" cy="357.0" r="1.6" fill="#f03c1e"/>
<circle cx="413.8" cy="358.2" r="1.6" fill="#f03c1e"/>
<circle cx="417.1" cy="360.3" r="1.6" fill="#f03c1e"/>
<circle cx="420.4" cy="362.6" r="1.6" fill="#f03c1e"/>
<circle cx="423.6" cy="364.2" r="1.6" fill="#f03c1e"/>
<circle cx="426.9" cy="364.4" r="1.6" fill="#f03c1e"/>
<circle cx="430.1" cy="363.4" r="1.6" fill="#f03c1e"/>
<circle cx="433.4" cy="362.1" r="1.6" fill="#f03c1e"/>
<circle cx="436.7" cy="361.0" r="1.6" fill="#f03c1e"/>
<circle cx="439.9" cy="360.6" r="1.6" fill="#f03c1e"/>
<circle cx="443.2" cy="361.4" r="1.6" fill="#f03c1e"/>
<circle cx="446.4" cy="362.5" r="1.6" fill="#f03c1e"/>
<circle cx="449.7" cy="362.5" r="1.6" fill="#f03c1e"/>
<circle cx="453.0" cy="361.0" r="1.6" fill="#f03c1e"/>
<circle cx="456.2" cy="358.9" r="1.6" fill="#f03c1e"/>
<circle cx="459.5" cy="357.2" r="1.6" fill="#f03c1e"/>
<circle cx="462.7" cy="356.6" r="1.6" fill="#f03c1e"/>
<circle cx="466.0" cy="356.3" r="1.6" fill="#f03c1e"/>
<circle cx="469.3" cy="356.1" r="1.6" fill="#f03c1e"/>
<circle cx="472.5" cy="355.9" r="1.6" fill="#f03c1e"/>
<circle cx="475.8" cy="355.6" r="1.6" fill="#f03c1e"/>
<circle cx="479.0" cy="354.8" r="1.6" fill="#f03c1e"/>
<circle cx="482.3" cy="353.5" r="1.6" fill="#f03c1e"/>
<circle cx="485.6" cy="352.3" r="1.6" fill="#f03c1e"/>
<circle cx="488.8" cy="351.7" r="1.6" fill="#f03c1e"/>
<circle cx="492.1" cy="352.1" r="1.6" fill="#f03c1e"/>
<circle cx="495.3" cy="353.2" r="1.6" fill="#f03c1e"/>
<circle cx="498.6" cy="354.8" r="1.6" fill="#f03c1e"/>
<circle cx="501.9" cy="358.3" r="1.6" fill="#f03c1e"/>
<circle cx="505.1" cy="363.2" r="1.6" fill="#f03c1e"/>
<circle cx="508.4" cy="368.4" r="1.6" fill="#f03c1e"/>
<circle cx="511.6" cy="374.2" r="1.6" fill="#f03c1e"/>
<circle cx="514.9" cy="381.1" r="1.6" fill="#f03c1e"/>
<circle cx="518.2" cy="389.9" r="1.6" fill="#f03c1e"/>
<circle cx="521.4" cy="400.2" r="1.6" fill="#f03c1e"/>
<circle cx="524.7" cy="412.6" r="1.6" fill="#f03c1e"/>
<circle cx="527.9" cy="432.3" r="1.6" fill="#f03c1e"/>
<circle cx="531.2" cy="445.7" r="1.6" fill="#f03c1e"/>
<path d="M333.2,384.0 L333.7,387.4 L334.2,390.8 L334.7,393.6 L335.2,395.5 L335.7,396.0 L336.2,396.0 L336.7,395.9 L337.2,395.8 L337.7,395.6 L338.2,395.4 L338.7,395.2 L339.2,395.0 L339.7,394.8 L340.2,394.6 L340.7,394.4 L341.2,394.2 L341.7,394.0 L342.2,393.8 L342.7,393.6 L343.2,393.3 L343.7,393.1 L344.2,392.9 L344.7,392.7 L345.2,392.5 L345.7,392.4 L346.2,392.4 L346.7,392.4 L347.2,392.6 L347.7,392.8 L348.2,393.0 L348.7,393.3 L349.2,393.5 L349.7,393.8 L350.2,394.0 L350.7,394.1 L351.2,394.2 L351.7,394.2 L352.2,394.0 L352.7,393.7 L353.2,393.4 L353.7,393.0 L354.2,392.7 L354.7,392.3 L355.2,391.8 L355.7,391.3 L356.2,390.7 L356.7,390.0 L357.2,389.4 L357.7,388.7 L358.2,387.9 L358.7,387.2 L359.2,386.4 L359.7,385.6 L360.2,384.8 L360.7,384.0 L361.2,383.2 L361.7,382.4 L362.2,381.5 L362.7,380.5 L363.2,379.6 L363.7,378.5 L364.2,377.5 L364.7,376.5 L365.2,375.6 L365.7,374.8 L366.2,374.0 L366.7,373.3 L367.2,372.6 L367.7,372.0 L368.2,371.3 L368.7,370.7 L369.2,370.1 L369.7,369.6 L370.2,369.0 L370.7,368.5 L371.2,368.0 L371.7,367.5 L372.2,367.0 L372.7,366.6 L373.2,366.1 L373.7,365.6 L374.2,365.2 L374.7,364.7 L375.2,364.3 L375.7,363.9 L376.2,363.5 L376.7,363.1 L377.2,362.7 L377.7,362.3 L378.2,361.9 L378.7,361.6 L379.2,361.3 L379.7,360.9 L380.2,360.7 L380.7,360.4 L381.2,360.1 L381.7,359.9 L382.2,359.7 L382.7,359.5 L383.2,359.3 L383.7,359.1 L384.2,358.9 L384.7,358.8 L385.2,358.6 L385.7,358.5 L386.2,358.3 L386.7,358.2 L387.2,358.0 L387.7,357.9 L388.2,357.8 L388.7,357.7 L389.2,357.5 L389.7,357.4 L390.2,357.3 L390.7,357.1 L391.2,357.0 L391.7,356.9 L392.2,356.7 L392.7,356.6 L393.2,356.4 L393.7,356.3 L394.2,356.1 L394.7,355.9 L395.2,355.8 L395.7,355.6 L396.2,355.4 L396.7,355.3 L397.2,355.1 L397.7,355.0 L398.2,354.8 L398.7,354.7 L399.2,354.6 L399.7,354.5 L400.2,354.4 L400.7,354.3 L401.2,354.2 L401.7,354.2 L402.2,354.2 L402.7,354.2 L403.2,354.2 L403.7,354.3 L404.2,354.4 L404.7,354.4 L405.2,354.5 L405.7,354.6 L406.2,354.8 L406.7,354.9 L407.2,355.0 L407.7,355.2 L408.2,355.3 L408.7,355.5 L409.2,355.7 L409.7,355.9 L410.2,356.0 L410.7,356.2 L411.2,356.4 L411.7,356.6 L412.2,356.7 L412.7,356.9 L413.2,357.1 L413.7,357.4 L414.2,357.6 L414.7,357.9 L415.2,358.2 L415.7,358.5 L416.2,358.9 L416.7,359.2 L417.2,359.6 L417.7,360.0 L418.2,360.3 L418.7,360.7 L419.2,361.0 L419.7,361.4 L420.2,361.7 L420.7,362.1 L421.2,362.4 L421.7,362.6 L422.2,362.9 L422.7,363.1 L423.2,363.3 L423.7,363.5 L424.2,363.6 L424.7,363.7 L425.2,363.7 L425.7,363.7 L426.2,363.7 L426.7,363.6 L427.2,363.5 L427.7,363.4 L428.2,363.3 L428.7,363.1 L429.2,363.0 L429.7,362.8 L430.2,362.6 L430.7,362.4 L431.2,362.2 L431.7,362.0 L432.2,361.8 L432.7,361.6 L433.2,361.4 L433.7,361.2 L434.2,361.0 L434.7,360.8 L435.2,360.6 L435.7,360.4 L436.2,360.3 L436.7,360.2 L437.2,360.0 L437.7,359.9 L438.2,359.9 L438.7,359.8 L439.2,359.8 L439.7,359.8 L440.2,359.9 L440.7,359.9 L441.2,360.0 L441.7,360.2 L442.2,360.3 L442.7,360.5 L443.2,360.7 L443.7,360.8 L444.2,361.0 L444.7,361.2 L445.2,361.3 L445.7,361.5 L446.2,361.6 L446.7,361.7 L447.2,361.8 L447.7,361.9 L448.2,361.9 L448.7,361.9 L449.2,361.8 L449.7,361.7 L450.2,361.5 L450.7,361.4 L451.2,361.1 L451.7,360.9 L452.2,360.6 L452.7,360.4 L453.2,360.1 L453.7,359.7 L454.2,359.4 L454.7,359.1 L455.2,358.8 L455.7,358.4 L456.2,358.1 L456.7,357.8 L457.2,357.5 L457.7,357.2 L458.2,356.9 L458.7,356.7 L459.2,356.5 L459.7,356.3 L460.2,356.1 L460.7,356.0 L461.2,356.0 L461.7,355.9 L462.2,355.8 L462.7,355.8 L463.2,355.7 L463.7,355.7 L464.2,355.6 L464.7,355.6 L465.2,355.5 L465.7,355.5 L466.2,355.5 L466.7,355.4 L467.2,355.4 L467.7,355.4 L468.2,355.3 L468.7,355.3 L469.2,355.3 L469.7,355.3 L470.2,355.2 L470.7,355.2 L471.2,355.2 L471.7,355.1 L472.2,355.1 L472.7,355.1 L473.2,355.0 L473.7,355.0 L474.2,354.9 L474.7,354.9 L475.2,354.8 L475.7,354.8 L476.2,354.7 L476.7,354.6 L477.2,354.5 L477.7,354.4 L478.2,354.3 L478.7,354.1 L479.2,353.9 L479.7,353.7 L480.2,353.6 L480.7,353.4 L481.2,353.1 L481.7,352.9 L482.2,352.7 L482.7,352.5 L483.2,352.3 L483.7,352.1 L484.2,351.9 L484.7,351.7 L485.2,351.6 L485.7,351.4 L486.2,351.3 L486.7,351.2 L487.2,351.1 L487.7,351.0 L488.2,350.9 L488.7,350.9 L489.2,350.9 L489.7,350.9 L490.2,351.0 L490.7,351.0 L491.2,351.1 L491.7,351.2 L492.2,351.3 L492.7,351.5 L493.2,351.6 L493.7,351.8 L494.2,352.0 L494.7,352.1 L495.2,352.3 L495.7,352.6 L496.2,352.8 L496.7,353.0 L497.2,353.2 L497.7,353.5 L498.2,353.7 L498.7,354.0 L499.2,354.4 L499.7,354.9 L500.2,355.4 L500.7,356.0 L501.2,356.6 L501.7,357.3 L502.2,358.0 L502.7,358.7 L503.2,359.4 L503.7,360.2 L504.2,361.0 L504.7,361.8 L505.2,362.6 L505.7,363.4 L506.2,364.1 L506.7,364.9 L507.2,365.7 L507.7,366.5 L508.2,367.3 L508.7,368.1 L509.2,368.9 L509.7,369.8 L510.2,370.7 L510.7,371.6 L511.2,372.5 L511.7,373.5 L512.2,374.5 L512.7,375.5 L513.2,376.5 L513.7,377.6 L514.2,378.7 L514.7,379.8 L515.2,381.0 L515.7,382.2 L516.2,383.5 L516.7,384.9 L517.2,386.3 L517.7,387.7 L518.2,389.2 L518.7,390.7 L519.2,392.3 L519.7,393.8 L520.2,395.4 L520.7,397.0 L521.2,398.7 L521.7,400.4 L522.2,402.1 L522.7,403.9 L523.2,405.8 L523.7,407.7 L524.2,409.8 L524.7,411.9 L525.2,414.2 L525.7,416.6 L526.2,419.4 L526.7,422.8 L527.2,426.5 L527.7,430.0 L528.2,433.0 L528.7,435.4 L529.2,437.6 L529.7,439.8 L530.2,441.7 L530.7,443.4 L531.2,444.9 L531.7,446.1 L531.8,446.3" fill="none" stroke="#2050c0" stroke-width="1"/>
<path d="M335.6,394.2 L337.4,397.4 L333.8,397.4Z" fill="#2050c0"/>
<path d="M338.9,393.3 L340.6,396.5 L337.1,396.5Z" fill="#2050c0"/>
<path d="M342.1,392.0 L343.9,395.2 L340.4,395.2Z" fill="#2050c0"/>
<path d="M345.4,390.7 L347.1,393.9 L343.6,393.9Z" fill="#2050c0"/>
<path d="M348.6,391.4 L350.4,394.6 L346.9,394.6Z" fill="#2050c0"/>
<path d="M351.9,392.3 L353.7,395.5 L350.1,395.5Z" fill="#2050c0"/>
<path d="M355.2,390.0 L356.9,393.2 L353.4,393.2Z" fill="#2050c0"/>
<path d="M358.4,385.7 L360.2,389.0 L356.7,389.0Z" fill="#2050c0"/>
<path d="M361.7,380.6 L363.4,383.8 L359.9,383.8Z" fill="#2050c0"/>
<path d="M364.9,374.2 L366.7,377.5 L363.2,377.5Z" fill="#2050c0"/>
<path d="M368.2,369.5 L370.0,372.7 L366.4,372.7Z" fill="#2050c0"/>
<path d="M371.5,365.9 L373.2,369.1 L369.7,369.1Z" fill="#2050c0"/>
<path d="M374.7,362.9 L376.5,366.1 L373.0,366.1Z" fill="#2050c0"/>
<path d="M378.0,360.3 L379.7,363.5 L376.2,363.5Z" fill="#2050c0"/>
<path d="M381.2,358.3 L383.0,361.5 L379.5,361.5Z" fill="#2050c0"/>
<path d="M384.5,357.0 L386.3,360.2 L382.7,360.2Z" fill="#2050c0"/>
<path d="M387.8,356.1 L389.5,359.3 L386.0,359.3Z" fill="#2050c0"/>
<path d="M391.0,355.2 L392.8,358.4 L389.3,358.4Z" fill="#2050c0"/>
<path d="M394.3,354.3 L396.0,357.5 L392.5,357.5Z" fill="#2050c0"/>
<path d="M397.5,353.2 L399.3,356.4 L395.8,356.4Z" fill="#2050c0"/>
<path d="M400.8,352.4 L402.6,355.7 L399.0,355.7Z" fill="#2050c0"/>
<path d="M404.1,352.5 L405.8,355.7 L402.3,355.7Z" fill="#2050c0"/>
<path d="M407.3,353.2 L409.1,356.5 L405.6,356.5Z" fill="#2050c0"/>
<path d="M410.6,354.3 L412.3,357.5 L408.8,357.5Z" fill="#2050c0"/>
<path d="M413.8,355.6 L415.6,358.8 L412.1,358.8Z" fill="#2050c0"/>
<path d="M417.1,357.7 L418.9,360.9 L415.3,360.9Z" fill="#2050c0"/>
<path d="M420.4,360.0 L422.1,363.2 L418.6,363.2Z" fill="#2050c0"/>
<path d="M423.6,361.6 L425.4,364.8 L421.9,364.8Z" fill="#2050c0"/>
<path d="M426.9,361.7 L428.6,364.9 L425.1,364.9Z" fill="#2050c0"/>
<path d="M430.1,360.8 L431.9,364.0 L428.4,364.0Z" fill="#2050c0"/>
<path d="M433.4,359.5 L435.2,362.7 L431.6,362.7Z" fill="#2050c0"/>
<path d="M436.7,358.3 L438.4,361.5 L434.9,361.5Z" fill="#2050c0"/>
<path d="M439.9,358.0 L441.7,361.2 L438.2,361.2Z" fill="#2050c0"/>
<path d="M443.2,358.8 L444.9,362.0 L441.4,362.0Z" fill="#2050c0"/>
<path d="M446.4,359.8 L448.2,363.1 L444.7,363.1Z" fill="#2050c0"/>
<path d="M449.7,359.9 L451.5,363.1 L447.9,363.1Z" fill="#2050c0"/>
<path d="M453.0,358.4 L454.7,361.6 L451.2,361.6Z" fill="#2050c0"/>
<path d="M456.2,356.2 L458.0,359.5 L454.5,359.5Z" fill="#2050c0"/>
<path d="M459.5,354.5 L461.2,357.7 L457.7,357.7Z" fill="#2050c0"/>
<path d="M462.7,353.9 L464.5,357.1 L461.0,357.1Z" fill="#2050c0"/>
<path d="M466.0,353.6 L467.8,356.9 L464.2,356.9Z" fill="#2050c0"/>
<path d="M469.3,353.4 L471.0,356.7 L467.5,356.7Z" fill="#2050c0"/>
<path d="M472.5,353.2 L474.3,356.5 L470.8,356.5Z" fill="#2050c0"/>
<path d="M475.8,352.9 L477.5,356.1 L474.0,356.1Z" fill="#2050c0"/>
<path d="M479.0,352.1 L480.8,355.4 L477.3,355.4Z" fill="#2050c0"/>
<path d="M482.3,350.9 L484.1,354.1 L480.5,354.1Z" fill="#2050c0"/>
<path d="M485.6,349.6 L487.3,352.8 L483.8,352.8Z" fill="#2050c0"/>
<path d="M488.8,349.1 L490.6,352.3 L487.1,352.3Z" fill="#2050c0"/>
<path d="M492.1,349.5 L493.8,352.7 L490.3,352.7Z" fill="#2050c0"/>
<path d="M495.3,350.6 L497.1,353.8 L493.6,353.8Z" fill="#2050c0"/>
<path d="M498.6,352.1 L500.4,355.4 L496.8,355.4Z" fill="#2050c0"/>
<path d="M501.9,355.7 L503.6,358.9 L500.1,358.9Z" fill="#2050c0"/>
<path d="M505.1,360.6 L506.9,363.8 L503.4,363.8Z" fill="#2050c0"/>
<path d="M508.4,365.7 L510.1,368.9 L506.6,368.9Z" fill="#2050c0"/>
<path d="M511.6,371.5 L513.4,374.7 L509.9,374.7Z" fill="#2050c0"/>
<path d="M514.9,378.4 L516.7,381.7 L513.1,381.7Z" fill="#2050c0"/>
<path d="M518.2,387.2 L519.9,390.5 L516.4,390.5Z" fill="#2050c0"/>
<path d="M521.4,397.6 L523.2,400.8 L519.7,400.8Z" fill="#2050c0"/>
<path d="M524.7,410.0 L526.4,413.2 L522.9,413.2Z" fill="#2050c0"/>
<path d="M527.9,429.7 L529.7,432.9 L526.2,432.9Z" fill="#2050c0"/>
<path d="M531.2,443.1 L533.0,446.3 L529.4,446.3Z" fill="#2050c0"/>
<path d="M333.2,385.0 L333.7,388.4 L334.2,391.8 L334.7,394.6 L335.2,396.5 L335.7,397.0 L336.2,397.0 L336.7,396.9 L337.2,396.8 L337.7,396.6 L338.2,396.4 L338.7,396.2 L339.2,396.0 L339.7,395.8 L340.2,395.6 L340.7,395.4 L341.2,395.2 L341.7,395.0 L342.2,394.8 L342.7,394.6 L343.2,394.3 L343.7,394.1 L344.2,393.9 L344.7,393.7 L345.2,393.5 L345.7,393.4 L346.2,393.4 L346.7,393.4 L347.2,393.6 L347.7,393.8 L348.2,394.0 L348.7,394.3 L349.2,394.5 L349.7,394.8 L350.2,395.0 L350.7,395.1 L351.2,395.2 L351.7,395.2 L352.2,395.0 L352.7,394.7 L353.2,394.4 L353.7,394.0 L354.2,393.7 L354.7,393.3 L355.2,392.8 L355.7,392.3 L356.2,391.7 L356.7,391.0 L357.2,390.4 L357.7,389.7 L358.2,388.9 L358.7,388.2 L359.2,387.4 L359.7,386.6 L360.2,385.8 L360.7,385.0 L361.2,384.2 L361.7,383.4 L362.2,382.5 L362.7,381.5 L363.2,380.6 L363.7,379.5 L364.2,378.5 L364.7,377.5 L365.2,376.6 L365.7,375.8 L366.2,375.0 L366.7,374.3 L367.2,373.6 L367.7,373.0 L368.2,372.3 L368.7,371.7 L369.2,371.1 L369.7,370.6 L370.2,370.0 L370.7,369.5 L371.2,369.0 L371.7,368.5 L372.2,368.0 L372.7,367.6 L373.2,367.1 L373.7,366.6 L374.2,366.2 L374.7,365.7 L375.2,365.3 L375.7,364.9 L376.2,364.5 L376.7,364.1 L377.2,363.7 L377.7,363.3 L378.2,362.9 L378.7,362.6 L379.2,362.3 L379.7,361.9 L380.2,361.7 L380.7,361.4 L381.2,361.1 L381.7,360.9 L382.2,360.7 L382.7,360.5 L383.2,360.3 L383.7,360.1 L384.2,359.9 L384.7,359.8 L385.2,359.6 L385.7,359.5 L386.2,359.3 L386.7,359.2 L387.2,359.0 L387.7,358.9 L388.2,358.8 L388.7,358.7 L389.2,358.5 L389.7,358.4 L390.2,358.3 L390.7,358.1 L391.2,358.0 L391.7,357.9 L392.2,357.7 L392.7,357.6 L393.2,357.4 L393.7,357.3 L394.2,357.1 L394.7,356.9 L395.2,356.8 L395.7,356.6 L396.2,356.4 L396.7,356.3 L397.2,356.1 L397.7,356.0 L398.2,355.8 L398.7,355.7 L399.2,355.6 L399.7,355.5 L400.2,355.4 L400.7,355.3 L401.2,355.2 L401.7,355.2 L402.2,355.2 L402.7,355.2 L403.2,355.2 L403.7,355.3 L404.2,355.4 L404.7,355.4 L405.2,355.5 L405.7,355.6 L406.2,355.8 L406.7,355.9 L407.2,356.0 L407.7,356.2 L408.2,356.3 L408.7,356.5 L409.2,356.7 L409.7,356.9 L410.2,357.0 L410.7,357.2 L411.2,357.4 L411.7,357.6 L412.2,357.7 L412.7,357.9 L413.2,358.1 L413.7,358.4 L414.2,358.6 L414.7,358.9 L415.2,359.2 L415.7,359.5 L416.2,359.9 L416.7,360.2 L417.2,360.6 L417.7,361.0 L418.2,361.3 L418.7,361.7 L419.2,362.0 L419.7,362.4 L420.2,362.7 L420.7,363.1 L421.2,363.4 L421.7,363.6 L422.2,363.9 L422.7,364.1 L423.2,364.3 L423.7,364.5 L424.2,364.6 L424.7,364.7 L425.2,364.7 L425.7,364.7 L426.2,364.7 L426.7,364.6 L427.2,364.5 L427.7,364.4 L428.2,364.3 L428.7,364.1 L429.2,364.0 L429.7,363.8 L430.2,363.6 L430.7,363.4 L431.2,363.2 L431.7,363.0 L432.2,362.8 L432.7,362.6 L433.2,362.4 L433.7,362.2 L434.2,362.0 L434.7,361.8 L435.2,361.6 L435.7,361.4 L436.2,361.3 L436.7,361.2 L437.2,361.0 L437.7,360.9 L438.2,360.9 L438.7,360.8 L439.2,360.8 L439.7,360.8 L440.2,360.9 L440.7,360.9 L441.2,361.0 L441.7,361.2 L442.2,361.3 L442.7,361.5 L443.2,361.7 L443.7,361.8 L444.2,362.0 L444.7,362.2 L445.2,362.3 L445.7,362.5 L446.2,362.6 L446.7,362.7 L447.2,362.8 L447.7,362.9 L448.2,362.9 L448.7,362.9 L449.2,362.8 L449.7,362.7 L450.2,362.5 L450.7,362.4 L451.2,362.1 L451.7,361.9 L452.2,361.6 L452.7,361.4 L453.2,361.1 L453.7,360.7 L454.2,360.4 L454.7,360.1 L455.2,359.8 L455.7,359.4 L456.2,359.1 L456.7,358.8 L457.2,358.5 L457.7,358.2 L458.2,357.9 L458.7,357.7 L459.2,357.5 L459.7,357.3 L460.2,357.1 L460.7,357.0 L461.2,357.0 L461.7,356.9 L462.2,356.8 L462.7,356.8 L463.2,356.7 L463.7,356.7 L464.2,356.6 L464.7,356.6 L465.2,356.5 L465.7,356.5 L466.2,356.5 L466.7,356.4 L467.2,356.4 L467.7,356.4 L468.2,356.3 L468.7,356.3 L469.2,356.3 L469.7,356.3 L470.2,356.2 L470.7,356.2 L471.2,356.2 L471.7,356.1 L472.2,356.1 L472.7,356.1 L473.2,356.0 L473.7,356.0 L474.2,355.9 L474.7,355.9 L475.2,355.8 L475.7,355.8 L476.2,355.7 L476.7,355.6 L477.2,355.5 L477.7,355.4 L478.2,355.3 L478.7,355.1 L479.2,354.9 L479.7,354.7 L480.2,354.6 L480.7,354.4 L481.2,354.1 L481.7,353.9 L482.2,353.7 L482.7,353.5 L483.2,353.3 L483.7,353.1 L484.2,352.9 L484.7,352.7 L485.2,352.6 L485.7,352.4 L486.2,352.3 L486.7,352.2 L487.2,352.1 L487.7,352.0 L488.2,351.9 L488.7,351.9 L489.2,351.9 L489.7,351.9 L490.2,352.0 L490.7,352.0 L491.2,352.1 L491.7,352.2 L492.2,352.3 L492.7,352.5 L493.2,352.6 L493.7,352.8 L494.2,353.0 L494.7,353.1 L495.2,353.3 L495.7,353.6 L496.2,353.8 L496.7,354.0 L497.2,354.2 L497.7,354.5 L498.2,354.7 L498.7,355.0 L499.2,355.4 L499.7,355.9 L500.2,356.4 L500.7,357.0 L501.2,357.6 L501.7,358.3 L502.2,359.0 L502.7,359.7 L503.2,360.4 L503.7,361.2 L504.2,362.0 L504.7,362.8 L505.2,363.6 L505.7,364.4 L506.2,365.1 L506.7,365.9 L507.2,366.7 L507.7,367.5 L508.2,368.3 L508.7,369.1 L509.2,369.9 L509.7,370.8 L510.2,371.7 L510.7,372.6 L511.2,373.5 L511.7,374.5 L512.2,375.5 L512.7,376.5 L513.2,377.5 L513.7,378.6 L514.2,379.7 L514.7,380.8 L515.2,382.0 L515.7,383.2 L516.2,384.5 L516.7,385.9 L517.2,387.3 L517.7,388.7 L518.2,390.2 L518.7,391.7 L519.2,393.3 L519.7,394.8 L520.2,396.4 L520.7,398.0 L521.2,399.7 L521.7,401.4 L522.2,403.1 L522.7,404.9 L523.2,406.8 L523.7,408.7 L524.2,410.8 L524.7,412.9 L525.2,415.2 L525.7,417.6 L526.2,420.4 L526.7,423.8 L527.2,427.5 L527.7,431.0 L528.2,434.0 L528.7,436.4 L529.2,438.6 L529.7,440.8 L530.2,442.7 L530.7,444.4 L531.2,445.9 L531.7,447.1 L531.8,447.3" fill="none" stroke="#d040b8" stroke-width="1"/>
<path d="M335.6,398.8 L337.4,395.6 L333.8,395.6Z" fill="#d040b8"/>
<path d="M338.9,398.0 L340.6,394.8 L337.1,394.8Z" fill="#d040b8"/>
<path d="M342.1,396.7 L343.9,393.5 L340.4,393.5Z" fill="#d040b8"/>
<path d="M345.4,395.3 L347.1,392.1 L343.6,392.1Z" fill="#d040b8"/>
<path d="M348.6,396.1 L350.4,392.9 L346.9,392.9Z" fill="#d040b8"/>
<path d="M351.9,396.9 L353.7,393.7 L350.1,393.7Z" fill="#d040b8"/>
<path d="M355.2,394.7 L356.9,391.5 L353.4,391.5Z" fill="#d040b8"/>
<path d="M358.4,390.4 L360.2,387.2 L356.7,387.2Z" fill="#d040b8"/>
<path d="M361.7,385.2 L363.4,382.0 L359.9,382.0Z" fill="#d040b8"/>
<path d="M364.9,378.9 L366.7,375.7 L363.2,375.7Z" fill="#d040b8"/>
<path d="M368.2,374.2 L370.0,370.9 L366.4,370.9Z" fill="#d040b8"/>
<path d="M371.5,370.6 L373.2,367.3 L369.7,367.3Z" fill="#d040b8"/>
<path d="M374.7,367.6 L376.5,364.3 L373.0,364.3Z" fill="#d040b8"/>
<path d="M378.0,364.9 L379.7,361.7 L376.2,361.7Z" fill="#d040b8"/>
<path d="M381.2,362.9 L383.0,359.7 L379.5,359.7Z" fill="#d040b8"/>
<path d="M384.5,361.7 L386.3,358.5 L382.7,358.5Z" fill="#d040b8"/>
<path d="M387.8,360.7 L389.5,357.5 L386.0,357.5Z" fill="#d040b8"/>
<path d="M391.0,359.9 L392.8,356.7 L389.3,356.7Z" fill="#d040b8"/>
<path d="M394.3,358.9 L396.0,355.7 L392.5,355.7Z" fill="#d040b8"/>
<path d="M397.5,357.9 L399.3,354.6 L395.8,354.6Z" fill="#d040b8"/>
<path d="M400.8,357.1 L402.6,353.9 L399.0,353.9Z" fill="#d040b8"/>
<path d="M404.1,357.2 L405.8,354.0 L402.3,354.0Z" fill="#d040b8"/>
<path d="M407.3,357.9 L409.1,354.7 L405.6,354.7Z" fill="#d040b8"/>
<path d="M410.6,359.0 L412.3,355.8 L408.8,355.8Z" fill="#d040b8"/>
<path d="M413.8,360.3 L415.6,357.0 L412.1,357.0Z" fill="#d040b8"/>
<path d="M417.1,362.4 L418.9,359.1 L415.3,359.1Z" fill="#d040b8"/>
<path d="M420.4,364.7 L422.1,361.5 L418.6,361.5Z" fill="#d040b8"/>
<path d="M423.6,366.3 L425.4,363.1 L421.9,363.1Z" fill="#d040b8"/>
<path d="M426.9,366.4 L428.6,363.2 L425.1,363.2Z" fill="#d040b8"/>
<path d="M430.1,365.5 L431.9,362.2 L428.4,362.2Z" fill="#d040b8"/>
<path d="M433.4,364.1 L435.2,360.9 L431.6,360.9Z" fill="#d040b8"/>
<path d="M436.7,363.0 L438.4,359.8 L434.9,359.8Z" fill="#d040b8"/>
<path d="M439.9,362.7 L441.7,359.4 L438.2,359.4Z" fill="#d040b8"/>
<path d="M443.2,363.5 L444.9,360.3 L441.4,360.3Z" fill="#d040b8"/>
<path d="M446.4,364.5 L448.2,361.3 L444.7,361.3Z" fill="#d040b8"/>
<path d="M449.7,364.5 L451.5,361.3 L447.9,361.3Z" fill="#d040b8"/>
<path d="M453.0,363.0 L454.7,359.8 L451.2,359.8Z" fill="#d040b8"/>
<path d="M456.2,360.9 L458.0,357.7 L454.5,357.7Z" fill="#d040b8"/>
<path d="M459.5,359.2 L461.2,356.0 L457.7,356.0Z" fill="#d040b8"/>
<path d="M462.7,358.6 L464.5,355.4 L461.0,355.4Z" fill="#d040b8"/>
<path d="M466.0,358.3 L467.8,355.1 L464.2,355.1Z" fill="#d040b8"/>
<path d="M469.3,358.1 L471.0,354.9 L467.5,354.9Z" fill="#d040b8"/>
<path d="M472.5,357.9 L474.3,354.7 L470.8,354.7Z" fill="#d040b8"/>
<path d="M475.8,357.6 L477.5,354.4 L474.0,354.4Z" fill="#d040b8"/>
<path d="M479.0,356.8 L480.8,353.6 L477.3,353.6Z" fill="#d040b8"/>
<path d="M482.3,355.5 L484.1,352.3 L480.5,352.3Z" fill="#d040b8"/>
<path d="M485.6,354.3 L487.3,351.1 L483.8,351.1Z" fill="#d040b8"/>
<path d="M488.8,353.7 L490.6,350.5 L487.1,350.5Z" fill="#d040b8"/>
<path d="M492.1,354.2 L493.8,350.9 L490.3,350.9Z" fill="#d040b8"/>
<path d="M495.3,355.2 L497.1,352.0 L493.6,352.0Z" fill="#d040b8"/>
<path d="M498.6,356.8 L500.4,353.6 L496.8,353.6Z" fill="#d040b8"/>
<path d="M501.9,360.3 L503.6,357.1 L500.1,357.1Z" fill="#d040b8"/>
<path d="M505.1,365.3 L506.9,362.1 L503.4,362.1Z" fill="#d040b8"/>
<path d="M508.4,370.4 L510.1,367.2 L506.6,367.2Z" fill="#d040b8"/>
<path d="M511.6,376.2 L513.4,373.0 L509.9,373.0Z" fill="#d040b8"/>
<path d="M514.9,383.1 L516.7,379.9 L513.1,379.9Z" fill="#d040b8"/>
<path d="M518.2,391.9 L519.9,388.7 L516.4,388.7Z" fill="#d040b8"/>
<path d="M521.4,402.3 L523.2,399.0 L519.7,399.0Z" fill="#d040b8"/>
<path d="M524.7,414.7 L526.4,411.5 L522.9,411.5Z" fill="#d040b8"/>
<path d="M527.9,434.4 L529.7,431.2 L526.2,431.2Z" fill="#d040b8"/>
<path d="M531.2,447.7 L533.0,444.5 L529.4,444.5Z" fill="#d040b8"/>
</g>
<rect x="332.5" y="335.2" width="199.5" height="133.3" fill="none" stroke="#222" stroke-width="1.3"/>
<line x1="332.5" y1="468.5" x2="330.0" y2="468.5" stroke="#333" stroke-width="0.8"/>
<line x1="332.5" y1="448.4" x2="331.1" y2="448.4" stroke="#333" stroke-width="0.8"/>
<line x1="332.5" y1="436.7" x2="331.1" y2="436.7" stroke="#333" stroke-width="0.8"/>
<line x1="332.5" y1="428.4" x2="331.1" y2="428.4" stroke="#333" stroke-width="0.8"/>
<line x1="332.5" y1="421.9" x2="331.1" y2="421.9" stroke="#333" stroke-width="0.8"/>
<line x1="332.5" y1="416.6" x2="331.1" y2="416.6" stroke="#333" stroke-width="0.8"/>
<line x1="332.5" y1="412.2" x2="331.1" y2="412.2" stroke="#333" stroke-width="0.8"/>
<line x1="332.5" y1="408.3" x2="331.1" y2="408.3" stroke="#333" stroke-width="0.8"/>
<line x1="332.5" y1="404.9" x2="331.1" y2="404.9" stroke="#333" stroke-width="0.8"/>
<line x1="332.5" y1="401.9" x2="330.0" y2="401.9" stroke="#333" stroke-width="0.8"/>
<line x1="332.5" y1="381.8" x2="331.1" y2="381.8" stroke="#333" stroke-width="0.8"/>
<line x1="332.5" y1="370.0" x2="331.1" y2="370.0" stroke="#333" stroke-width="0.8"/>
<line x1="332.5" y1="361.7" x2="331.1" y2="361.7" stroke="#333" stroke-width="0.8"/>
<line x1="332.5" y1="355.3" x2="331.1" y2="355.3" stroke="#333" stroke-width="0.8"/>
<line x1="332.5" y1="350.0" x2="331.1" y2="350.0" stroke="#333" stroke-width="0.8"/>
<line x1="332.5" y1="345.5" x2="331.1" y2="345.5" stroke="#333" stroke-width="0.8"/>
<line x1="332.5" y1="341.7" x2="331.1" y2="341.7" stroke="#333" stroke-width="0.8"/>
<line x1="332.5" y1="338.2" x2="331.1" y2="338.2" stroke="#333" stroke-width="0.8"/>
<line x1="332.5" y1="335.2" x2="330.0" y2="335.2" stroke="#333" stroke-width="0.8"/>
<text x="328.2" y="337.8" font-size="9.4" fill="#333" font-weight="normal" text-anchor="end" stroke="#333" stroke-width="0.25" >10</text>
<text x="328.2" y="404.5" font-size="9.4" fill="#333" font-weight="normal" text-anchor="end" stroke="#333" stroke-width="0.25" >1</text>
<text x="328.2" y="471.1" font-size="9.4" fill="#333" font-weight="normal" text-anchor="end" stroke="#333" stroke-width="0.25" >0.1</text>
<line x1="335.3" y1="468.5" x2="335.3" y2="470.7" stroke="#333" stroke-width="0.9"/>
<line x1="351.7" y1="468.5" x2="351.7" y2="469.9" stroke="#333" stroke-width="0.9"/>
<line x1="368.1" y1="468.5" x2="368.1" y2="470.7" stroke="#333" stroke-width="0.9"/>
<line x1="384.5" y1="468.5" x2="384.5" y2="469.9" stroke="#333" stroke-width="0.9"/>
<line x1="400.9" y1="468.5" x2="400.9" y2="470.7" stroke="#333" stroke-width="0.9"/>
<line x1="417.3" y1="468.5" x2="417.3" y2="469.9" stroke="#333" stroke-width="0.9"/>
<line x1="433.6" y1="468.5" x2="433.6" y2="470.7" stroke="#333" stroke-width="0.9"/>
<line x1="450.0" y1="468.5" x2="450.0" y2="469.9" stroke="#333" stroke-width="0.9"/>
<line x1="466.4" y1="468.5" x2="466.4" y2="470.7" stroke="#333" stroke-width="0.9"/>
<line x1="482.8" y1="468.5" x2="482.8" y2="469.9" stroke="#333" stroke-width="0.9"/>
<line x1="499.2" y1="468.5" x2="499.2" y2="470.7" stroke="#333" stroke-width="0.9"/>
<line x1="515.6" y1="468.5" x2="515.6" y2="469.9" stroke="#333" stroke-width="0.9"/>
<line x1="532.0" y1="468.5" x2="532.0" y2="470.7" stroke="#333" stroke-width="0.9"/>
<text x="335.3" y="478.8" font-size="9.4" fill="#333" font-weight="normal" text-anchor="middle" stroke="#333" stroke-width="0.25" >400</text>
<text x="368.1" y="478.8" font-size="9.4" fill="#333" font-weight="normal" text-anchor="middle" stroke="#333" stroke-width="0.25" >600</text>
<text x="400.9" y="478.8" font-size="9.4" fill="#333" font-weight="normal" text-anchor="middle" stroke="#333" stroke-width="0.25" >800</text>
<text x="433.6" y="478.8" font-size="9.4" fill="#333" font-weight="normal" text-anchor="middle" stroke="#333" stroke-width="0.25" >1000</text>
<text x="466.4" y="478.8" font-size="9.4" fill="#333" font-weight="normal" text-anchor="middle" stroke="#333" stroke-width="0.25" >1200</text>
<text x="499.2" y="478.8" font-size="9.4" fill="#333" font-weight="normal" text-anchor="middle" stroke="#333" stroke-width="0.25" >1400</text>
<text x="532" y="478.8" font-size="9.4" fill="#333" font-weight="normal" text-anchor="middle" stroke="#333" stroke-width="0.25" >1600</text>
<text x="432.5" y="490.5" font-size="9.5" fill="#3a3a3a" font-weight="normal" text-anchor="middle" letter-spacing="0.6" stroke="#3a3a3a" stroke-width="0.2" >Wavelength (nm)</text>
<text x="0" y="0" font-size="10" fill="#3a3a3a" stroke="#3a3a3a" stroke-width="0.3" text-anchor="middle" transform="translate(315.6,400.5) rotate(-90)"><tspan font-style="italic">R</tspan> (mA/W)</text>
<line x1="351.8" y1="415.3" x2="369.1" y2="415.3" stroke="#111" stroke-width="1.2"/>
<rect x="358.5" y="413.4" width="3.8" height="3.8" fill="#111"/>
<text x="371.2" y="418.5" font-size="8.8" fill="#333" font-weight="normal" text-anchor="start" stroke="#333" stroke-width="0.15" >RT</text>
<line x1="351.8" y1="425" x2="369.1" y2="425" stroke="#f03c1e" stroke-width="1.2"/>
<circle cx="360.4" cy="425.0" r="1.9" fill="#f03c1e"/>
<text x="371.2" y="428.2" font-size="8.8" fill="#333" font-weight="normal" text-anchor="start" stroke="#333" stroke-width="0.15" >280K</text>
<line x1="351.8" y1="434.6" x2="369.1" y2="434.6" stroke="#2050c0" stroke-width="1.2"/>
<path d="M360.4,432.4 L362.5,436.2 L358.3,436.2Z" fill="#2050c0"/>
<text x="371.2" y="437.8" font-size="8.8" fill="#333" font-weight="normal" text-anchor="start" stroke="#333" stroke-width="0.15" >260K</text>
<line x1="351.8" y1="444.2" x2="369.1" y2="444.2" stroke="#d040b8" stroke-width="1.2"/>
<path d="M360.4,446.4 L362.5,442.6 L358.3,442.6Z" fill="#d040b8"/>
<text x="371.2" y="447.4" font-size="8.8" fill="#333" font-weight="normal" text-anchor="start" stroke="#333" stroke-width="0.15" >240K</text>
</svg>
</body></html>
